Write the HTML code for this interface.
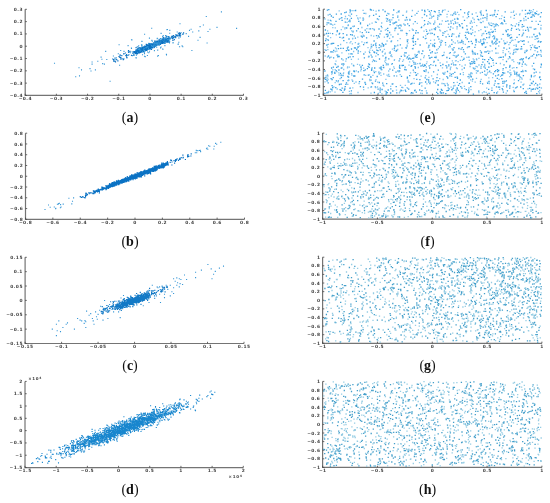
<!DOCTYPE html>
<html><head><meta charset="utf-8"><style>
html,body{margin:0;padding:0;background:#fff;width:550px;height:503px;overflow:hidden}
svg{display:block}
</style></head><body>
<svg width="550" height="503" viewBox="0 0 550 503">
<g font-family="DejaVu Sans, sans-serif" font-weight="bold" font-size="4.4" fill="#444" letter-spacing="0.45">
<path d="M25.2 9.3V95.45H243.5" fill="none" stroke="#747474" stroke-width="1.2"/>
<path d="M25.20 95.45v-1.7M56.39 95.45v-1.7M87.57 95.45v-1.7M118.76 95.45v-1.7M149.94 95.45v-1.7M181.13 95.45v-1.7M212.31 95.45v-1.7M243.50 95.45v-1.7M25.2 95.45h1.7M25.2 83.14h1.7M25.2 70.84h1.7M25.2 58.53h1.7M25.2 46.22h1.7M25.2 33.91h1.7M25.2 21.61h1.7M25.2 9.30h1.7" fill="none" stroke="#444" stroke-width="0.8"/>
<text x="25.3" y="100.0" text-anchor="middle">−0.4</text>
<text x="56.5" y="100.0" text-anchor="middle">−0.3</text>
<text x="87.7" y="100.0" text-anchor="middle">−0.2</text>
<text x="118.9" y="100.0" text-anchor="middle">−0.1</text>
<text x="150.0" y="100.0" text-anchor="middle">0</text>
<text x="181.2" y="100.0" text-anchor="middle">0.1</text>
<text x="212.4" y="100.0" text-anchor="middle">0.2</text>
<text x="243.6" y="100.0" text-anchor="middle">0.3</text>
<text x="23.0" y="97.0" text-anchor="end">−0.4</text>
<text x="23.0" y="84.6" text-anchor="end">−0.3</text>
<text x="23.0" y="72.3" text-anchor="end">−0.2</text>
<text x="23.0" y="60.0" text-anchor="end">−0.1</text>
<text x="23.0" y="47.7" text-anchor="end">0</text>
<text x="23.0" y="35.4" text-anchor="end">0.1</text>
<text x="23.0" y="23.1" text-anchor="end">0.2</text>
<text x="23.0" y="10.8" text-anchor="end">0.3</text>
<path d="M25.5 133.2V219.3H244.5" fill="none" stroke="#747474" stroke-width="1.2"/>
<path d="M25.50 219.3v-1.7M52.87 219.3v-1.7M80.25 219.3v-1.7M107.63 219.3v-1.7M135.00 219.3v-1.7M162.38 219.3v-1.7M189.75 219.3v-1.7M217.12 219.3v-1.7M244.50 219.3v-1.7M25.5 219.30h1.7M25.5 208.54h1.7M25.5 197.78h1.7M25.5 187.01h1.7M25.5 176.25h1.7M25.5 165.49h1.7M25.5 154.72h1.7M25.5 143.96h1.7M25.5 133.20h1.7" fill="none" stroke="#444" stroke-width="0.8"/>
<text x="25.6" y="223.9" text-anchor="middle">−0.8</text>
<text x="53.0" y="223.9" text-anchor="middle">−0.6</text>
<text x="80.3" y="223.9" text-anchor="middle">−0.4</text>
<text x="107.7" y="223.9" text-anchor="middle">−0.2</text>
<text x="135.1" y="223.9" text-anchor="middle">0</text>
<text x="162.5" y="223.9" text-anchor="middle">0.2</text>
<text x="189.9" y="223.9" text-anchor="middle">0.4</text>
<text x="217.2" y="223.9" text-anchor="middle">0.6</text>
<text x="244.6" y="223.9" text-anchor="middle">0.8</text>
<text x="23.3" y="220.8" text-anchor="end">−0.8</text>
<text x="23.3" y="210.0" text-anchor="end">−0.6</text>
<text x="23.3" y="199.3" text-anchor="end">−0.4</text>
<text x="23.3" y="188.5" text-anchor="end">−0.2</text>
<text x="23.3" y="177.8" text-anchor="end">0</text>
<text x="23.3" y="167.0" text-anchor="end">0.2</text>
<text x="23.3" y="156.2" text-anchor="end">0.4</text>
<text x="23.3" y="145.5" text-anchor="end">0.6</text>
<text x="23.3" y="134.7" text-anchor="end">0.8</text>
<path d="M25.1 257.3V343.5H244.0" fill="none" stroke="#747474" stroke-width="1.2"/>
<path d="M25.10 343.5v-1.7M61.58 343.5v-1.7M98.07 343.5v-1.7M134.55 343.5v-1.7M171.03 343.5v-1.7M207.52 343.5v-1.7M244.00 343.5v-1.7M25.1 343.50h1.7M25.1 329.13h1.7M25.1 314.77h1.7M25.1 300.40h1.7M25.1 286.03h1.7M25.1 271.67h1.7M25.1 257.30h1.7" fill="none" stroke="#444" stroke-width="0.8"/>
<text x="25.2" y="348.1" text-anchor="middle">−0.15</text>
<text x="61.7" y="348.1" text-anchor="middle">−0.1</text>
<text x="98.2" y="348.1" text-anchor="middle">−0.05</text>
<text x="134.7" y="348.1" text-anchor="middle">0</text>
<text x="171.1" y="348.1" text-anchor="middle">0.05</text>
<text x="207.6" y="348.1" text-anchor="middle">0.1</text>
<text x="244.1" y="348.1" text-anchor="middle">0.15</text>
<text x="22.9" y="345.0" text-anchor="end">−0.15</text>
<text x="22.9" y="330.6" text-anchor="end">−0.1</text>
<text x="22.9" y="316.3" text-anchor="end">−0.05</text>
<text x="22.9" y="301.9" text-anchor="end">0</text>
<text x="22.9" y="287.5" text-anchor="end">0.05</text>
<text x="22.9" y="273.2" text-anchor="end">0.1</text>
<text x="22.9" y="258.8" text-anchor="end">0.15</text>
<path d="M25.0 381.4V467.55H243.3" fill="none" stroke="#747474" stroke-width="1.2"/>
<path d="M25.00 467.55v-1.7M56.19 467.55v-1.7M87.37 467.55v-1.7M118.56 467.55v-1.7M149.74 467.55v-1.7M180.93 467.55v-1.7M212.11 467.55v-1.7M243.30 467.55v-1.7M25.0 467.55h1.7M25.0 455.24h1.7M25.0 442.94h1.7M25.0 430.63h1.7M25.0 418.32h1.7M25.0 406.01h1.7M25.0 393.71h1.7M25.0 381.40h1.7" fill="none" stroke="#444" stroke-width="0.8"/>
<text x="25.1" y="472.2" text-anchor="middle">−1.5</text>
<text x="56.3" y="472.2" text-anchor="middle">−1</text>
<text x="87.5" y="472.2" text-anchor="middle">−0.5</text>
<text x="118.7" y="472.2" text-anchor="middle">0</text>
<text x="149.8" y="472.2" text-anchor="middle">0.5</text>
<text x="181.0" y="472.2" text-anchor="middle">1</text>
<text x="212.2" y="472.2" text-anchor="middle">1.5</text>
<text x="243.4" y="472.2" text-anchor="middle">2</text>
<text x="22.8" y="469.1" text-anchor="end">−1.5</text>
<text x="22.8" y="456.7" text-anchor="end">−1</text>
<text x="22.8" y="444.4" text-anchor="end">−0.5</text>
<text x="22.8" y="432.1" text-anchor="end">0</text>
<text x="22.8" y="419.8" text-anchor="end">0.5</text>
<text x="22.8" y="407.5" text-anchor="end">1</text>
<text x="22.8" y="395.2" text-anchor="end">1.5</text>
<text x="22.8" y="382.9" text-anchor="end">2</text>
<path d="M323.3 9.2V95.3H541.9" fill="none" stroke="#747474" stroke-width="1.2"/>
<path d="M323.30 95.3v-1.7M377.95 95.3v-1.7M432.60 95.3v-1.7M487.25 95.3v-1.7M541.90 95.3v-1.7M323.3 95.30h1.7M323.3 86.69h1.7M323.3 78.08h1.7M323.3 69.47h1.7M323.3 60.86h1.7M323.3 52.25h1.7M323.3 43.64h1.7M323.3 35.03h1.7M323.3 26.42h1.7M323.3 17.81h1.7M323.3 9.20h1.7" fill="none" stroke="#444" stroke-width="0.8"/>
<text x="323.4" y="99.9" text-anchor="middle">−1</text>
<text x="378.1" y="99.9" text-anchor="middle">−0.5</text>
<text x="432.7" y="99.9" text-anchor="middle">0</text>
<text x="487.4" y="99.9" text-anchor="middle">0.5</text>
<text x="542.0" y="99.9" text-anchor="middle">1</text>
<text x="321.1" y="96.8" text-anchor="end">−1</text>
<text x="321.1" y="88.2" text-anchor="end">−0.8</text>
<text x="321.1" y="79.6" text-anchor="end">−0.6</text>
<text x="321.1" y="71.0" text-anchor="end">−0.4</text>
<text x="321.1" y="62.4" text-anchor="end">−0.2</text>
<text x="321.1" y="53.8" text-anchor="end">0</text>
<text x="321.1" y="45.1" text-anchor="end">0.2</text>
<text x="321.1" y="36.5" text-anchor="end">0.4</text>
<text x="321.1" y="27.9" text-anchor="end">0.6</text>
<text x="321.1" y="19.3" text-anchor="end">0.8</text>
<text x="321.1" y="10.7" text-anchor="end">1</text>
<path d="M322.6 133.1V219.2H541.9" fill="none" stroke="#747474" stroke-width="1.2"/>
<path d="M322.60 219.2v-1.7M377.43 219.2v-1.7M432.25 219.2v-1.7M487.07 219.2v-1.7M541.90 219.2v-1.7M322.6 219.20h1.7M322.6 210.59h1.7M322.6 201.98h1.7M322.6 193.37h1.7M322.6 184.76h1.7M322.6 176.15h1.7M322.6 167.54h1.7M322.6 158.93h1.7M322.6 150.32h1.7M322.6 141.71h1.7M322.6 133.10h1.7" fill="none" stroke="#444" stroke-width="0.8"/>
<text x="322.7" y="223.8" text-anchor="middle">−1</text>
<text x="377.5" y="223.8" text-anchor="middle">−0.5</text>
<text x="432.4" y="223.8" text-anchor="middle">0</text>
<text x="487.2" y="223.8" text-anchor="middle">0.5</text>
<text x="542.0" y="223.8" text-anchor="middle">1</text>
<text x="320.4" y="220.7" text-anchor="end">−1</text>
<text x="320.4" y="212.1" text-anchor="end">−0.8</text>
<text x="320.4" y="203.5" text-anchor="end">−0.6</text>
<text x="320.4" y="194.9" text-anchor="end">−0.4</text>
<text x="320.4" y="186.3" text-anchor="end">−0.2</text>
<text x="320.4" y="177.6" text-anchor="end">0</text>
<text x="320.4" y="169.0" text-anchor="end">0.2</text>
<text x="320.4" y="160.4" text-anchor="end">0.4</text>
<text x="320.4" y="151.8" text-anchor="end">0.6</text>
<text x="320.4" y="143.2" text-anchor="end">0.8</text>
<text x="320.4" y="134.6" text-anchor="end">1</text>
<path d="M322.6 257.2V343.3H541.9" fill="none" stroke="#747474" stroke-width="1.2"/>
<path d="M322.60 343.3v-1.7M377.43 343.3v-1.7M432.25 343.3v-1.7M487.07 343.3v-1.7M541.90 343.3v-1.7M322.6 343.30h1.7M322.6 334.69h1.7M322.6 326.08h1.7M322.6 317.47h1.7M322.6 308.86h1.7M322.6 300.25h1.7M322.6 291.64h1.7M322.6 283.03h1.7M322.6 274.42h1.7M322.6 265.81h1.7M322.6 257.20h1.7" fill="none" stroke="#444" stroke-width="0.8"/>
<text x="322.7" y="347.9" text-anchor="middle">−1</text>
<text x="377.5" y="347.9" text-anchor="middle">−0.5</text>
<text x="432.4" y="347.9" text-anchor="middle">0</text>
<text x="487.2" y="347.9" text-anchor="middle">0.5</text>
<text x="542.0" y="347.9" text-anchor="middle">1</text>
<text x="320.4" y="344.8" text-anchor="end">−1</text>
<text x="320.4" y="336.2" text-anchor="end">−0.8</text>
<text x="320.4" y="327.6" text-anchor="end">−0.6</text>
<text x="320.4" y="319.0" text-anchor="end">−0.4</text>
<text x="320.4" y="310.4" text-anchor="end">−0.2</text>
<text x="320.4" y="301.8" text-anchor="end">0</text>
<text x="320.4" y="293.1" text-anchor="end">0.2</text>
<text x="320.4" y="284.5" text-anchor="end">0.4</text>
<text x="320.4" y="275.9" text-anchor="end">0.6</text>
<text x="320.4" y="267.3" text-anchor="end">0.8</text>
<text x="320.4" y="258.7" text-anchor="end">1</text>
<path d="M322.6 381.4V467.4H541.9" fill="none" stroke="#747474" stroke-width="1.2"/>
<path d="M322.60 467.4v-1.7M377.43 467.4v-1.7M432.25 467.4v-1.7M487.07 467.4v-1.7M541.90 467.4v-1.7M322.6 467.40h1.7M322.6 458.80h1.7M322.6 450.20h1.7M322.6 441.60h1.7M322.6 433.00h1.7M322.6 424.40h1.7M322.6 415.80h1.7M322.6 407.20h1.7M322.6 398.60h1.7M322.6 390.00h1.7M322.6 381.40h1.7" fill="none" stroke="#444" stroke-width="0.8"/>
<text x="322.7" y="472.0" text-anchor="middle">−1</text>
<text x="377.5" y="472.0" text-anchor="middle">−0.5</text>
<text x="432.4" y="472.0" text-anchor="middle">0</text>
<text x="487.2" y="472.0" text-anchor="middle">0.5</text>
<text x="542.0" y="472.0" text-anchor="middle">1</text>
<text x="320.4" y="468.9" text-anchor="end">−1</text>
<text x="320.4" y="460.3" text-anchor="end">−0.8</text>
<text x="320.4" y="451.7" text-anchor="end">−0.6</text>
<text x="320.4" y="443.1" text-anchor="end">−0.4</text>
<text x="320.4" y="434.5" text-anchor="end">−0.2</text>
<text x="320.4" y="425.9" text-anchor="end">0</text>
<text x="320.4" y="417.3" text-anchor="end">0.2</text>
<text x="320.4" y="408.7" text-anchor="end">0.4</text>
<text x="320.4" y="400.1" text-anchor="end">0.6</text>
<text x="320.4" y="391.5" text-anchor="end">0.8</text>
<text x="320.4" y="382.9" text-anchor="end">1</text>
</g>
<g font-family="DejaVu Sans, sans-serif" font-weight="bold" font-size="4" fill="#444" letter-spacing="0.7"><text x="28.3" y="380.2">×10<tspan dy="-1.2" font-size="3.2">4</tspan></text><text x="228.6" y="478.2">×10<tspan dy="-1.2" font-size="3.2">4</tspan></text></g>
<path stroke="#0a70c2" stroke-width="1.2" stroke-linecap="square" d="M159.5 41.5h0M136.3 52.8h0M153.9 43.2h0M147.0 46.3h0M166.2 39.5h0M160.9 43.7h0M135.5 51.3h0M148.9 47.6h0M151.6 45.7h0M139.1 51.2h0M146.6 50.5h0M155.4 42.9h0M155.2 43.1h0M166.2 41.0h0M143.5 48.9h0M162.0 42.6h0M164.5 42.4h0M155.7 42.8h0M159.7 42.7h0M157.5 43.2h0M168.8 38.1h0M153.7 42.8h0M138.5 52.0h0M141.1 50.6h0M146.7 48.0h0M160.7 43.2h0M136.2 52.1h0M145.3 49.0h0M140.8 51.3h0M148.8 47.1h0M146.6 48.4h0M154.6 44.1h0M166.6 39.9h0M165.8 38.9h0M142.0 48.0h0M152.6 45.3h0M138.0 52.7h0M136.1 49.8h0M149.0 45.5h0M143.1 47.1h0M154.5 43.8h0M139.9 52.1h0M137.1 52.6h0M143.9 49.9h0M159.0 42.9h0M146.4 48.5h0M158.5 43.7h0M140.4 50.4h0M168.8 40.7h0M168.6 37.8h0M141.8 49.6h0M150.5 46.6h0M136.4 50.1h0M142.6 49.3h0M148.0 46.4h0M168.1 40.7h0M143.6 48.4h0M150.2 45.2h0M153.4 45.0h0M143.6 50.0h0M135.7 52.2h0M159.3 44.6h0M157.0 43.1h0M147.7 45.1h0M139.4 50.9h0M143.9 48.5h0M150.4 46.7h0M148.1 48.4h0M136.6 52.0h0M157.2 43.5h0M149.7 45.9h0M155.6 43.3h0M140.7 49.9h0M146.2 48.9h0M160.4 44.5h0M140.7 50.8h0M159.1 44.4h0M149.7 47.6h0M158.2 44.0h0M157.5 41.2h0M148.8 46.7h0M148.8 46.7h0M155.8 43.7h0M146.8 47.0h0M144.4 47.6h0M159.9 42.8h0M154.2 45.3h0M161.6 41.7h0M161.7 42.7h0M143.2 51.7h0M154.3 45.2h0M157.7 43.4h0M147.9 46.4h0M160.6 41.4h0M152.7 46.8h0M149.8 47.0h0M149.6 45.0h0M155.4 44.7h0M137.9 49.6h0M153.1 44.0h0M155.4 45.6h0M147.2 48.3h0M163.8 41.7h0M159.1 40.6h0M150.4 47.0h0M162.3 43.0h0M153.8 44.2h0M140.1 51.2h0M150.5 45.2h0M134.5 52.2h0M166.2 40.0h0M165.7 38.8h0M150.7 44.9h0M156.6 44.8h0M147.9 45.9h0M154.5 44.7h0M136.9 51.8h0M160.1 43.2h0M161.1 42.3h0M163.7 39.4h0M157.3 44.0h0M166.1 38.6h0M138.6 51.9h0M149.5 44.7h0M152.7 45.0h0M155.8 43.3h0M154.4 43.2h0M147.2 46.4h0M139.7 48.8h0M148.6 45.6h0M160.5 40.5h0M143.3 49.3h0M136.6 50.1h0M162.8 40.2h0M159.1 45.0h0M154.0 46.3h0M157.5 43.2h0M150.9 45.7h0M155.9 45.9h0M162.6 40.8h0M134.5 52.2h0M137.2 52.8h0M149.4 44.8h0M164.5 42.0h0M157.4 42.3h0M144.7 47.3h0M156.5 43.9h0M157.4 44.3h0M161.2 43.0h0M149.7 43.7h0M147.8 47.2h0M139.0 51.4h0M165.9 40.6h0M149.4 47.1h0M138.7 50.8h0M140.1 52.0h0M136.2 51.8h0M142.9 48.9h0M162.5 43.4h0M145.2 48.7h0M155.0 46.0h0M158.9 43.5h0M150.4 46.9h0M161.4 42.9h0M154.7 41.1h0M156.4 44.7h0M159.2 42.6h0M162.5 43.2h0M162.6 39.1h0M153.6 44.7h0M153.0 44.4h0M141.9 51.9h0M152.6 47.7h0M139.7 47.9h0M159.3 43.3h0M148.7 48.6h0M163.5 42.5h0M159.7 41.8h0M152.7 46.8h0M147.0 46.3h0M139.6 52.4h0M149.5 48.5h0M160.1 41.1h0M142.4 48.4h0M140.7 52.4h0M145.9 49.6h0M159.1 43.1h0M145.8 49.3h0M157.7 41.4h0M135.9 52.7h0M138.7 50.2h0M156.3 44.3h0M136.1 53.1h0M161.4 41.6h0M157.7 44.4h0M139.5 49.6h0M161.4 42.0h0M145.7 49.1h0M137.1 51.8h0M142.1 49.1h0M145.0 48.7h0M147.4 46.7h0M165.2 41.0h0M152.8 45.1h0M137.7 53.1h0M143.2 49.8h0M166.2 41.2h0M137.6 50.8h0M146.6 49.5h0M161.8 42.9h0M139.7 52.6h0M162.1 41.6h0M162.1 40.4h0M151.0 46.4h0M137.4 50.6h0M142.4 49.6h0M152.0 47.0h0M155.7 44.3h0M148.5 47.8h0M143.1 49.3h0M155.0 44.4h0M166.8 40.8h0M144.6 48.3h0M143.5 51.0h0M147.9 47.2h0M153.4 45.1h0M157.3 41.1h0M142.9 47.4h0M146.6 48.1h0M161.5 41.7h0M153.6 45.3h0M136.3 53.3h0M146.7 45.4h0M139.7 51.1h0M165.8 37.9h0M162.2 40.6h0M162.8 41.1h0M135.5 53.4h0M166.3 38.7h0M146.9 49.0h0M165.3 40.4h0M166.2 40.9h0M156.0 45.3h0M157.3 43.5h0M159.2 39.4h0M161.2 43.3h0M165.1 40.3h0M147.0 49.1h0M144.9 47.8h0M155.1 43.7h0M150.3 46.6h0M157.1 44.5h0M163.8 41.6h0M134.9 52.5h0M149.0 47.3h0M160.1 41.2h0M155.5 42.4h0M142.4 47.5h0M144.7 46.1h0M144.0 49.3h0M146.6 47.9h0M159.5 43.5h0M165.2 40.7h0M143.7 51.3h0M167.1 38.5h0M150.0 45.6h0M161.1 40.0h0M154.3 47.4h0M151.9 47.0h0M143.2 48.0h0M150.2 44.4h0M137.8 48.7h0M145.8 47.4h0M139.6 52.8h0M139.1 52.4h0M164.7 40.5h0M156.5 42.7h0M152.0 47.3h0M151.2 46.1h0M149.6 48.2h0M149.9 47.0h0M151.4 46.3h0M145.3 48.8h0M146.0 47.2h0M162.0 42.7h0M140.4 50.2h0M150.6 44.7h0M143.2 51.2h0M153.2 45.9h0M165.1 39.4h0M149.7 48.1h0M168.2 38.9h0M138.9 51.0h0M151.0 46.6h0M143.3 49.8h0M156.6 43.9h0M139.6 48.9h0M143.8 48.6h0M144.6 48.7h0M141.8 50.8h0M147.6 46.4h0M162.1 41.3h0M138.8 52.8h0M146.7 46.5h0M158.7 43.1h0M147.4 46.3h0M138.0 49.8h0M141.1 48.9h0M151.7 46.7h0M164.5 41.2h0M162.2 41.5h0M164.8 41.1h0M158.3 44.2h0M151.9 45.4h0M149.0 47.3h0M163.8 41.3h0M146.2 49.2h0M150.0 46.9h0M150.4 46.3h0M161.4 41.1h0M151.5 49.4h0M143.3 48.4h0M158.8 42.5h0M148.9 46.4h0M162.5 39.8h0M154.1 45.1h0M144.7 48.3h0M150.1 45.2h0M166.3 40.5h0M157.8 44.4h0M134.9 51.5h0M140.1 50.4h0M151.8 43.6h0M164.7 39.2h0M138.5 52.0h0M155.5 43.1h0M152.7 45.1h0M161.7 41.4h0M138.2 50.5h0M155.6 44.0h0M139.1 50.5h0M160.8 42.2h0M155.0 44.4h0M149.2 46.7h0M152.1 44.2h0M145.1 46.8h0M137.8 52.3h0M154.4 46.8h0M141.1 48.2h0M163.4 40.9h0M158.2 42.8h0M158.5 41.9h0M160.4 42.6h0M154.7 45.0h0M155.8 45.7h0M161.2 40.5h0M146.3 48.3h0M161.0 41.5h0M148.9 46.6h0M149.4 46.8h0M167.1 39.6h0M158.4 44.5h0M145.5 48.0h0M144.6 49.4h0M168.5 36.5h0M140.0 50.3h0M150.7 47.4h0M139.3 49.6h0M155.4 43.5h0M158.6 43.8h0M159.0 43.6h0M136.4 53.5h0M151.6 46.0h0M141.1 49.7h0M159.2 41.2h0M133.7 54.8h0M136.5 50.4h0M147.4 45.7h0M165.0 40.1h0M168.2 40.4h0M147.3 46.7h0M163.8 40.9h0M156.7 41.4h0M164.8 41.0h0M167.1 40.3h0M160.0 44.1h0M143.1 49.7h0M145.7 47.3h0M138.3 52.7h0M155.9 41.5h0M161.6 42.3h0M147.4 48.1h0M151.3 47.4h0M163.0 41.9h0M137.2 51.9h0M165.8 38.8h0M142.1 49.1h0M144.4 49.6h0M138.9 49.9h0M155.6 44.2h0M164.0 40.3h0M162.9 41.3h0M155.4 45.2h0M143.8 49.3h0M159.4 44.7h0M144.8 47.8h0M148.1 46.8h0M147.5 47.5h0M141.4 50.6h0M153.7 44.9h0M163.1 40.4h0M154.3 44.1h0M154.7 44.0h0M152.0 44.9h0M154.9 44.6h0M166.8 39.0h0M146.0 46.4h0M144.4 47.4h0M149.9 47.1h0M163.1 41.1h0M146.4 49.4h0M166.7 39.5h0M159.7 43.6h0M146.6 48.1h0M150.2 46.0h0M156.7 43.2h0M152.1 44.7h0M139.6 51.6h0M138.7 51.4h0M140.2 50.6h0M159.9 43.3h0M158.7 42.1h0M160.9 43.6h0M151.7 47.4h0M162.3 41.6h0M156.1 45.0h0M138.6 49.3h0M155.0 44.0h0M157.4 42.6h0M140.5 49.5h0M146.3 49.5h0M143.9 49.2h0M136.6 52.9h0M146.8 47.5h0M153.3 44.9h0M159.8 42.7h0M163.6 41.4h0M149.9 44.1h0M145.4 47.3h0M168.9 36.8h0M136.4 51.2h0M137.4 53.6h0M134.0 52.7h0M142.5 47.4h0M142.6 50.1h0M152.0 44.9h0M147.6 46.0h0M144.3 49.4h0M146.5 47.3h0M142.5 48.2h0M159.3 43.9h0M155.0 46.4h0M156.8 43.7h0M153.7 46.0h0M143.4 47.9h0M165.1 40.3h0M148.3 45.9h0M138.8 50.7h0M165.4 40.9h0M141.4 48.6h0M165.5 39.3h0M145.2 47.5h0M153.8 43.5h0M141.7 51.3h0M155.7 46.0h0M159.7 42.1h0M136.3 52.1h0M148.1 48.7h0M144.2 48.8h0M160.1 43.6h0M163.6 37.9h0M147.2 45.6h0M147.1 47.5h0M165.0 41.0h0M148.8 47.6h0M156.3 44.8h0M151.2 45.7h0M146.5 48.4h0M168.7 39.2h0M147.2 48.2h0M138.3 49.9h0M135.4 52.1h0M138.0 50.9h0M150.0 46.7h0M150.7 44.9h0M151.8 47.2h0M139.1 51.0h0M137.9 49.4h0M163.4 41.0h0M154.6 44.1h0M155.1 43.7h0M134.9 52.4h0M168.1 38.4h0M147.9 49.0h0M156.6 45.4h0M134.7 53.0h0M161.4 41.3h0M142.3 50.5h0M168.2 38.6h0M151.5 46.3h0M139.0 51.1h0M154.9 45.3h0M156.8 43.4h0M147.3 50.0h0M157.7 44.5h0M165.4 40.6h0M154.0 45.0h0M149.2 45.7h0M158.8 42.8h0M138.1 51.7h0M140.7 48.6h0M156.0 43.8h0M161.5 41.3h0M162.7 41.2h0M140.1 49.5h0M149.3 46.6h0M141.5 49.4h0M149.0 44.5h0M165.3 39.9h0M139.5 52.3h0M142.8 47.8h0M140.4 49.3h0M145.8 48.0h0M152.1 45.1h0M150.1 46.3h0M143.3 47.2h0M137.7 51.7h0M140.5 48.2h0M148.1 47.1h0M142.1 48.1h0M151.6 44.9h0M151.6 45.5h0M148.2 45.5h0M159.1 44.4h0M166.3 38.2h0M159.6 44.3h0M151.2 48.8h0M147.6 47.9h0M146.9 47.6h0M141.5 49.6h0M142.3 51.7h0M162.5 42.0h0M145.7 47.8h0M160.0 42.6h0M139.3 53.0h0M158.7 43.7h0M143.2 49.3h0M146.7 49.0h0M155.5 44.1h0M161.9 41.6h0M162.9 43.0h0M141.2 50.9h0M152.4 44.7h0M154.7 44.1h0M145.5 48.9h0M140.2 51.4h0M147.6 48.0h0M149.4 43.8h0M148.6 45.7h0M137.5 51.2h0M138.7 51.1h0M155.5 44.4h0M162.8 42.6h0M153.5 46.4h0M145.1 48.6h0M144.6 49.0h0M149.9 48.8h0M166.9 42.1h0M167.8 41.1h0M163.9 40.6h0M140.9 48.6h0M154.6 46.7h0M138.2 49.9h0M148.6 46.5h0M149.3 46.6h0M136.7 50.9h0M158.7 42.1h0M150.3 46.7h0M142.8 51.6h0M165.7 41.5h0M136.8 52.7h0M146.4 47.2h0M149.9 44.7h0M141.9 48.6h0M155.8 45.1h0M153.4 46.4h0M137.0 54.0h0M144.9 48.3h0M154.8 45.9h0M164.1 40.6h0M157.1 44.8h0M146.2 47.1h0M164.6 40.5h0M143.3 49.3h0M166.7 40.7h0M155.4 42.4h0M148.2 46.4h0M143.0 50.2h0M156.2 43.5h0M161.2 42.4h0M160.3 44.2h0M164.5 40.3h0M163.8 40.6h0M144.2 49.1h0M138.3 48.9h0M136.6 53.5h0M154.3 43.9h0M143.4 49.0h0M146.4 47.6h0M146.8 48.2h0M138.7 50.6h0M160.3 42.3h0M141.2 50.7h0M155.2 45.4h0M151.8 46.2h0M158.8 42.6h0M155.7 43.6h0M152.2 46.0h0M150.6 47.9h0M161.3 40.1h0M154.2 45.1h0M143.4 49.2h0M146.3 44.3h0M141.5 49.9h0M145.5 49.4h0M150.9 46.6h0M145.7 48.1h0M147.7 46.8h0M148.7 47.4h0M142.6 49.7h0M162.0 40.2h0M160.9 41.8h0M140.7 50.2h0M148.4 47.8h0M138.5 51.6h0M162.2 41.4h0M158.3 43.7h0M155.3 44.6h0M146.2 48.8h0M153.8 46.5h0M115.0 58.2h0M150.4 46.6h0M148.9 43.8h0M179.7 35.8h0M159.1 42.8h0M148.7 45.9h0M158.5 42.6h0M134.2 51.9h0M164.7 40.6h0M164.9 39.9h0M163.2 41.7h0M113.6 59.5h0M136.1 47.6h0M128.5 50.6h0M165.9 41.8h0M159.1 40.3h0M138.1 47.0h0M168.9 42.0h0M164.8 43.0h0M123.3 59.7h0M119.9 55.1h0M162.5 43.3h0M175.3 36.5h0M114.9 61.1h0M177.0 35.1h0M172.8 36.3h0M146.0 47.3h0M126.7 57.6h0M115.5 61.9h0M144.2 48.1h0M164.6 41.7h0M116.7 59.7h0M172.9 40.3h0M150.5 48.8h0M169.4 38.4h0M126.3 55.9h0M119.5 57.1h0M171.5 36.8h0M179.6 34.9h0M178.0 35.9h0M120.4 55.2h0M156.8 43.2h0M121.8 55.6h0M138.5 49.3h0M179.1 33.0h0M113.6 60.9h0M167.6 40.6h0M140.4 50.5h0M180.5 33.5h0M128.0 55.4h0M152.3 44.6h0M133.0 53.2h0M155.5 45.5h0M128.6 52.1h0M168.1 42.1h0M172.5 38.7h0M141.5 48.9h0M143.5 49.4h0M168.5 39.2h0M143.2 46.9h0M126.5 54.6h0M135.1 51.8h0M114.0 61.2h0M142.4 49.7h0M172.2 36.1h0M145.6 50.4h0M157.4 42.5h0M156.1 41.4h0M139.9 47.5h0M119.0 56.5h0M142.4 50.6h0M144.9 47.1h0M164.8 40.3h0M141.8 47.8h0M125.5 53.0h0M156.5 45.3h0M146.1 46.2h0M112.7 59.0h0M131.5 55.3h0M146.9 44.5h0M130.0 51.4h0M158.6 42.2h0M173.0 37.2h0M144.6 48.4h0M152.5 47.8h0M179.3 35.5h0M158.6 43.4h0M150.2 46.9h0M138.0 51.6h0M126.6 56.1h0M124.0 53.6h0M155.8 44.0h0M178.4 33.8h0M144.9 46.3h0M120.9 59.1h0M141.6 51.5h0M121.0 58.8h0M121.0 57.8h0M144.4 47.4h0M176.4 35.9h0M136.1 53.7h0M164.2 43.5h0M172.4 38.3h0M148.4 46.2h0M143.4 48.0h0M151.3 46.3h0M170.8 38.0h0M145.4 48.2h0M141.6 47.6h0M148.1 47.3h0M123.8 58.9h0M166.7 36.3h0M179.7 34.2h0M157.7 44.2h0M156.1 43.2h0M142.0 47.4h0M163.4 37.9h0M163.8 37.6h0M175.7 37.7h0M183.6 32.9h0M155.8 43.3h0M155.2 42.1h0M173.6 35.5h0M177.4 35.9h0M142.3 49.6h0M141.6 49.5h0M182.8 34.1h0M164.9 42.0h0M139.0 48.0h0M159.1 40.3h0M150.7 46.4h0M120.4 57.3h0M133.8 51.5h0M178.9 38.0h0M179.4 32.8h0M141.3 49.2h0M158.1 41.8h0M173.9 37.0h0M163.1 41.0h0M148.0 46.7h0M137.4 49.4h0M128.9 52.3h0M137.3 52.8h0M175.8 34.8h0M165.3 40.5h0M136.5 50.1h0M172.3 38.2h0M151.9 45.1h0M180.6 35.2h0M117.9 60.8h0M123.7 54.0h0M136.9 52.6h0M163.9 38.3h0M179.4 36.0h0M174.6 36.8h0M165.8 42.0h0M138.6 49.0h0M173.7 37.9h0M136.1 50.6h0M174.3 39.7h0"/>
<path stroke="#3596d6" stroke-width="1.1" stroke-linecap="square" d="M166.0 41.1h0M159.6 44.3h0M154.0 45.5h0M147.8 47.0h0M162.9 40.1h0M143.8 48.3h0M170.1 39.2h0M157.4 45.0h0M160.6 38.6h0M158.7 44.0h0M130.4 52.8h0M144.8 50.7h0M155.8 41.4h0M160.6 47.9h0M169.2 39.8h0M140.1 51.7h0M144.5 53.8h0M168.0 36.8h0M168.0 39.9h0M137.6 52.4h0M166.5 38.6h0M169.5 42.9h0M161.2 38.9h0M157.9 43.8h0M153.1 43.2h0M148.5 48.4h0M146.2 48.0h0M151.5 45.4h0M148.5 43.7h0M168.9 37.3h0M144.1 52.3h0M152.6 46.4h0M149.7 49.8h0M136.4 55.1h0M141.5 47.6h0M132.3 55.7h0M152.3 41.3h0M151.4 45.9h0M155.6 46.2h0M165.1 43.5h0M144.4 48.7h0M163.2 35.6h0M138.4 49.4h0M157.7 42.9h0M155.9 45.4h0M169.3 37.8h0M146.7 47.1h0M139.8 49.2h0M145.9 47.6h0M162.7 36.6h0M169.6 41.8h0M160.8 40.2h0M142.5 54.8h0M138.7 45.8h0M159.9 43.1h0M150.5 43.5h0M170.0 39.1h0M166.1 41.1h0M148.9 43.3h0M151.9 40.4h0M163.8 41.5h0M139.0 49.4h0M161.1 33.4h0M163.0 38.4h0M165.6 35.6h0M156.2 43.1h0M167.7 39.5h0M170.3 38.6h0M143.4 49.9h0M134.2 55.1h0M158.9 42.1h0M164.3 43.1h0M135.8 50.7h0M157.2 43.2h0M142.1 45.1h0M140.8 50.4h0M142.5 51.6h0M157.3 38.4h0M156.5 43.5h0M168.5 37.8h0M153.9 47.1h0M153.9 44.9h0M156.7 47.3h0M161.1 47.0h0M158.9 45.2h0M132.9 53.2h0M148.5 48.5h0M153.9 47.7h0M148.7 52.7h0M153.8 45.9h0M155.5 43.0h0M139.4 50.0h0M153.4 46.0h0M154.3 44.8h0M147.8 46.5h0M154.4 43.5h0M137.9 48.9h0M166.8 37.3h0M137.2 46.7h0M144.5 53.1h0M150.3 43.9h0M143.4 50.2h0M165.6 38.7h0M156.9 42.8h0M151.8 45.9h0M164.7 42.9h0M164.5 39.9h0M157.0 44.1h0M141.6 46.0h0M158.4 40.7h0M139.6 48.1h0M164.9 45.6h0M144.9 51.4h0M160.8 41.9h0M155.7 43.8h0M148.5 49.5h0M132.2 51.8h0M141.5 44.8h0M169.7 41.3h0M147.5 52.0h0M221.4 11.9h0M206.3 16.5h0M236.6 28.4h0M217.0 27.4h0M209.9 29.2h0M203.4 25.0h0M200.1 26.6h0M198.8 30.9h0M208.0 31.5h0M180.0 23.8h0M191.1 29.2h0M189.5 30.4h0M192.7 32.0h0M186.2 33.6h0M188.6 36.4h0M200.1 37.4h0M198.0 40.2h0M207.1 43.0h0M167.4 29.5h0M169.8 30.4h0M177.2 32.0h0M181.0 32.5h0M182.9 34.5h0M180.5 36.9h0M178.8 42.3h0M178.0 44.3h0M179.6 46.7h0M182.1 45.9h0M173.1 42.6h0M191.9 50.5h0M166.5 54.9h0M163.0 49.2h0M75.7 76.7h0M79.5 75.9h0M79.0 67.7h0M81.5 69.9h0M90.0 68.6h0M91.0 71.0h0M95.4 69.9h0M92.1 62.0h0M92.1 64.1h0M97.8 61.2h0M101.1 57.1h0M101.9 59.2h0M102.7 63.6h0M104.4 64.1h0M106.8 59.5h0M105.7 51.4h0M110.1 81.2h0M113.4 56.0h0M115.0 59.5h0M116.3 57.9h0M118.3 53.8h0M119.1 44.8h0M119.6 65.3h0M120.7 50.5h0M122.4 58.7h0M124.0 51.4h0M128.1 45.6h0M131.4 48.1h0M131.9 39.9h0M125.6 55.5h0M128.9 54.6h0M133.0 55.5h0M136.3 57.9h0M142.0 41.5h0M144.5 56.3h0M149.4 38.3h0M158.4 55.5h0M151.7 28.3h0M167.0 29.6h0M169.7 33.2h0M144.6 34.3h0M157.2 38.6h0M149.5 38.1h0M141.9 41.4h0M131.5 39.7h0M165.9 35.9h0M173.0 43.0h0M178.4 44.1h0M179.5 46.8h0M182.8 46.8h0M162.6 49.0h0M157.7 50.1h0M154.4 50.6h0M149.5 51.7h0M147.4 55.5h0M157.7 56.1h0M166.4 54.4h0M145.2 56.6h0M135.9 57.7h0M127.2 57.7h0M128.3 51.7h0M131.5 48.4h0M54.5 63.3h0"/>
<path stroke="#0a72c4" stroke-width="1.2" stroke-linecap="square" d="M127.8 180.5h0M138.5 174.1h0M103.2 187.7h0M114.6 185.7h0M124.9 180.1h0M133.4 177.5h0M148.8 171.9h0M138.8 176.3h0M130.2 177.8h0M131.9 178.6h0M133.5 176.4h0M132.0 176.7h0M124.3 180.4h0M125.3 178.1h0M136.0 175.9h0M132.5 177.0h0M121.3 181.1h0M139.6 173.8h0M141.5 172.2h0M127.0 179.6h0M130.7 178.7h0M138.0 176.0h0M155.6 169.3h0M114.0 182.8h0M131.5 177.9h0M128.0 178.2h0M115.1 183.3h0M143.4 172.9h0M135.8 175.4h0M149.3 171.5h0M138.9 174.0h0M132.2 175.3h0M148.6 171.7h0M127.3 176.7h0M124.0 180.7h0M110.8 185.6h0M151.2 170.3h0M111.3 184.0h0M134.8 176.0h0M160.4 166.8h0M139.7 173.9h0M126.1 179.0h0M161.1 167.4h0M166.7 163.1h0M118.4 182.4h0M119.0 181.6h0M95.0 192.8h0M134.3 175.3h0M120.0 181.3h0M153.4 169.9h0M124.6 179.7h0M149.4 170.2h0M160.1 167.1h0M134.3 177.0h0M114.8 183.7h0M148.8 169.0h0M116.9 183.2h0M151.3 170.8h0M165.8 165.5h0M132.2 176.5h0M150.5 171.2h0M154.6 169.3h0M127.7 180.9h0M146.4 172.1h0M138.6 174.3h0M139.3 172.9h0M147.2 170.6h0M120.5 183.0h0M138.4 175.2h0M127.1 179.9h0M127.7 178.0h0M133.8 176.6h0M152.0 169.8h0M140.6 174.8h0M154.4 168.4h0M125.8 179.8h0M157.2 167.7h0M131.7 175.5h0M118.1 182.9h0M127.7 178.0h0M145.5 172.3h0M122.1 179.9h0M146.9 171.0h0M116.3 183.8h0M113.0 185.0h0M140.4 174.9h0M140.5 174.8h0M154.4 167.3h0M128.0 178.6h0M147.9 172.0h0M117.4 183.4h0M160.4 166.5h0M141.4 173.4h0M143.1 172.5h0M146.4 173.0h0M127.9 179.6h0M131.2 177.6h0M145.2 173.6h0M153.0 168.1h0M168.0 163.2h0M121.8 181.9h0M120.3 182.0h0M145.3 171.6h0M139.3 174.0h0M136.9 175.1h0M166.6 163.9h0M128.6 179.7h0M112.0 184.7h0M141.9 173.7h0M131.1 176.5h0M118.5 182.4h0M137.1 176.1h0M151.1 170.9h0M135.6 176.6h0M154.2 169.2h0M131.8 176.4h0M147.8 172.0h0M120.5 181.0h0M162.9 165.7h0M118.5 184.7h0M98.0 189.7h0M139.6 175.6h0M130.2 178.2h0M150.7 169.1h0M126.6 180.7h0M143.0 173.1h0M140.4 173.8h0M156.6 167.0h0M128.8 181.2h0M142.5 174.5h0M124.9 180.4h0M109.1 185.3h0M114.5 184.6h0M144.6 173.6h0M127.5 180.0h0M143.7 172.8h0M132.3 177.2h0M138.6 175.9h0M112.9 185.1h0M119.7 182.6h0M156.4 167.9h0M127.4 178.5h0M131.3 177.1h0M142.4 174.0h0M122.9 181.7h0M153.6 168.4h0M124.3 180.3h0M155.8 168.4h0M155.1 167.9h0M115.8 184.0h0M152.5 169.3h0M104.8 188.3h0M123.8 180.9h0M142.0 172.9h0M134.8 177.6h0M115.8 183.2h0M134.4 176.6h0M154.6 168.4h0M129.5 178.8h0M124.0 181.8h0M152.2 170.7h0M125.9 179.0h0M107.3 187.2h0M131.5 177.9h0M104.3 188.5h0M122.1 179.9h0M150.7 169.1h0M113.5 185.8h0M137.7 175.1h0M113.3 185.2h0M122.4 182.9h0M144.7 172.8h0M122.1 182.9h0M135.5 177.1h0M126.7 180.3h0M139.4 174.1h0M130.1 177.9h0M152.5 169.7h0M119.4 181.6h0M128.0 179.5h0M123.3 180.5h0M128.7 179.4h0M121.3 180.2h0M124.1 179.4h0M149.4 171.3h0M162.0 166.0h0M153.6 170.1h0M122.9 180.0h0M131.0 177.5h0M121.5 182.7h0M134.4 176.3h0M129.0 178.2h0M123.3 181.9h0M116.5 183.4h0M149.7 172.9h0M142.4 172.9h0M149.3 170.9h0M132.7 177.0h0M145.6 170.9h0M119.8 181.6h0M147.5 170.3h0M133.4 177.5h0M155.4 168.2h0M127.9 178.7h0M130.0 179.4h0M144.0 172.3h0M134.8 176.9h0M147.8 171.7h0M103.0 188.3h0M161.8 165.6h0M153.2 169.5h0M141.0 173.8h0M133.5 176.8h0M144.8 172.0h0M126.6 178.7h0M127.1 179.4h0M130.9 178.1h0M144.7 172.0h0M114.7 185.8h0M140.1 172.5h0M128.7 178.3h0M126.6 179.7h0M141.1 174.6h0M146.8 170.9h0M147.0 171.7h0M146.4 172.9h0M145.7 172.5h0M149.3 171.9h0M125.3 178.8h0M140.8 173.5h0M147.7 171.5h0M138.7 174.9h0M145.6 171.4h0M126.0 178.4h0M153.2 170.0h0M154.0 167.9h0M154.3 170.4h0M137.7 175.5h0M148.4 170.5h0M150.3 171.6h0M129.8 179.0h0M129.1 177.9h0M111.4 186.2h0M134.4 176.2h0M127.4 179.2h0M121.9 182.6h0M145.4 171.6h0M142.9 174.9h0M140.9 174.5h0M141.5 174.7h0M156.3 167.6h0M135.1 176.2h0M135.5 176.9h0M126.5 180.8h0M129.2 177.5h0M146.8 171.7h0M137.3 175.4h0M141.4 173.7h0M145.4 172.1h0M154.1 168.7h0M136.8 175.8h0M133.9 174.9h0M165.6 164.5h0M134.9 176.1h0M127.5 179.0h0M146.4 173.2h0M144.7 172.7h0M143.9 173.4h0M110.6 184.5h0M141.4 174.9h0M119.4 182.6h0M134.0 178.2h0M118.4 182.8h0M148.5 171.1h0M134.2 177.6h0M130.2 177.7h0M146.6 172.1h0M113.2 185.5h0M135.9 176.1h0M128.3 178.6h0M129.3 179.6h0M148.3 171.4h0M137.7 174.9h0M141.6 174.0h0M149.4 171.6h0M140.5 175.1h0M130.6 178.3h0M144.0 172.4h0M138.1 174.1h0M141.2 174.5h0M155.7 168.6h0M141.0 172.5h0M130.7 179.8h0M161.8 164.3h0M154.0 168.6h0M134.4 177.0h0M111.4 185.0h0M127.4 180.1h0M144.4 172.1h0M137.6 175.6h0M123.7 179.1h0M128.3 178.8h0M121.3 182.7h0M160.8 167.0h0M107.1 186.6h0M125.0 181.1h0M123.1 181.2h0M128.7 178.4h0M129.2 178.8h0M144.4 171.8h0M138.3 175.0h0M106.9 185.8h0M118.1 182.5h0M158.8 167.2h0M139.5 174.9h0M140.4 173.8h0M98.3 189.2h0M144.6 171.9h0M162.9 165.1h0M148.6 171.8h0M120.8 181.8h0M158.2 165.7h0M143.0 174.1h0M108.7 186.4h0M139.0 174.4h0M144.7 172.5h0M153.9 169.4h0M116.4 185.1h0M144.7 171.7h0M148.7 171.5h0M163.0 165.1h0M120.8 181.3h0M120.0 182.8h0M152.6 168.8h0M133.8 177.0h0M138.3 174.0h0M126.6 180.0h0M132.6 178.2h0M158.7 167.0h0M139.8 173.4h0M149.3 171.8h0M148.9 171.8h0M118.9 181.1h0M154.2 168.4h0M124.6 180.4h0M155.5 168.7h0M167.7 163.1h0M137.7 176.0h0M125.0 179.4h0M144.6 173.5h0M125.9 178.8h0M130.0 178.2h0M133.9 175.7h0M148.7 170.9h0M124.4 179.3h0M99.4 191.4h0M134.3 176.7h0M152.8 170.0h0M141.9 174.2h0M138.0 175.5h0M134.1 175.6h0M130.6 178.4h0M165.0 163.7h0M166.0 164.7h0M137.1 175.7h0M138.6 175.5h0M131.5 178.8h0M152.3 169.6h0M128.9 178.3h0M142.2 174.2h0M134.8 178.0h0M117.5 182.5h0M141.3 171.9h0M144.0 173.0h0M147.7 171.3h0M132.2 175.1h0M109.9 185.0h0M114.7 184.7h0M141.8 174.3h0M110.2 186.6h0M124.5 179.9h0M136.3 174.9h0M138.7 173.2h0M165.0 165.1h0M149.9 170.4h0M126.0 179.3h0M143.1 172.7h0M130.1 178.0h0M136.9 176.0h0M128.9 179.1h0M121.3 183.1h0M96.7 190.4h0M163.8 163.8h0M148.3 170.5h0M133.5 176.1h0M143.2 174.1h0M142.9 172.9h0M148.7 169.8h0M141.5 174.2h0M153.4 169.8h0M131.1 177.8h0M160.5 168.0h0M133.6 176.3h0M134.3 178.5h0M117.9 183.1h0M140.1 176.1h0M126.7 178.3h0M140.2 174.3h0M136.5 174.3h0M125.9 180.1h0M162.2 167.6h0M149.5 170.1h0M143.0 172.8h0M146.5 171.6h0M114.0 185.1h0M133.3 176.2h0M157.1 167.9h0M132.5 175.2h0M114.7 184.3h0M122.8 182.3h0M121.8 182.6h0M120.9 180.8h0M138.4 175.3h0M128.7 179.1h0M131.5 176.6h0M115.2 184.4h0M156.9 167.8h0M111.8 184.5h0M115.9 185.2h0M149.0 169.3h0M141.1 173.1h0M154.4 168.4h0M165.5 164.6h0M148.1 172.2h0M134.8 178.5h0M148.7 173.5h0M150.6 170.6h0M131.5 178.4h0M108.1 188.3h0M145.1 172.0h0M145.9 171.9h0M159.2 165.9h0M130.3 177.7h0M126.1 178.3h0M147.9 171.3h0M131.5 177.3h0M143.0 172.8h0M135.5 175.7h0M114.8 184.8h0M164.0 166.0h0M155.8 168.4h0M123.4 180.6h0M128.4 178.5h0M108.2 186.3h0M132.5 177.4h0M135.7 175.3h0M142.2 173.5h0M166.8 162.8h0M131.9 177.1h0M143.4 173.2h0M134.0 176.4h0M158.3 165.5h0M154.9 170.3h0M147.1 171.5h0M138.7 174.1h0M140.3 173.3h0M141.7 175.5h0M139.2 175.0h0M135.3 175.4h0M148.2 172.1h0M129.4 178.2h0M138.6 174.8h0M113.8 186.2h0M137.1 177.5h0M128.5 180.5h0M148.9 170.6h0M135.5 175.8h0M143.5 173.6h0M102.3 189.1h0M152.0 171.3h0M106.0 187.9h0M127.1 178.6h0M126.0 180.4h0M132.9 177.0h0M141.3 173.0h0M166.0 162.9h0M123.6 180.8h0M144.8 171.7h0M131.7 177.6h0M105.8 185.8h0M147.6 173.8h0M122.6 179.4h0M124.2 181.1h0M133.1 179.6h0M128.5 178.3h0M147.3 171.3h0M125.9 179.7h0M117.1 183.6h0M138.2 176.2h0M152.7 169.6h0M154.2 166.4h0M112.2 186.6h0M100.6 189.7h0M154.9 168.3h0M116.9 183.5h0M133.8 176.9h0M127.3 179.2h0M157.1 166.9h0M120.6 181.5h0M96.9 191.2h0M122.3 181.9h0M132.5 175.8h0M152.8 169.1h0M100.9 189.3h0M139.6 173.8h0M135.6 175.0h0M132.8 178.1h0M121.9 179.7h0M143.5 173.2h0M141.7 173.8h0M105.5 188.4h0M145.8 171.9h0M161.5 166.7h0M129.3 179.6h0M123.0 179.7h0M137.3 174.7h0M125.1 179.5h0M138.4 176.0h0M138.1 174.6h0M136.8 176.3h0M111.9 184.2h0M137.3 174.0h0M131.8 176.5h0M143.1 174.6h0M142.9 171.7h0M135.3 177.9h0M113.0 183.7h0M163.0 164.8h0M139.6 174.0h0M141.4 172.8h0M147.3 170.5h0M139.0 175.2h0M139.0 175.2h0M152.0 169.0h0M131.5 178.9h0M156.3 168.3h0M131.5 178.0h0M147.5 170.7h0M98.5 190.0h0M132.5 177.6h0M157.2 167.1h0M113.7 184.9h0M148.6 170.0h0M156.1 167.5h0M102.7 189.3h0M126.2 179.2h0M133.8 177.7h0M146.1 171.1h0M138.9 173.5h0M139.4 174.8h0M150.8 170.8h0M135.2 176.2h0M153.3 171.3h0M138.7 173.7h0M136.7 176.3h0M141.2 173.2h0M113.6 184.7h0M141.7 174.4h0M151.6 169.0h0M133.2 176.8h0M141.2 173.0h0M132.3 175.7h0M150.4 170.9h0M152.0 169.1h0M141.3 174.4h0M158.4 168.0h0M130.8 178.3h0M121.9 181.9h0M114.0 184.8h0M161.9 165.5h0M123.4 181.4h0M134.6 176.2h0M147.3 172.6h0M143.6 173.0h0M145.2 173.7h0M133.5 176.5h0M106.0 189.6h0M164.2 166.1h0M140.7 173.3h0M115.2 182.3h0M162.9 165.3h0M128.8 178.5h0M112.7 186.5h0M164.7 164.8h0M146.4 171.5h0M128.2 177.5h0M137.7 174.8h0M122.2 181.5h0M145.3 171.7h0M113.5 183.9h0M121.5 181.7h0M134.1 176.6h0M109.2 187.7h0M153.8 169.9h0M155.7 168.7h0M143.1 172.5h0M107.5 186.8h0M114.3 183.9h0M119.2 182.3h0M141.7 173.2h0M144.2 173.1h0M145.1 172.4h0M130.6 177.1h0M125.1 181.9h0M138.4 175.1h0M124.3 179.1h0M162.6 164.1h0M159.1 167.5h0M146.1 171.4h0M112.6 184.3h0M139.0 174.6h0M152.5 167.9h0M125.2 179.9h0M135.2 176.9h0M132.3 177.7h0M161.8 163.2h0M143.1 171.9h0M157.2 169.7h0M126.1 179.3h0M144.3 172.6h0M116.8 185.0h0M126.0 180.7h0M117.8 183.1h0M136.0 176.3h0M130.9 179.3h0M150.0 169.5h0M125.2 181.3h0M155.0 168.0h0M137.6 175.3h0M124.3 180.6h0M128.4 178.3h0M156.0 167.8h0M114.3 185.3h0M149.4 171.7h0M152.8 169.3h0M122.8 182.0h0M127.7 180.1h0M130.2 179.2h0M122.3 181.2h0M142.4 173.3h0M134.8 177.7h0M152.8 169.8h0M156.7 167.6h0M156.8 169.0h0M127.2 179.9h0M121.7 180.5h0M160.2 166.4h0M119.8 182.1h0M116.7 181.7h0M141.7 175.3h0M124.9 182.0h0M148.4 173.0h0M137.6 175.7h0M142.9 172.9h0M150.1 171.7h0M130.6 178.0h0M126.6 180.0h0M133.5 176.3h0M159.8 166.2h0M117.7 183.7h0M113.9 184.8h0M142.2 173.9h0M130.9 177.1h0M157.9 166.6h0M159.7 167.5h0M153.6 168.9h0M149.6 172.1h0M152.7 170.8h0M143.6 173.8h0M116.7 182.5h0M130.2 177.6h0M114.7 183.7h0M138.3 175.1h0M126.4 179.5h0M133.4 176.8h0M136.4 174.5h0M123.4 181.3h0M145.2 172.8h0M153.5 168.6h0M126.4 179.7h0M167.8 164.0h0M107.7 186.8h0M134.5 177.3h0M129.3 177.8h0M107.4 187.4h0M128.1 178.4h0M113.7 184.4h0M136.6 177.2h0M137.9 174.4h0M141.3 173.5h0M144.9 171.3h0M164.2 165.8h0M110.7 185.8h0M132.4 176.5h0M133.5 176.2h0M154.0 169.1h0M151.8 169.5h0M147.5 172.0h0M155.1 168.3h0M125.1 180.3h0M138.6 174.8h0M115.0 184.5h0M142.7 174.7h0M164.9 164.5h0M160.7 165.9h0M138.5 175.2h0M127.8 179.5h0M150.6 170.2h0M159.8 166.7h0M144.7 172.4h0M133.1 178.4h0M150.9 169.3h0M148.9 170.2h0M158.7 166.6h0M140.8 172.1h0M132.4 178.1h0M143.0 173.2h0M135.6 175.6h0M154.5 169.0h0M131.2 178.0h0M123.8 179.8h0M132.5 178.2h0M130.5 180.0h0M130.7 176.8h0M138.6 175.3h0M159.3 167.9h0M135.0 175.8h0M144.8 170.0h0M141.2 173.9h0M129.8 178.6h0M138.5 175.5h0M121.9 180.7h0M130.3 178.5h0M138.9 174.7h0M139.6 175.3h0M122.1 181.7h0M151.6 170.2h0M149.7 170.6h0M119.7 182.4h0M159.2 168.4h0M136.5 176.7h0M135.4 176.5h0M126.9 179.6h0M127.1 180.7h0M138.5 174.0h0M117.4 184.0h0M122.8 180.0h0M139.1 174.7h0M132.4 176.8h0M121.3 180.7h0M137.6 175.6h0M132.5 177.8h0M148.0 170.2h0M115.4 182.4h0M140.1 176.9h0M154.3 168.6h0M147.1 171.7h0M135.5 175.6h0M161.3 167.7h0M109.4 187.0h0M157.5 167.3h0M134.0 175.8h0M137.3 176.0h0M118.2 181.9h0M139.5 174.4h0M143.7 174.0h0M147.0 172.2h0M140.4 174.5h0M134.1 177.4h0M149.2 170.8h0M162.8 165.5h0M159.0 167.7h0M160.4 166.7h0M155.6 169.4h0M116.6 184.1h0M150.1 170.9h0M121.4 180.3h0M134.7 176.4h0M114.4 184.5h0M164.2 165.6h0M153.9 171.3h0M109.3 186.1h0M145.8 171.3h0M126.7 179.3h0M146.6 173.1h0M118.3 181.9h0M147.0 171.5h0M155.4 168.7h0M160.7 167.0h0M138.3 175.9h0M136.4 177.1h0M107.8 187.9h0M134.8 174.9h0M140.0 175.2h0M135.9 175.2h0M139.0 176.8h0M159.9 166.0h0M115.3 183.4h0M115.0 183.9h0M108.3 185.4h0M135.0 176.7h0M160.7 165.9h0M148.5 171.3h0M118.6 182.2h0M132.2 178.4h0M121.4 181.5h0M124.4 180.0h0M126.4 178.5h0M141.3 172.6h0M155.7 167.3h0M151.6 169.4h0M143.1 172.6h0M95.9 190.8h0M145.3 172.4h0M138.9 175.6h0M131.3 178.4h0M148.7 169.2h0M131.4 177.9h0M152.4 170.2h0M102.1 189.9h0M125.8 179.9h0M133.7 176.8h0M139.4 173.9h0M140.8 173.4h0M135.8 177.8h0M116.8 183.4h0M124.2 179.8h0M109.4 186.0h0M117.5 183.1h0M131.4 178.4h0M151.6 171.0h0M132.9 178.3h0M134.3 175.7h0M107.0 187.6h0M153.9 168.6h0M156.4 168.8h0M126.8 179.6h0M129.9 178.8h0M143.6 172.2h0M115.4 183.9h0M115.9 183.9h0M165.5 164.1h0M126.2 179.7h0M146.8 170.6h0M129.5 179.2h0M152.4 168.5h0M158.6 168.0h0M159.9 167.3h0M141.7 173.9h0M152.8 169.4h0M143.3 172.8h0M156.2 167.5h0M149.5 169.7h0M136.2 176.6h0M145.9 171.8h0M122.0 180.2h0M127.8 180.6h0M111.7 183.0h0M122.3 180.9h0M151.6 169.9h0M143.4 173.3h0M111.7 185.5h0M128.9 179.7h0M127.9 178.0h0M132.7 177.5h0M143.5 173.7h0M127.3 179.3h0M131.0 177.5h0M131.5 178.3h0M142.3 172.8h0M129.9 178.6h0M118.4 184.1h0M159.2 167.4h0M159.8 166.3h0M140.8 173.8h0M97.4 192.0h0M141.6 175.4h0M143.5 173.4h0M149.4 169.5h0M131.3 178.4h0M121.4 181.4h0M142.9 174.8h0M148.2 171.6h0M127.8 177.4h0M139.4 175.2h0M129.2 178.0h0M130.8 177.2h0M141.0 173.7h0M119.7 183.8h0M139.8 173.0h0M116.3 182.9h0M121.4 180.9h0M128.3 179.5h0M129.8 177.8h0M130.5 179.7h0M143.6 171.1h0M145.9 171.6h0M147.4 171.9h0M149.0 170.9h0M152.7 168.1h0M135.3 175.8h0M150.1 171.3h0M157.2 168.1h0M112.3 185.8h0M146.9 171.9h0M136.0 176.1h0M141.0 171.6h0M102.6 188.7h0M122.2 180.5h0M160.5 167.8h0M117.1 183.4h0M137.2 176.4h0M125.4 179.8h0M130.6 178.6h0M131.8 178.2h0M131.4 178.4h0M129.2 178.8h0M161.3 166.8h0M116.5 180.9h0M126.5 181.7h0M159.3 165.1h0M126.1 179.8h0M123.2 182.4h0M132.3 176.9h0M124.8 180.6h0M146.0 173.9h0M99.2 189.7h0M124.8 178.5h0M140.7 174.7h0M150.5 172.6h0M153.0 170.1h0M112.8 182.6h0M153.5 170.4h0M128.0 180.6h0M138.8 173.6h0M126.0 179.9h0M130.2 178.0h0M134.6 177.2h0M115.3 184.2h0M126.1 180.0h0M131.4 175.7h0M128.4 178.3h0M137.6 174.2h0M111.5 186.5h0M125.8 177.7h0M131.6 174.9h0M126.1 178.5h0M157.9 168.1h0M137.7 176.4h0M148.3 170.2h0M129.8 177.0h0M137.9 173.6h0M134.6 178.3h0M146.0 171.9h0M134.4 177.3h0M115.7 182.9h0M143.5 172.5h0M117.7 183.2h0M104.6 187.9h0M166.8 164.1h0M124.8 181.1h0M153.8 169.2h0M157.9 166.5h0M120.0 181.9h0M133.6 177.0h0M98.0 189.5h0M151.6 169.4h0M143.6 173.2h0M116.4 182.8h0M139.5 174.0h0M153.2 169.3h0M124.3 179.5h0M150.6 170.3h0M132.3 178.6h0M136.2 176.1h0M140.6 174.1h0M130.2 176.7h0M141.4 174.0h0M142.2 174.5h0M159.2 167.0h0M153.2 169.1h0M155.2 166.4h0M138.5 174.8h0M146.1 171.8h0M124.2 180.6h0M138.0 176.1h0M146.3 171.7h0M116.9 183.8h0M114.0 185.4h0M135.3 176.6h0M124.1 181.6h0M138.6 174.7h0M144.9 172.4h0M136.4 174.1h0M115.7 182.6h0M146.1 171.3h0M134.4 176.9h0M130.9 176.1h0M115.5 184.7h0M123.9 180.9h0M156.0 168.6h0M123.2 181.5h0M125.9 179.3h0M103.9 188.6h0M136.7 175.1h0M151.3 169.6h0M139.8 174.1h0M113.0 183.9h0M136.9 174.0h0M131.7 177.9h0M124.8 180.1h0M136.4 176.5h0M157.2 167.6h0M120.0 182.4h0M110.0 186.0h0M118.4 180.4h0M127.1 178.9h0M116.7 183.1h0M103.8 188.4h0M149.1 171.5h0M139.0 174.4h0M123.0 181.8h0M155.2 169.3h0M157.3 167.5h0M144.9 171.0h0M156.6 167.9h0M150.2 170.9h0M135.3 178.8h0M108.5 187.3h0M143.2 173.4h0M102.2 188.4h0M126.7 180.0h0M111.3 185.7h0M136.9 174.9h0M131.6 177.6h0M121.8 179.9h0M121.6 180.7h0M153.3 168.9h0M106.6 188.8h0M142.0 173.1h0M109.1 186.3h0M129.3 179.0h0M124.8 179.9h0M122.3 180.6h0M126.5 178.9h0M138.3 175.4h0M136.4 176.3h0M144.3 173.5h0M143.3 174.5h0M144.7 170.7h0M155.6 167.4h0M117.9 182.0h0M150.9 170.2h0M128.8 179.8h0M159.7 167.1h0M137.2 172.7h0M130.8 179.0h0M163.3 164.2h0M139.2 175.0h0M135.1 173.8h0M156.2 165.9h0M110.5 184.5h0M133.3 176.5h0M162.6 165.8h0M145.3 173.5h0M139.4 176.0h0M117.7 183.0h0M109.5 184.1h0M132.7 177.4h0M136.6 175.1h0M140.3 172.4h0M144.5 172.1h0M151.9 171.0h0M142.3 173.3h0M121.8 180.3h0M148.3 171.4h0M144.7 175.8h0M118.3 183.9h0M137.2 176.5h0M136.5 174.8h0M145.3 172.5h0M132.9 178.4h0M147.7 170.6h0M136.9 175.4h0M125.9 180.2h0M141.7 173.9h0M129.3 178.8h0M136.8 176.4h0M129.2 178.3h0M150.7 168.8h0M115.3 184.4h0M143.9 171.9h0M123.7 180.5h0M107.4 186.8h0M123.6 181.1h0M117.2 183.2h0M148.2 171.5h0M130.7 178.9h0M141.7 173.5h0M149.3 169.4h0M146.2 172.7h0M134.7 177.6h0M152.0 170.8h0M143.3 173.2h0M159.5 167.7h0M143.2 173.1h0M111.3 185.8h0M127.1 179.2h0M129.1 178.5h0M138.4 174.3h0M120.5 180.5h0M157.5 167.5h0M137.0 176.9h0M124.3 180.7h0M127.2 178.9h0M133.3 177.7h0M120.8 181.7h0M127.1 179.2h0M96.8 191.3h0M126.8 178.8h0M110.2 184.6h0M142.4 175.5h0M130.0 177.5h0M129.8 177.9h0M151.8 169.7h0M116.9 181.7h0M113.4 184.4h0M126.4 180.0h0M137.4 174.3h0M123.6 180.2h0M155.5 170.4h0M160.3 166.4h0M122.0 180.6h0M137.6 175.3h0M156.3 168.7h0M142.9 172.6h0M122.2 180.3h0M116.0 183.2h0M163.6 165.1h0M125.7 179.3h0M139.4 174.4h0M137.5 175.0h0M140.6 174.5h0M147.6 171.9h0M142.1 173.5h0M132.1 176.8h0M152.9 168.7h0M128.0 179.5h0M133.6 176.4h0M153.3 169.8h0M149.4 170.6h0M144.1 172.4h0M159.1 167.2h0M142.9 171.9h0M133.8 177.5h0M127.6 178.9h0M140.2 174.2h0M140.0 174.1h0M151.2 169.7h0M108.5 187.1h0M126.5 179.7h0M157.5 168.1h0M140.4 175.0h0M165.7 165.1h0M150.1 169.1h0M149.8 168.8h0M131.9 177.1h0M129.9 178.6h0M120.6 181.7h0M139.5 174.2h0M132.6 177.2h0M138.7 175.4h0M146.7 172.6h0M114.8 182.1h0M145.3 173.1h0M149.8 169.8h0M131.8 178.8h0M121.7 181.5h0M141.9 173.9h0M148.2 171.4h0M128.7 178.0h0M129.8 178.1h0M123.4 181.8h0M150.6 170.6h0M143.3 174.1h0M164.7 163.9h0M108.5 187.4h0M145.3 171.2h0M123.8 182.4h0M143.5 173.4h0M142.3 173.3h0M118.8 182.7h0M134.9 176.4h0M161.4 166.6h0M108.3 187.1h0M147.8 170.9h0M164.2 167.1h0M113.9 184.2h0M140.8 172.7h0M128.4 178.8h0M158.7 167.3h0M121.3 180.5h0M143.8 172.0h0M144.9 172.6h0M139.6 174.9h0M149.5 170.7h0M163.9 165.5h0M148.6 170.7h0M122.3 181.7h0M162.5 164.8h0M128.6 178.9h0M140.7 175.0h0M137.7 175.3h0M123.4 179.8h0M117.3 181.8h0M123.4 181.4h0M166.3 163.6h0M145.7 173.0h0M145.1 172.0h0M122.9 181.7h0M117.7 183.0h0M100.8 190.0h0M126.7 179.0h0M139.1 175.0h0M130.4 178.6h0M140.4 172.3h0M132.5 178.2h0M118.0 181.4h0M133.4 175.9h0M163.6 164.5h0M152.0 170.1h0M137.9 175.9h0M121.7 181.5h0M144.0 172.2h0M147.4 171.0h0M148.1 170.4h0M113.5 184.6h0M108.4 188.3h0M131.0 176.9h0M132.5 178.2h0M123.2 179.8h0M163.6 166.6h0M97.6 191.1h0M135.1 176.7h0M156.3 168.8h0M136.5 175.2h0M191.2 153.9h0M85.7 194.2h0M110.1 187.2h0M123.9 180.8h0M119.5 182.5h0M188.0 154.7h0M148.1 172.6h0M114.1 181.9h0M190.9 156.0h0M121.1 183.0h0M135.0 177.8h0M161.3 166.9h0M95.4 192.1h0M141.5 177.0h0M101.9 187.8h0M161.8 165.7h0M85.6 196.7h0M116.2 183.1h0M99.2 190.6h0M117.6 182.3h0M131.3 179.0h0M114.8 183.8h0M120.8 180.6h0M89.0 192.7h0M126.5 179.5h0M137.2 174.4h0M187.7 157.0h0M165.3 164.7h0M118.2 180.5h0M103.3 188.2h0M137.0 174.7h0M175.4 161.3h0M104.5 188.6h0M150.4 171.8h0M174.0 160.7h0M85.0 197.8h0M136.9 178.5h0M187.8 155.6h0M181.2 157.7h0M141.3 176.6h0M124.6 180.3h0M163.3 167.8h0M155.9 169.3h0M89.2 193.6h0M125.3 178.7h0M145.2 172.9h0M140.3 174.5h0M98.6 191.5h0M127.1 179.0h0M113.7 183.5h0M162.3 165.5h0M148.4 171.4h0M134.5 176.1h0M93.9 191.2h0M82.1 197.2h0M183.0 158.0h0M94.0 192.7h0M119.6 184.0h0M165.2 165.6h0M185.4 159.5h0M167.9 163.6h0M106.8 187.3h0M148.9 170.6h0M138.3 176.7h0M144.3 172.1h0M109.4 186.6h0M86.4 193.9h0M91.9 192.8h0M116.9 183.2h0M167.4 161.7h0M144.4 172.1h0M99.3 190.1h0M170.6 160.2h0M159.5 166.5h0M103.2 189.4h0M132.9 176.2h0M179.4 159.5h0M159.8 167.9h0M156.3 169.2h0M150.2 171.8h0M127.0 180.3h0M150.6 173.9h0M144.1 174.3h0M106.5 186.6h0M93.8 193.7h0M170.2 162.3h0M158.7 166.9h0M178.5 160.3h0M101.9 187.1h0M102.8 188.3h0M155.5 171.0h0M167.2 164.8h0M171.5 160.4h0M102.1 188.4h0M107.1 186.0h0M87.4 194.3h0M149.9 170.8h0M114.7 182.9h0M109.1 185.8h0M90.5 192.9h0M123.2 182.1h0M167.6 162.8h0M109.8 183.7h0M94.5 191.0h0M161.2 164.6h0M141.1 174.1h0M164.7 165.1h0M86.0 193.2h0M168.4 165.0h0M96.5 191.1h0M188.8 156.4h0M146.0 171.5h0M161.4 164.7h0M112.5 182.7h0M155.8 166.6h0M163.3 163.2h0M123.9 181.6h0M134.7 176.1h0M119.4 180.9h0M166.4 165.0h0M123.0 180.9h0M182.9 155.2h0M138.3 175.9h0M129.7 176.2h0M139.1 175.8h0M86.8 195.4h0M113.9 184.3h0M161.9 165.9h0M102.7 187.4h0M110.6 186.5h0M82.9 196.6h0M175.8 159.7h0M162.9 167.2h0M93.8 191.6h0M126.3 179.5h0M126.1 179.9h0M179.7 158.4h0M116.6 181.7h0M155.8 167.3h0M113.0 184.3h0M110.5 187.2h0M164.3 166.3h0M142.7 174.2h0M131.0 175.8h0M129.9 179.7h0M156.2 170.3h0M175.5 160.5h0M129.2 178.1h0M158.7 167.4h0M126.5 180.1h0M95.1 191.8h0M131.0 178.5h0M118.7 184.6h0M157.0 168.3h0M93.4 190.9h0M107.8 187.4h0M84.1 197.5h0M102.8 188.6h0M176.4 160.1h0M171.9 165.0h0M148.9 169.5h0M93.0 193.7h0M161.8 167.0h0M138.0 175.6h0M98.0 190.8h0M85.5 195.5h0M180.3 159.2h0M166.7 163.9h0M172.0 162.0h0M183.2 157.3h0M80.3 196.7h0M177.1 158.8h0M125.0 178.9h0M151.8 168.5h0M122.6 181.2h0M136.0 175.1h0M102.5 190.0h0M155.9 168.5h0M137.4 174.9h0M118.3 183.2h0M161.0 167.9h0M96.3 190.6h0M81.3 197.5h0M124.7 180.3h0M187.6 156.0h0M174.6 163.1h0M99.4 192.8h0M117.9 181.2h0M175.5 160.0h0M150.9 170.1h0"/>
<path stroke="#3596d6" stroke-width="1.1" stroke-linecap="square" d="M73.6 197.9h0M55.8 208.4h0M48.5 205.0h0M57.4 204.2h0M63.2 204.1h0M60.6 204.6h0M50.2 207.2h0M68.9 198.3h0M60.4 207.8h0M72.5 201.3h0M61.1 207.0h0M58.7 203.5h0M45.0 209.5h0M59.4 203.3h0M71.8 203.9h0M55.6 208.7h0M58.2 204.3h0M54.3 207.0h0M206.5 148.7h0M195.3 152.8h0M200.6 151.6h0M207.8 149.2h0M214.2 146.2h0M196.3 150.7h0M196.3 150.3h0M197.8 150.6h0M207.1 148.0h0M196.7 152.7h0M199.4 150.5h0M213.8 149.0h0M208.6 145.8h0M200.2 150.4h0M220.8 142.3h0M215.6 143.4h0M216.7 144.2h0M209.8 146.3h0"/>
<path stroke="#1279c6" stroke-width="1.15" stroke-linecap="square" d="M126.6 306.9h0M143.9 299.3h0M141.9 298.4h0M144.8 297.5h0M136.0 299.5h0M139.6 298.5h0M128.5 301.0h0M118.1 303.0h0M128.1 299.9h0M118.6 308.3h0M132.9 299.8h0M134.1 305.1h0M142.3 298.0h0M123.6 306.0h0M143.5 296.2h0M128.9 300.6h0M139.5 297.4h0M125.2 303.2h0M123.8 303.7h0M142.8 299.1h0M141.4 294.7h0M121.4 304.8h0M132.8 301.8h0M122.3 307.5h0M138.3 301.6h0M137.8 299.0h0M134.5 297.9h0M142.3 298.3h0M127.3 302.1h0M143.2 299.1h0M142.4 296.9h0M133.5 304.4h0M130.9 303.6h0M141.1 298.7h0M131.2 298.0h0M132.9 300.1h0M132.8 300.2h0M129.2 303.0h0M142.6 299.9h0M127.3 303.2h0M126.5 300.2h0M126.2 303.5h0M144.6 297.2h0M137.5 300.7h0M138.6 300.9h0M142.1 298.0h0M127.2 305.7h0M121.7 303.3h0M138.9 298.1h0M123.6 304.2h0M122.3 305.8h0M129.6 302.8h0M138.7 300.2h0M132.9 300.0h0M143.7 297.5h0M134.9 301.2h0M140.9 300.6h0M132.6 299.2h0M144.3 299.4h0M136.2 297.9h0M139.9 301.3h0M120.0 307.4h0M129.1 300.5h0M130.3 301.7h0M136.8 297.7h0M138.2 298.9h0M145.2 293.8h0M133.1 301.7h0M142.6 297.8h0M130.2 303.3h0M135.2 299.6h0M138.7 302.3h0M128.3 302.1h0M142.1 298.4h0M126.9 303.8h0M140.3 299.2h0M125.3 304.4h0M144.4 296.4h0M144.7 293.9h0M131.1 301.9h0M122.8 307.1h0M121.1 303.7h0M143.4 294.4h0M141.5 297.9h0M149.0 297.3h0M147.4 295.7h0M145.6 296.5h0M123.0 304.3h0M135.1 299.1h0M138.6 296.5h0M125.9 301.9h0M134.7 301.4h0M122.3 305.9h0M117.1 304.0h0M123.1 302.8h0M129.5 304.6h0M140.6 296.8h0M128.2 304.0h0M141.2 299.4h0M146.6 295.8h0M127.0 302.0h0M124.3 304.7h0M121.0 303.5h0M149.4 294.3h0M121.1 302.9h0M123.6 306.4h0M127.8 302.5h0M132.4 303.5h0M131.2 302.6h0M133.8 301.4h0M131.3 304.5h0M138.2 298.4h0M140.9 298.8h0M116.5 306.5h0M143.2 296.7h0M127.5 304.3h0M139.8 298.6h0M135.9 302.9h0M142.0 299.0h0M138.3 302.5h0M141.7 297.8h0M143.6 296.1h0M137.9 301.5h0M138.3 301.2h0M144.7 298.8h0M120.4 308.6h0M135.3 300.2h0M117.8 306.1h0M139.5 297.5h0M147.7 294.8h0M134.7 302.4h0M132.4 303.8h0M138.1 301.0h0M121.6 304.0h0M125.8 302.9h0M140.8 297.5h0M126.8 307.2h0M141.0 298.4h0M122.5 303.1h0M122.9 304.9h0M134.3 298.6h0M141.0 304.3h0M136.9 297.9h0M121.2 304.5h0M138.0 299.4h0M123.2 306.4h0M122.1 306.6h0M148.8 297.8h0M150.4 297.1h0M134.5 300.3h0M135.2 302.5h0M131.8 300.5h0M140.4 300.2h0M146.0 297.3h0M143.2 298.3h0M122.1 308.4h0M132.6 297.6h0M136.1 300.7h0M129.0 300.7h0M132.3 298.1h0M121.6 306.3h0M147.4 294.1h0M146.0 297.9h0M133.9 299.6h0M142.2 299.4h0M126.8 302.5h0M119.1 306.1h0M136.1 300.5h0M132.8 300.8h0M127.6 302.7h0M139.7 301.2h0M138.4 302.7h0M132.9 299.3h0M132.4 299.6h0M141.3 294.0h0M148.3 295.7h0M132.2 304.4h0M124.7 307.3h0M132.7 298.5h0M142.8 295.4h0M148.8 299.0h0M146.2 297.2h0M146.8 296.2h0M129.4 299.2h0M127.2 307.2h0M144.8 297.7h0M146.2 297.8h0M117.4 306.0h0M145.9 294.3h0M118.0 306.8h0M138.4 298.5h0M130.5 302.5h0M129.0 302.6h0M138.2 296.9h0M123.6 303.9h0M126.8 299.5h0M120.1 304.8h0M132.2 302.7h0M131.9 303.3h0M147.1 292.7h0M139.2 299.2h0M134.6 298.4h0M143.8 299.5h0M127.1 302.8h0M139.2 301.3h0M141.4 298.1h0M134.5 300.3h0M124.8 302.9h0M140.3 297.6h0M149.5 295.0h0M144.7 297.9h0M145.2 293.2h0M131.9 298.6h0M140.9 299.7h0M128.8 299.6h0M143.3 297.3h0M124.0 301.8h0M124.2 303.0h0M124.0 306.7h0M142.8 299.9h0M117.4 309.5h0M142.2 297.2h0M131.3 300.1h0M131.8 298.1h0M120.3 308.4h0M131.8 303.0h0M126.1 301.6h0M132.5 299.8h0M141.4 300.7h0M145.4 293.8h0M140.1 297.3h0M128.5 301.6h0M150.1 295.1h0M145.6 296.3h0M145.3 294.9h0M137.6 297.6h0M118.3 308.7h0M135.4 301.0h0M140.0 297.9h0M141.3 298.0h0M121.1 308.0h0M117.6 304.8h0M138.2 297.1h0M129.5 302.2h0M123.0 304.1h0M135.9 302.7h0M134.5 301.7h0M128.6 297.7h0M126.4 303.3h0M140.0 298.1h0M142.3 296.2h0M122.8 305.1h0M143.1 297.6h0M123.9 305.2h0M125.8 303.1h0M137.9 301.3h0M134.8 298.4h0M133.8 301.6h0M139.3 297.9h0M129.9 300.6h0M130.0 301.2h0M131.5 297.3h0M138.7 300.9h0M121.7 303.6h0M120.3 307.2h0M119.0 305.0h0M146.0 297.4h0M146.6 295.3h0M142.4 296.1h0M140.6 301.4h0M134.3 301.3h0M139.2 297.8h0M131.3 300.2h0M131.6 301.3h0M136.4 302.8h0M129.4 301.9h0M121.7 307.3h0M122.7 302.4h0M148.6 296.6h0M126.7 302.5h0M139.5 299.6h0M138.3 300.6h0M128.9 301.6h0M127.3 305.1h0M128.4 300.9h0M137.0 300.0h0M136.5 302.2h0M141.0 300.4h0M147.4 296.0h0M129.1 303.7h0M128.4 300.6h0M148.2 291.9h0M124.1 301.8h0M129.0 300.0h0M131.8 301.1h0M124.0 305.4h0M125.4 307.2h0M142.1 296.8h0M129.1 301.8h0M136.0 300.3h0M143.5 295.7h0M133.8 299.8h0M142.3 300.9h0M123.6 303.7h0M132.9 302.6h0M132.5 302.7h0M120.8 304.9h0M131.6 299.5h0M123.1 299.9h0M138.6 297.0h0M140.9 300.0h0M127.8 299.8h0M134.0 303.0h0M126.8 304.7h0M134.6 300.5h0M148.9 293.4h0M147.1 293.8h0M121.5 306.9h0M130.7 296.1h0M126.6 305.6h0M148.2 296.4h0M119.3 306.2h0M138.6 300.8h0M147.7 296.7h0M148.5 293.5h0M145.0 294.8h0M146.1 295.4h0M141.1 297.1h0M135.1 295.4h0M137.6 296.4h0M137.0 297.3h0M121.8 304.1h0M143.7 299.1h0M131.7 300.9h0M136.1 299.8h0M134.3 298.3h0M136.5 301.2h0M146.3 295.1h0M133.6 302.3h0M128.5 300.3h0M138.1 300.4h0M137.2 299.8h0M133.8 304.5h0M133.0 302.1h0M128.7 303.1h0M136.6 298.7h0M133.3 302.5h0M147.6 300.5h0M130.3 303.1h0M127.2 304.6h0M147.4 298.0h0M127.5 303.3h0M133.8 299.3h0M130.4 299.4h0M131.8 302.1h0M123.6 302.4h0M135.4 300.4h0M119.8 302.3h0M129.5 302.4h0M136.2 297.5h0M145.0 298.0h0M124.7 304.4h0M132.8 303.7h0M133.6 298.9h0M119.2 306.7h0M143.5 298.9h0M128.3 306.4h0M131.2 303.2h0M128.0 302.8h0M131.8 302.2h0M138.2 297.5h0M126.4 299.5h0M128.5 303.3h0M134.9 299.2h0M143.4 300.2h0M148.7 297.6h0M135.0 300.0h0M132.2 297.9h0M133.4 300.9h0M135.6 301.0h0M139.8 295.3h0M131.7 302.4h0M130.8 297.3h0M141.3 298.9h0M117.3 309.1h0M118.4 306.1h0M137.5 298.9h0M145.8 293.6h0M141.9 297.2h0M125.4 303.8h0M140.7 296.6h0M135.4 298.4h0M126.2 305.4h0M122.5 305.7h0M131.2 303.9h0M137.8 296.8h0M122.1 302.6h0M138.1 297.3h0M120.6 307.6h0M135.9 299.3h0M117.2 304.4h0M141.1 297.2h0M126.5 303.6h0M144.2 297.1h0M129.6 303.6h0M130.1 306.8h0M136.1 296.9h0M144.3 292.8h0M118.7 305.5h0M149.6 296.0h0M138.3 297.7h0M137.0 301.4h0M131.4 302.6h0M130.3 301.7h0M130.6 302.0h0M124.6 302.8h0M131.4 301.6h0M147.0 297.2h0M119.8 305.1h0M135.9 298.9h0M142.7 296.6h0M121.8 306.8h0M136.7 300.6h0M116.8 307.1h0M125.2 303.4h0M146.3 298.7h0M127.8 303.5h0M131.1 297.3h0M125.8 303.3h0M140.5 300.5h0M137.4 301.2h0M126.0 303.1h0M127.5 304.4h0M130.3 303.6h0M140.9 298.3h0M124.6 301.2h0M129.3 302.6h0M137.6 298.3h0M143.5 296.1h0M136.1 299.6h0M138.0 302.0h0M126.6 304.0h0M138.0 301.1h0M119.6 306.2h0M134.9 300.0h0M131.2 302.8h0M126.1 302.1h0M128.0 300.5h0M142.8 297.8h0M147.3 297.5h0M121.3 310.3h0M132.2 301.2h0M147.2 299.5h0M136.3 299.2h0M128.4 303.1h0M144.9 297.1h0M122.6 305.0h0M124.6 303.9h0M144.5 296.4h0M129.3 300.6h0M144.0 297.5h0M132.6 300.9h0M142.0 297.3h0M144.0 295.1h0M144.0 297.8h0M132.9 300.9h0M146.9 299.4h0M138.0 302.6h0M133.5 300.4h0M137.7 299.9h0M131.6 298.0h0M131.9 301.7h0M132.0 303.3h0M122.3 304.3h0M131.1 302.2h0M145.1 298.4h0M141.8 298.3h0M139.3 299.1h0M146.4 294.9h0M139.4 302.1h0M138.7 298.6h0M131.4 302.6h0M140.3 299.3h0M141.1 298.9h0M131.8 303.8h0M137.1 299.8h0M130.8 300.6h0M133.6 300.8h0M137.7 298.8h0M133.9 301.5h0M125.7 304.0h0M137.1 301.8h0M135.2 300.5h0M130.3 301.0h0M135.0 299.7h0M138.9 299.7h0M137.3 299.7h0M127.8 303.1h0M131.5 301.6h0M136.3 298.5h0M141.0 296.2h0M134.1 301.5h0M130.7 299.7h0M131.1 300.8h0M134.4 301.9h0M132.7 299.6h0M130.2 300.7h0M137.3 300.2h0M140.2 299.5h0M129.8 301.9h0M136.6 299.6h0M136.4 299.6h0M135.7 301.1h0M133.6 301.7h0M133.3 301.6h0M131.9 301.4h0M139.5 299.4h0M125.9 305.6h0M127.6 301.2h0M132.9 300.3h0M134.3 301.6h0M132.7 301.0h0M141.1 296.8h0M128.7 303.6h0M131.5 301.1h0M134.3 300.3h0M132.0 302.6h0M139.5 299.5h0M125.5 305.3h0M141.5 298.9h0M129.7 302.5h0M134.7 301.5h0M139.9 297.5h0M124.9 304.5h0M127.6 302.7h0M131.2 301.1h0M134.3 300.1h0M128.3 302.4h0M131.2 301.7h0M141.2 297.8h0M135.0 300.7h0M138.0 295.8h0M131.0 300.9h0M131.9 300.8h0M140.7 296.7h0M135.4 301.8h0M138.4 298.9h0M128.4 301.1h0M140.8 298.1h0M138.8 299.6h0M127.1 303.2h0M138.4 298.2h0M128.5 302.2h0M128.0 302.8h0M134.3 299.6h0M124.6 303.7h0M130.2 303.5h0M138.2 297.1h0M130.8 302.3h0M131.6 300.7h0M139.0 297.5h0M131.3 301.8h0M140.8 296.9h0M140.5 295.6h0M130.1 303.2h0M126.2 305.0h0M142.3 296.2h0M140.9 298.5h0M133.2 300.6h0M130.4 302.0h0M137.1 299.4h0M141.4 296.7h0M134.0 302.1h0M138.5 298.6h0M133.9 300.5h0M140.1 296.3h0M136.7 299.8h0M138.5 299.5h0M140.6 296.8h0M132.4 299.3h0M138.8 300.0h0M129.5 302.3h0M132.1 300.7h0M130.2 300.4h0M140.8 298.8h0M135.4 298.5h0M129.9 300.5h0M140.1 299.7h0M132.8 300.9h0M134.0 301.3h0M141.5 295.6h0M128.5 301.8h0M128.7 301.2h0M141.7 295.8h0M135.5 300.1h0M129.2 303.4h0M136.4 299.5h0M130.7 301.8h0M133.4 301.6h0M129.4 299.1h0M127.4 302.9h0M130.6 300.8h0M124.6 302.0h0M134.2 301.1h0M139.8 298.4h0M130.1 301.5h0M139.2 299.8h0M133.5 299.7h0M139.4 299.7h0M136.9 297.1h0M137.6 298.4h0M135.1 300.1h0M127.8 302.8h0M127.8 305.3h0M142.5 297.3h0M137.8 299.1h0M129.6 300.6h0M136.7 301.5h0M140.8 298.4h0M137.3 300.9h0M137.4 299.9h0M126.9 303.4h0M141.9 296.3h0M133.6 299.0h0M128.9 302.3h0M130.2 304.4h0M130.8 301.6h0M127.7 303.4h0M126.4 304.0h0M131.6 303.8h0M137.2 297.4h0M141.7 299.0h0M135.0 300.0h0M143.2 294.8h0M141.3 297.3h0M137.8 299.9h0M142.3 298.2h0M124.7 305.4h0M139.5 300.7h0M129.2 302.3h0M102.8 313.9h0M107.4 307.7h0M106.2 308.3h0M115.7 304.9h0M118.7 304.2h0M134.0 298.5h0M103.2 309.3h0M105.9 310.8h0M162.7 289.4h0M143.9 296.0h0M108.7 306.5h0M119.5 303.3h0M131.6 301.5h0M101.1 311.7h0M109.6 310.7h0M140.2 297.2h0M136.8 298.0h0M119.9 302.4h0M112.6 308.9h0M107.4 312.1h0M110.0 308.0h0M129.8 298.9h0M115.3 307.7h0M106.1 311.0h0M129.0 300.2h0M147.8 295.0h0M113.0 303.8h0M111.1 306.7h0M121.6 303.8h0M148.3 292.1h0M104.0 309.4h0M120.6 305.7h0M115.2 309.4h0M144.5 300.2h0M136.4 301.7h0M131.1 297.0h0M103.8 308.4h0M153.8 293.5h0M116.2 306.4h0M141.4 297.9h0M117.2 308.2h0M134.4 298.1h0M126.4 304.6h0M147.4 291.0h0M136.8 304.8h0M127.4 300.5h0M124.4 304.9h0M122.3 306.5h0M107.9 310.3h0M110.7 306.5h0M152.7 290.8h0M119.7 309.6h0M116.6 307.0h0M142.6 296.9h0M148.1 294.0h0M144.1 296.7h0M114.1 308.9h0M117.6 304.2h0M161.6 290.7h0M145.6 295.7h0M151.7 291.2h0M116.1 304.9h0M124.6 307.4h0M157.2 291.2h0M139.8 299.5h0M153.3 290.9h0M164.3 288.8h0M161.6 291.7h0M156.5 292.6h0M123.6 302.6h0M120.6 306.5h0M125.6 303.5h0M124.9 305.4h0M135.2 299.0h0M151.7 294.6h0M140.3 292.3h0M157.2 287.0h0M103.0 311.8h0M112.6 306.3h0M154.4 293.2h0M118.4 301.1h0M161.5 290.8h0M155.8 294.5h0M134.3 300.7h0M118.9 304.2h0M163.0 287.3h0M112.0 306.1h0M130.1 298.7h0M146.5 294.5h0M141.8 297.2h0M110.6 301.7h0M140.9 298.5h0M151.6 293.2h0M162.1 291.3h0M116.4 305.5h0M107.3 309.2h0M113.3 306.7h0M142.9 295.4h0M120.0 305.0h0M132.1 299.3h0M143.6 300.4h0M144.1 296.6h0M162.6 289.2h0M128.3 301.8h0M119.1 307.3h0M126.0 303.7h0M132.5 301.6h0M135.0 300.6h0M125.5 303.5h0M102.0 311.4h0M149.8 296.0h0M131.0 301.6h0M101.9 313.3h0M141.0 295.0h0M148.6 297.2h0M128.2 298.6h0M154.4 292.5h0M128.6 303.6h0M129.9 299.9h0M113.3 305.8h0M108.1 310.6h0M167.1 286.4h0M143.5 297.2h0M142.3 293.7h0M141.5 297.4h0M129.6 303.8h0M125.3 300.5h0M126.7 302.7h0M103.8 310.7h0M114.7 307.1h0M108.6 311.8h0M161.4 292.0h0M127.3 297.3h0M126.0 302.3h0M106.2 311.1h0M162.7 290.0h0M143.5 295.4h0M129.1 302.0h0M164.6 289.1h0M115.7 306.4h0M137.9 294.8h0M151.6 292.5h0M146.5 296.4h0M163.1 288.0h0M117.2 306.2h0M124.2 300.1h0M166.4 287.1h0M121.1 303.8h0M119.7 306.1h0M110.1 308.6h0M102.2 306.5h0M111.6 307.2h0M149.6 288.3h0M116.9 308.1h0M146.5 292.0h0M102.3 306.7h0M119.7 301.0h0M113.4 302.3h0M114.7 306.9h0M130.5 303.0h0M130.4 302.1h0M126.5 302.9h0M133.1 300.3h0M122.3 301.4h0M161.1 289.8h0M154.5 295.8h0M160.7 291.6h0M152.6 293.4h0M129.6 303.0h0M105.2 308.5h0M144.0 295.4h0M149.6 290.7h0M162.4 287.0h0M121.1 303.0h0M103.3 312.8h0M142.3 295.7h0M151.4 290.7h0M116.7 304.8h0M139.0 301.9h0M158.4 290.6h0M123.6 303.3h0M149.2 293.2h0M143.5 295.1h0M136.6 293.5h0M132.8 306.6h0M125.1 303.8h0M140.8 299.4h0M136.2 298.5h0M106.8 305.5h0M167.3 287.3h0M116.3 308.2h0M129.9 301.2h0M122.1 301.4h0M142.4 296.4h0M132.4 299.3h0M106.1 311.0h0M137.9 296.2h0M123.6 305.9h0M136.9 295.7h0M149.0 295.4h0M108.2 306.0h0M145.4 297.0h0M153.4 293.9h0M136.9 300.6h0M160.2 289.7h0M154.8 290.4h0M145.1 298.1h0M113.1 301.5h0M128.8 303.8h0M129.9 306.3h0M142.6 301.1h0M104.5 310.0h0M133.8 300.5h0M129.9 298.6h0M113.0 305.6h0M125.9 306.5h0M147.0 295.8h0M139.6 298.1h0M131.0 304.0h0M120.0 302.4h0M101.6 311.3h0M131.8 299.3h0M124.3 298.6h0M128.5 303.4h0M141.6 299.0h0M141.9 297.8h0M136.6 303.1h0M148.9 290.2h0M135.5 297.4h0M133.0 304.8h0M123.9 303.0h0M126.8 303.4h0M165.1 291.8h0M117.1 307.6h0M164.4 287.4h0M113.6 304.7h0M124.8 303.2h0M151.6 294.1h0M116.0 304.7h0M109.5 308.3h0M138.3 298.3h0M155.4 293.1h0M142.9 300.3h0M115.4 309.1h0M123.7 307.2h0M142.9 298.3h0M123.5 299.4h0M145.5 296.5h0M116.3 305.0h0M128.0 301.6h0M138.8 295.3h0M114.7 301.2h0M112.5 308.1h0M121.8 308.2h0M122.7 303.0h0M147.5 297.1h0M120.7 307.0h0M121.2 304.8h0M125.8 305.2h0M145.6 298.7h0"/>
<path stroke="#3596d6" stroke-width="1.1" stroke-linecap="square" d="M52.3 329.1h0M56.4 335.6h0M57.2 330.7h0M60.5 331.6h0M58.8 320.9h0M56.4 324.2h0M62.9 327.5h0M66.2 324.2h0M67.5 322.9h0M74.4 329.1h0M77.6 318.5h0M80.1 320.1h0M81.7 320.9h0M85.0 320.6h0M85.8 321.7h0M85.8 327.5h0M84.2 323.4h0M86.6 311.1h0M89.1 315.2h0M90.7 313.6h0M92.4 318.5h0M93.2 320.9h0M94.0 324.2h0M95.6 311.9h0M96.5 316.8h0M97.3 319.3h0M98.1 314.4h0M99.7 310.3h0M100.6 306.2h0M102.2 312.7h0M103.0 320.1h0M104.6 300.5h0M105.5 309.5h0M107.1 307.8h0M107.9 318.5h0M109.6 304.5h0M112.0 309.5h0M113.6 311.9h0M116.1 301.3h0M118.6 311.9h0M120.2 317.6h0M121.0 298.0h0M122.7 308.6h0M123.5 295.5h0M207.9 264.5h0M223.5 266.1h0M219.4 268.1h0M211.2 268.9h0M215.3 271.4h0M201.4 270.1h0M195.6 272.2h0M213.6 274.3h0M212.0 278.7h0M195.6 277.6h0M184.5 275.0h0M186.6 279.5h0M173.6 278.7h0M176.8 277.9h0M179.3 278.7h0M180.9 279.5h0M175.2 281.2h0M177.6 282.8h0M180.1 283.6h0M176.8 285.3h0M179.3 286.9h0M182.6 284.5h0M170.3 285.3h0M173.6 287.7h0M171.9 291.8h0M173.6 293.5h0M170.3 295.9h0M164.5 297.6h0M166.2 285.3h0M167.8 289.4h0M158.0 287.7h0M159.6 286.9h0M162.1 286.1h0M162.9 291.0h0M160.5 302.5h0M152.3 285.3h0M149.0 302.5h0M143.3 305.7h0M156.4 295.9h0M154.7 298.4h0M159.6 294.3h0M164.5 294.3h0"/>
<path stroke="#1886ce" stroke-width="1.1" stroke-linecap="square" d="M91.8 441.5h0M170.1 411.2h0M179.7 399.7h0M121.5 425.9h0M93.9 437.1h0M104.3 430.3h0M119.2 430.0h0M89.3 442.0h0M187.0 407.4h0M129.6 424.9h0M152.5 409.8h0M138.5 425.2h0M155.1 419.9h0M123.2 428.3h0M101.4 436.5h0M161.5 415.2h0M106.4 434.1h0M96.0 439.9h0M154.1 409.3h0M93.2 437.5h0M89.3 441.2h0M169.0 407.8h0M138.4 430.0h0M108.9 426.7h0M105.8 433.6h0M80.5 444.3h0M156.1 418.8h0M130.5 425.8h0M151.0 417.5h0M159.7 407.5h0M106.4 436.6h0M160.4 415.4h0M134.6 421.6h0M138.7 420.3h0M75.2 447.2h0M142.5 418.2h0M113.3 434.6h0M105.3 437.7h0M123.4 433.4h0M107.6 436.8h0M112.6 431.3h0M98.8 440.6h0M102.5 437.7h0M122.7 433.7h0M175.4 402.7h0M75.6 446.4h0M48.9 450.1h0M117.2 441.2h0M147.8 420.9h0M109.7 430.4h0M49.4 461.3h0M95.0 430.3h0M95.0 434.5h0M65.1 449.6h0M141.8 418.2h0M130.6 432.1h0M83.5 444.0h0M142.1 420.8h0M104.6 431.0h0M164.5 414.9h0M141.7 423.0h0M176.9 410.3h0M120.0 429.7h0M148.3 417.3h0M100.5 434.3h0M121.6 426.4h0M140.2 417.0h0M127.6 427.8h0M121.9 426.1h0M131.8 425.4h0M118.8 426.6h0M97.8 439.1h0M128.9 423.4h0M119.8 431.0h0M127.7 426.8h0M114.9 435.2h0M135.9 422.6h0M119.7 425.9h0M64.6 446.0h0M141.0 427.3h0M131.9 425.8h0M100.0 442.4h0M150.9 416.8h0M135.7 428.8h0M164.4 408.8h0M144.6 421.0h0M141.9 422.6h0M161.9 412.8h0M118.1 432.1h0M84.8 443.6h0M125.2 426.5h0M161.0 412.6h0M136.3 425.5h0M128.4 428.3h0M91.0 440.1h0M92.0 442.7h0M117.1 438.3h0M98.7 440.2h0M117.7 427.6h0M136.1 421.1h0M153.9 416.9h0M146.0 420.5h0M160.1 412.6h0M94.6 443.1h0M72.0 448.9h0M104.9 429.7h0M77.5 447.7h0M132.9 420.9h0M140.3 422.3h0M180.1 399.1h0M93.6 436.2h0M104.0 433.1h0M83.4 444.3h0M98.0 438.4h0M143.4 417.3h0M117.4 428.5h0M131.9 425.4h0M88.1 442.4h0M109.9 436.7h0M117.5 434.4h0M121.0 434.4h0M129.4 428.5h0M147.3 416.7h0M100.5 432.0h0M139.8 429.2h0M114.6 432.2h0M149.0 417.7h0M144.9 414.1h0M138.5 423.9h0M109.8 437.1h0M85.7 439.4h0M143.6 421.9h0M144.2 420.3h0M120.7 433.5h0M108.5 432.8h0M126.8 427.7h0M127.0 434.3h0M76.6 451.6h0M108.0 432.6h0M139.5 418.8h0M163.1 413.1h0M153.7 418.5h0M123.0 423.0h0M128.8 423.6h0M117.3 433.0h0M117.6 427.3h0M128.8 426.6h0M117.7 432.0h0M122.5 427.2h0M132.8 421.3h0M91.8 440.5h0M98.1 439.4h0M145.0 422.0h0M69.5 453.7h0M108.7 432.9h0M127.5 432.7h0M107.6 442.9h0M96.4 433.8h0M106.4 439.2h0M99.0 434.8h0M99.2 434.9h0M93.5 441.6h0M91.6 442.6h0M168.5 409.9h0M138.4 428.8h0M131.2 427.5h0M150.5 416.8h0M108.0 442.7h0M109.0 436.5h0M104.2 437.0h0M143.9 422.8h0M139.3 427.4h0M190.6 395.5h0M105.3 434.1h0M41.8 455.5h0M156.4 409.1h0M94.9 440.7h0M109.7 436.5h0M61.0 454.4h0M150.4 415.0h0M143.6 418.7h0M130.0 422.9h0M173.4 414.9h0M129.8 429.2h0M102.4 437.6h0M143.3 420.2h0M100.7 437.6h0M153.8 421.9h0M164.9 420.0h0M125.2 421.7h0M76.9 443.1h0M46.1 457.7h0M156.9 411.0h0M136.2 420.6h0M135.8 428.5h0M119.6 429.9h0M125.5 432.3h0M119.0 429.7h0M66.2 452.9h0M119.4 427.8h0M123.9 431.7h0M111.6 436.5h0M108.7 433.0h0M134.8 419.2h0M94.1 444.6h0M88.3 439.1h0M99.6 439.2h0M141.8 416.1h0M84.4 439.4h0M121.1 431.2h0M113.3 431.5h0M169.7 408.7h0M163.0 414.2h0M130.0 421.1h0M179.3 404.5h0M135.0 425.5h0M138.6 421.9h0M140.7 424.7h0M109.4 438.2h0M141.6 418.7h0M139.7 414.5h0M95.9 442.8h0M70.4 443.6h0M173.3 411.5h0M104.7 431.3h0M125.1 433.4h0M154.4 413.9h0M85.5 442.9h0M68.8 447.0h0M70.4 454.2h0M145.5 413.1h0M130.2 419.7h0M111.4 426.9h0M165.4 416.8h0M78.9 445.7h0M66.2 455.7h0M152.2 417.2h0M85.4 440.1h0M170.7 414.2h0M111.8 426.0h0M129.9 423.7h0M112.6 430.1h0M149.0 414.6h0M103.0 435.9h0M101.9 434.4h0M176.8 404.8h0M153.4 421.1h0M141.8 424.5h0M123.7 430.6h0M140.4 421.3h0M118.1 427.5h0M139.8 420.8h0M105.1 428.0h0M161.3 414.7h0M127.5 430.3h0M105.3 439.9h0M119.2 430.7h0M126.1 427.3h0M137.4 416.9h0M149.7 419.1h0M97.3 439.0h0M132.5 427.3h0M105.8 435.1h0M146.2 427.5h0M134.1 417.2h0M97.5 436.4h0M110.7 440.7h0M117.4 430.2h0M132.6 422.7h0M77.5 450.9h0M113.6 437.3h0M105.6 434.4h0M133.4 424.5h0M92.7 438.1h0M123.9 424.5h0M107.2 442.7h0M132.9 418.8h0M114.8 434.2h0M112.0 436.8h0M118.0 432.0h0M176.2 408.6h0M181.5 405.1h0M129.7 423.3h0M134.5 429.2h0M104.4 440.9h0M188.2 406.8h0M115.4 437.2h0M102.1 435.9h0M116.6 431.5h0M84.8 442.5h0M93.3 440.8h0M152.9 414.9h0M139.7 423.1h0M90.9 438.4h0M165.0 415.8h0M111.2 433.6h0M121.7 431.9h0M141.2 419.4h0M96.8 438.0h0M122.8 425.1h0M121.1 434.1h0M78.4 450.7h0M140.7 423.7h0M126.2 433.6h0M113.8 431.4h0M136.4 420.4h0M98.4 443.2h0M119.6 433.8h0M99.1 435.3h0M119.0 429.8h0M168.0 412.4h0M154.2 410.4h0M96.8 443.6h0M67.7 447.5h0M154.1 411.6h0M127.3 429.5h0M122.2 433.4h0M128.8 427.4h0M139.8 423.4h0M147.5 414.4h0M136.6 424.7h0M158.3 412.8h0M126.4 426.8h0M136.6 423.9h0M160.2 415.3h0M108.6 429.9h0M141.4 414.1h0M119.0 428.5h0M133.1 425.4h0M148.5 416.9h0M139.2 425.5h0M85.4 442.2h0M162.6 409.5h0M124.3 425.5h0M101.1 441.9h0M126.4 426.3h0M104.8 436.5h0M186.2 404.3h0M93.5 439.1h0M127.4 424.3h0M106.7 434.0h0M131.9 421.0h0M95.7 438.8h0M155.5 418.5h0M125.0 433.1h0M101.9 435.9h0M177.8 407.8h0M109.0 433.3h0M129.3 430.4h0M109.9 430.2h0M152.8 418.4h0M125.0 424.5h0M120.5 426.4h0M83.6 437.7h0M124.4 433.1h0M132.8 423.9h0M68.7 452.3h0M127.6 426.3h0M111.1 436.3h0M102.7 438.2h0M101.5 437.4h0M127.8 425.4h0M124.6 426.1h0M155.2 419.2h0M109.6 437.9h0M95.2 432.4h0M138.0 420.1h0M133.6 425.1h0M133.5 422.6h0M146.2 418.4h0M111.8 429.2h0M141.1 422.3h0M114.5 433.1h0M102.7 432.4h0M136.2 422.9h0M147.9 417.2h0M122.0 436.5h0M133.5 429.4h0M107.4 432.3h0M154.6 419.1h0M131.9 426.0h0M188.0 407.0h0M117.5 430.1h0M142.1 422.9h0M150.5 421.0h0M98.2 435.7h0M92.6 441.1h0M74.5 451.3h0M92.2 444.8h0M149.1 419.3h0M120.6 430.5h0M142.0 424.9h0M148.5 417.9h0M183.9 405.2h0M136.6 423.6h0M172.9 408.1h0M114.7 437.8h0M133.4 422.1h0M128.8 429.4h0M124.8 425.6h0M98.0 437.6h0M135.9 417.5h0M84.2 445.9h0M141.8 422.9h0M75.7 446.9h0M149.9 422.6h0M77.5 447.3h0M95.8 436.5h0M79.8 443.0h0M126.2 426.5h0M137.0 426.2h0M73.1 440.5h0M167.6 419.0h0M111.3 432.1h0M147.0 418.9h0M141.8 429.8h0M84.2 440.9h0M121.1 432.0h0M152.8 420.3h0M122.3 428.1h0M151.3 413.3h0M129.5 426.4h0M158.0 422.2h0M149.9 416.3h0M82.2 438.7h0M149.8 417.0h0M108.8 432.2h0M139.4 424.4h0M98.1 439.4h0M71.8 445.2h0M101.0 445.7h0M159.3 417.5h0M78.2 443.6h0M52.3 454.2h0M96.5 433.8h0M125.4 428.4h0M124.9 430.4h0M173.7 408.9h0M114.2 427.2h0M111.3 435.5h0M103.3 442.7h0M154.6 422.4h0M84.3 441.9h0M128.8 435.4h0M146.4 424.4h0M114.4 434.0h0M148.3 416.8h0M124.5 421.3h0M155.2 419.8h0M108.0 434.2h0M82.2 444.2h0M116.4 433.0h0M108.4 436.4h0M111.6 428.6h0M133.0 425.1h0M70.7 457.0h0M139.1 424.4h0M109.0 431.5h0M153.8 416.7h0M149.4 420.3h0M110.8 437.3h0M116.7 423.6h0M120.8 433.1h0M118.3 431.3h0M91.3 439.7h0M159.4 420.3h0M87.2 440.6h0M180.5 408.1h0M80.1 444.4h0M158.1 411.8h0M158.5 416.6h0M119.0 429.7h0M152.1 418.2h0M103.9 433.1h0M91.1 439.9h0M142.6 419.8h0M102.2 438.7h0M95.5 436.8h0M105.1 429.0h0M179.6 406.8h0M141.0 416.3h0M115.7 428.0h0M141.4 421.7h0M91.4 438.7h0M96.5 437.7h0M124.0 427.9h0M158.0 416.4h0M197.0 399.8h0M69.3 447.4h0M113.5 432.4h0M99.5 442.9h0M79.8 440.9h0M119.1 433.8h0M149.6 417.6h0M105.6 437.5h0M137.2 422.9h0M81.9 443.7h0M144.6 424.0h0M62.6 448.8h0M98.0 438.5h0M111.9 431.9h0M133.4 428.3h0M71.7 447.6h0M114.4 440.1h0M85.2 445.5h0M106.3 435.4h0M134.7 425.9h0M106.5 435.4h0M93.7 441.7h0M154.3 411.5h0M106.2 437.0h0M167.8 414.5h0M157.2 425.1h0M126.1 429.0h0M91.8 440.8h0M156.2 419.6h0M71.6 445.8h0M137.4 424.1h0M174.1 411.7h0M163.1 409.6h0M129.2 430.9h0M145.2 423.4h0M146.2 418.2h0M117.6 426.5h0M180.9 410.3h0M126.6 430.7h0M61.3 453.2h0M160.6 416.1h0M186.1 407.3h0M152.1 419.5h0M129.0 428.8h0M101.7 434.0h0M138.4 428.6h0M97.8 434.0h0M126.6 427.7h0M119.4 432.7h0M91.3 442.1h0M100.9 440.6h0M89.8 440.6h0M94.7 441.8h0M110.4 433.6h0M113.1 436.6h0M60.6 453.5h0M122.9 421.9h0M122.3 427.0h0M66.3 454.6h0M98.6 437.1h0M121.3 426.2h0M106.3 437.2h0M112.7 427.9h0M183.3 409.1h0M109.6 433.7h0M78.8 444.4h0M127.5 424.1h0M82.7 443.8h0M114.5 434.6h0M117.2 429.6h0M124.4 428.8h0M63.0 458.1h0M108.9 435.4h0M83.1 443.3h0M146.0 417.4h0M125.5 426.4h0M112.1 434.3h0M86.4 445.7h0M82.9 436.9h0M153.3 417.0h0M74.1 441.9h0M92.6 437.9h0M105.6 440.0h0M123.6 428.1h0M78.5 446.1h0M126.6 425.2h0M132.9 419.8h0M73.2 450.4h0M152.4 415.1h0M130.0 426.4h0M150.5 414.4h0M77.1 441.4h0M110.5 433.9h0M83.6 445.3h0M151.9 412.8h0M75.9 444.7h0M119.7 429.7h0M89.0 443.7h0M104.5 437.2h0M120.4 428.7h0M177.0 405.3h0M75.1 445.6h0M117.4 427.1h0M135.0 428.1h0M136.5 430.1h0M121.5 428.1h0M126.5 424.4h0M84.6 451.0h0M141.4 422.6h0M110.0 429.7h0M106.7 431.6h0M82.1 444.4h0M144.7 417.6h0M133.7 422.4h0M128.1 427.7h0M148.6 422.4h0M136.1 422.6h0M146.0 417.6h0M122.3 429.2h0M67.8 445.5h0M132.3 428.6h0M110.5 431.5h0M95.8 435.9h0M83.3 441.2h0M149.0 417.0h0M99.8 442.1h0M174.6 406.1h0M122.2 425.5h0M100.8 434.4h0M56.7 453.3h0M119.9 422.7h0M97.8 436.0h0M129.5 428.2h0M128.2 426.0h0M136.7 422.3h0M96.1 435.0h0M115.7 433.3h0M148.5 419.4h0M175.3 409.9h0M131.5 428.9h0M104.0 439.1h0M76.1 447.4h0M143.4 418.7h0M118.5 433.3h0M107.0 435.7h0M131.6 428.8h0M111.7 430.5h0M134.2 430.4h0M88.1 439.0h0M126.3 429.6h0M152.8 412.0h0M141.2 414.4h0M106.4 430.9h0M151.8 421.5h0M148.4 422.1h0M186.4 407.4h0M137.6 426.3h0M133.2 429.8h0M106.8 437.7h0M79.9 438.4h0M83.3 440.8h0M100.1 428.6h0M107.4 432.4h0M77.9 446.2h0M85.2 448.7h0M110.3 439.3h0M131.9 427.8h0M90.9 444.0h0M125.7 428.9h0M133.4 423.0h0M146.7 421.0h0M131.2 425.2h0M142.5 421.8h0M89.2 436.5h0M80.5 439.4h0M146.4 423.9h0M154.4 413.2h0M147.7 421.1h0M96.6 439.2h0M103.1 438.7h0M91.2 442.2h0M93.7 440.5h0M130.9 423.6h0M158.8 415.6h0M187.4 402.9h0M88.8 441.2h0M139.1 425.3h0M101.4 435.2h0M143.2 418.7h0M114.0 431.3h0M101.8 433.2h0M122.1 427.9h0M85.1 440.3h0M114.4 433.9h0M109.0 432.2h0M132.3 424.8h0M104.1 435.8h0M162.3 415.5h0M87.9 437.2h0M102.5 435.7h0M124.0 433.7h0M140.5 417.0h0M88.8 437.5h0M124.6 422.6h0M131.5 425.2h0M138.5 419.4h0M87.9 442.3h0M164.1 415.5h0M94.5 433.6h0M145.5 418.3h0M104.4 432.8h0M163.0 412.9h0M138.1 425.0h0M166.1 414.0h0M152.4 420.5h0M152.7 418.7h0M116.2 435.6h0M149.9 419.2h0M125.0 426.8h0M97.2 437.5h0M116.0 428.5h0M150.5 419.7h0M108.8 437.6h0M128.2 424.4h0M126.3 425.8h0M107.5 434.4h0M128.2 427.2h0M174.2 408.2h0M107.8 435.8h0M141.3 416.8h0M175.4 412.1h0M113.9 432.5h0M144.5 418.2h0M93.9 442.1h0M47.8 463.1h0M136.4 424.0h0M130.2 418.4h0M153.4 415.6h0M94.4 440.0h0M129.6 426.5h0M73.5 448.2h0M128.9 429.5h0M78.4 443.5h0M102.2 441.2h0M116.2 430.4h0M107.3 429.8h0M156.8 415.4h0M149.8 413.4h0M106.8 434.8h0M96.7 439.4h0M133.8 425.4h0M135.3 424.0h0M73.0 445.4h0M146.5 419.2h0M117.4 434.8h0M91.0 443.7h0M109.6 437.0h0M65.6 453.6h0M151.6 415.9h0M120.3 434.0h0M116.8 438.9h0M112.2 427.9h0M113.3 425.2h0M121.6 428.1h0M84.5 442.3h0M182.4 406.0h0M136.9 423.7h0M97.1 439.6h0M148.5 416.5h0M120.2 428.4h0M133.2 423.0h0M95.5 439.4h0M128.8 426.7h0M117.8 430.7h0M130.8 426.0h0M74.2 451.6h0M51.5 458.2h0M119.7 429.0h0M96.0 435.2h0M115.9 433.0h0M113.5 433.5h0M124.6 431.7h0M111.3 438.4h0M89.0 449.4h0M131.8 424.9h0M166.2 409.8h0M103.9 434.5h0M160.8 416.0h0M160.0 415.4h0M164.1 411.2h0M104.7 432.7h0M72.8 444.0h0M115.7 432.5h0M144.2 417.9h0M134.9 423.5h0M134.3 430.5h0M132.5 431.2h0M107.7 425.8h0M143.8 420.1h0M117.2 433.3h0M114.0 428.4h0M96.4 440.3h0M151.8 415.6h0M127.5 428.1h0M150.3 420.4h0M86.2 443.5h0M112.9 436.3h0M108.3 430.5h0M175.4 409.5h0M125.0 425.5h0M108.4 434.9h0M107.6 432.8h0M132.0 425.4h0M126.9 426.1h0M96.4 437.6h0M112.9 434.7h0M108.5 431.1h0M84.8 441.9h0M120.2 423.3h0M113.2 435.1h0M150.6 405.7h0M144.6 418.7h0M154.0 417.9h0M120.4 433.8h0M195.5 410.7h0M125.1 430.1h0M82.6 444.3h0M161.8 414.8h0M91.1 443.9h0M124.1 429.6h0M142.0 422.2h0M88.3 439.1h0M106.1 437.7h0M110.2 430.6h0M111.0 435.5h0M182.8 406.8h0M106.4 442.3h0M152.2 416.0h0M151.6 418.1h0M137.3 426.5h0M95.6 438.4h0M88.9 446.5h0M141.6 423.9h0M121.7 428.0h0M122.8 434.1h0M147.8 420.3h0M122.6 430.8h0M124.4 424.6h0M105.9 435.8h0M104.6 439.3h0M100.1 436.1h0M160.0 413.9h0M101.2 436.2h0M111.4 435.2h0M155.5 406.6h0M130.5 428.4h0M123.4 430.2h0M103.1 436.0h0M170.3 408.8h0M106.9 436.3h0M132.5 425.5h0M131.4 421.7h0M127.7 431.0h0M96.2 437.3h0M101.3 437.7h0M133.2 429.2h0M111.2 436.8h0M139.1 423.9h0M153.9 416.9h0M107.1 439.4h0M102.2 437.6h0M150.7 424.9h0M151.8 422.8h0M125.5 425.0h0M113.9 432.4h0M129.7 428.0h0M95.5 439.0h0M115.8 430.9h0M136.7 427.0h0M70.9 449.7h0M97.0 437.8h0M174.7 409.0h0M101.0 439.8h0M110.3 435.6h0M106.9 425.1h0M130.7 427.2h0M120.9 430.6h0M183.9 409.5h0M158.6 424.0h0M122.7 433.3h0M140.5 417.8h0M119.2 425.1h0M127.2 426.1h0M86.6 441.4h0M127.4 426.8h0M164.6 413.9h0M147.3 420.0h0M80.7 442.8h0M150.3 425.8h0M168.4 412.7h0M115.1 433.0h0M135.8 427.5h0M107.3 432.2h0M138.8 416.0h0M120.2 425.7h0M88.5 444.9h0M123.4 428.3h0M79.6 442.9h0M83.1 443.3h0M119.6 427.4h0M106.4 438.9h0M115.1 423.1h0M100.0 432.8h0M116.3 426.6h0M168.3 413.0h0M140.3 421.6h0M120.7 431.1h0M136.1 424.1h0M108.2 430.5h0M96.8 437.3h0M107.1 440.6h0M132.2 428.7h0M91.3 438.6h0M81.2 446.7h0M134.1 427.4h0M82.5 440.9h0M126.1 427.5h0M121.9 434.1h0M79.0 444.5h0M154.9 415.3h0M134.8 427.1h0M146.0 418.8h0M71.9 447.3h0M93.6 443.3h0M134.3 423.0h0M122.1 429.0h0M61.1 453.9h0M83.3 443.5h0M104.7 434.7h0M106.1 432.4h0M120.7 426.4h0M112.6 431.8h0M131.3 429.4h0M134.1 427.9h0M88.2 437.3h0M87.5 436.9h0M154.8 415.2h0M176.4 405.9h0M116.2 430.1h0M93.7 438.4h0M149.8 419.7h0M111.4 433.6h0M119.3 428.1h0M131.3 422.0h0M148.9 420.4h0M127.8 430.3h0M74.4 453.9h0M98.7 445.6h0M144.0 413.1h0M137.5 422.2h0M134.8 427.2h0M137.2 428.6h0M161.4 414.7h0M112.7 433.2h0M109.5 435.0h0M102.9 440.6h0M160.3 415.3h0M135.7 424.8h0M96.8 442.9h0M115.6 427.5h0M150.1 418.3h0M134.8 425.1h0M149.4 418.6h0M138.7 421.5h0M145.5 422.2h0M99.2 438.0h0M71.5 451.3h0M59.1 447.4h0M166.3 407.9h0M146.5 416.8h0M144.5 429.4h0M112.7 431.8h0M139.4 419.6h0M117.6 430.8h0M153.0 414.3h0M113.3 432.1h0M123.8 430.1h0M140.2 417.9h0M118.2 429.1h0M170.6 414.8h0M111.2 435.4h0M149.4 416.6h0M137.5 425.6h0M153.0 415.3h0M104.7 436.5h0M78.8 448.7h0M125.6 430.8h0M82.4 449.0h0M51.0 456.3h0M173.3 411.0h0M130.9 425.7h0M123.9 433.3h0M157.9 415.0h0M151.1 416.8h0M109.9 429.9h0M89.3 440.8h0M123.5 427.9h0M64.6 451.9h0M129.5 426.9h0M120.0 431.0h0M132.4 422.1h0M137.5 424.9h0M98.7 440.2h0M154.4 420.5h0M146.8 419.0h0M139.3 424.3h0M142.7 423.7h0M155.9 414.8h0M146.5 415.4h0M129.3 424.1h0M133.0 427.7h0M137.1 421.3h0M118.2 435.2h0M155.7 416.0h0M155.2 420.6h0M138.7 426.2h0M124.2 428.0h0M188.2 406.8h0M147.7 427.2h0M137.6 428.4h0M122.8 424.2h0M112.6 431.9h0M109.7 434.5h0M196.6 403.7h0M129.0 424.6h0M99.3 440.6h0M124.0 427.0h0M151.2 417.1h0M123.8 432.4h0M128.5 427.1h0M171.5 411.7h0M126.7 420.1h0M73.0 453.9h0M136.3 420.8h0M131.3 429.4h0M145.8 414.8h0M179.6 412.8h0M48.6 461.4h0M108.9 430.4h0M164.7 414.0h0M81.3 441.6h0M68.3 448.1h0M67.9 451.4h0M113.7 433.6h0M89.6 438.4h0M129.3 420.2h0M88.0 443.2h0M105.0 434.4h0M98.7 436.6h0M88.6 436.3h0M93.6 443.7h0M139.2 417.5h0M122.3 427.6h0M134.4 425.4h0M98.7 438.7h0M96.1 444.6h0M98.5 440.7h0M106.9 432.3h0M122.8 430.2h0M127.3 426.8h0M181.4 405.7h0M126.0 431.3h0M109.7 439.3h0M89.1 443.3h0M143.0 419.5h0M107.9 436.9h0M81.4 451.9h0M109.9 430.3h0M149.0 414.0h0M103.5 436.8h0M133.6 422.9h0M131.0 426.3h0M153.5 424.0h0M102.8 437.4h0M137.9 423.5h0M135.1 417.5h0M131.0 432.1h0M103.1 428.5h0M80.2 441.0h0M126.1 433.6h0M136.5 423.5h0M113.2 428.4h0M118.8 428.9h0M127.3 427.3h0M116.0 435.2h0M81.0 450.1h0M131.4 426.0h0M113.7 426.0h0M151.6 413.3h0M136.2 427.1h0M110.3 439.5h0M135.5 420.1h0M154.3 411.7h0M114.4 435.1h0M73.7 451.4h0M156.5 409.9h0M163.4 411.2h0M138.7 423.3h0M69.7 448.1h0M150.9 420.0h0M97.4 435.6h0M152.3 415.3h0M106.2 430.5h0M123.0 436.0h0M174.1 411.3h0M128.7 427.0h0M72.1 450.5h0M157.3 424.9h0M129.6 427.8h0M148.7 425.9h0M111.3 426.8h0M87.1 439.5h0M128.2 421.3h0M121.7 426.6h0M154.3 417.1h0M138.1 424.9h0M86.1 441.7h0M102.5 436.5h0M162.7 403.8h0M110.5 438.3h0M111.7 435.5h0M154.3 420.6h0M130.5 432.7h0M127.1 424.5h0M137.8 414.8h0M146.8 416.8h0M125.1 422.7h0M137.6 426.9h0M112.9 439.7h0M157.2 416.8h0M161.4 416.9h0M114.5 425.3h0M134.5 421.4h0M109.2 437.5h0M114.6 434.4h0M113.1 435.3h0M134.3 423.7h0M89.2 438.3h0M132.0 422.7h0M88.6 446.7h0M143.1 414.3h0M133.2 421.7h0M90.0 442.7h0M101.0 439.5h0M50.8 452.1h0M152.2 422.2h0M161.0 414.8h0M105.1 437.6h0M109.7 430.4h0M97.3 436.3h0M158.5 413.2h0M115.3 434.2h0M137.1 426.0h0M155.8 415.8h0M98.1 438.8h0M66.5 452.4h0M167.6 414.1h0M142.8 425.4h0M124.5 424.1h0M95.4 435.4h0M127.5 425.4h0M50.2 457.8h0M188.5 404.3h0M77.5 444.6h0M116.8 435.3h0M157.0 413.2h0M122.5 433.4h0M122.0 421.2h0M166.6 414.9h0M134.6 423.9h0M104.5 437.2h0M104.1 440.1h0M141.0 431.5h0M136.3 422.4h0M77.2 442.6h0M147.4 419.2h0M90.3 436.3h0M133.4 424.7h0M159.9 418.0h0M175.0 403.6h0M102.2 438.6h0M111.9 435.0h0M125.5 430.0h0M124.2 433.9h0M118.9 433.3h0M181.5 409.4h0M73.3 446.4h0M101.2 441.8h0M92.8 433.6h0M104.5 439.5h0M93.2 438.8h0M81.5 437.6h0M60.9 455.8h0M114.8 438.0h0M119.1 421.1h0M117.7 432.1h0M113.9 429.1h0M42.4 462.4h0M165.3 410.7h0M129.0 426.2h0M106.9 438.4h0M102.0 440.1h0M107.3 441.7h0M71.7 447.1h0M76.2 439.4h0M156.6 416.4h0M128.9 426.0h0M101.0 442.2h0M127.2 423.1h0M131.4 421.7h0M58.5 462.9h0M137.6 421.3h0M128.2 427.5h0M121.5 428.5h0M105.4 437.3h0M89.7 441.4h0M113.6 439.1h0M94.2 439.9h0M142.0 419.2h0M124.5 429.8h0M111.9 428.3h0M140.2 417.4h0M142.0 420.5h0M99.7 435.6h0M122.3 430.6h0M153.1 413.4h0M114.6 435.7h0M159.8 414.3h0M171.4 406.2h0M150.7 421.2h0M115.3 431.1h0M142.1 419.1h0M31.6 463.5h0M144.6 419.9h0M114.9 435.7h0M95.9 440.8h0M100.4 438.5h0M136.4 425.1h0M78.2 448.9h0M107.2 428.1h0M95.9 441.5h0M120.3 435.6h0M100.9 439.6h0M81.8 435.6h0M76.8 442.4h0M122.3 427.8h0M126.9 430.1h0M135.2 426.5h0M142.9 420.7h0M142.4 422.4h0M69.1 454.2h0M143.3 419.6h0M132.9 421.2h0M106.6 427.6h0M120.1 432.7h0M100.2 440.8h0M171.0 417.1h0M150.3 417.2h0M155.3 417.3h0M154.2 419.4h0M115.8 429.4h0M132.1 424.0h0M128.9 423.6h0M155.5 407.2h0M150.5 420.7h0M98.2 440.5h0M147.5 423.2h0M134.3 421.8h0M72.7 442.5h0M124.0 425.0h0M122.7 430.1h0M125.5 424.8h0M140.9 421.1h0M112.2 436.6h0M149.7 421.7h0M136.8 424.2h0M129.0 428.3h0M132.7 421.1h0M145.0 424.2h0M117.3 426.6h0M101.7 437.5h0M118.5 430.9h0M152.4 412.7h0M130.4 430.9h0M146.5 423.3h0M127.3 426.1h0M96.1 439.4h0M178.6 408.0h0M156.3 427.5h0M146.2 419.2h0M157.3 417.3h0M105.6 439.4h0M102.1 441.6h0M89.9 442.0h0M123.1 427.9h0M133.2 419.4h0M115.2 430.0h0M117.2 432.1h0M70.4 455.0h0M134.3 422.8h0M95.6 444.8h0M120.5 430.6h0M144.0 419.0h0M136.7 423.7h0M116.7 429.7h0M144.5 418.8h0M114.2 429.6h0M111.1 430.4h0M87.0 445.0h0M82.0 449.8h0M90.6 437.6h0M58.8 454.3h0M154.3 417.1h0M128.9 423.7h0M128.7 427.8h0M162.3 416.7h0M109.6 435.7h0M148.2 416.1h0M151.6 417.6h0M91.9 438.1h0M148.6 418.9h0M79.9 447.7h0M114.3 431.3h0M103.2 437.1h0M119.1 431.0h0M89.3 443.4h0M90.8 441.5h0M137.4 424.0h0M102.0 435.0h0M135.4 421.7h0M94.5 441.8h0M141.1 413.1h0M98.7 430.3h0M151.8 425.6h0M111.3 434.9h0M160.2 411.4h0M164.3 419.5h0M154.6 419.1h0M130.8 427.1h0M84.7 446.6h0M152.8 415.7h0M116.3 432.2h0M123.8 428.7h0M164.3 409.1h0M118.0 432.2h0M150.9 422.0h0M119.8 425.0h0M146.7 420.0h0M99.7 443.6h0M89.5 444.0h0M151.6 414.5h0M50.8 450.4h0M105.8 429.1h0M176.5 408.4h0M136.6 422.2h0M110.4 440.4h0M171.9 410.9h0M90.1 441.9h0M127.2 426.5h0M92.1 431.5h0M93.5 435.1h0M110.6 438.1h0M145.1 424.8h0M130.8 420.4h0M147.3 420.0h0M140.0 425.4h0M132.3 425.6h0M134.0 426.6h0M115.3 429.1h0M104.6 434.9h0M134.4 428.1h0M112.3 436.2h0M111.7 424.3h0M141.6 422.4h0M106.3 436.7h0M130.0 418.3h0M72.4 451.3h0M107.2 430.5h0M112.8 431.5h0M119.8 426.2h0M84.8 447.1h0M149.2 414.6h0M114.2 433.9h0M104.4 444.9h0M190.6 409.0h0M139.0 418.3h0M119.9 430.1h0M81.2 444.3h0M114.4 435.9h0M53.1 454.4h0M77.7 448.8h0M79.9 437.7h0M105.9 431.2h0M94.9 439.2h0M82.7 446.3h0M168.5 409.1h0M154.2 414.7h0M78.5 441.4h0M155.7 414.3h0M108.6 433.2h0M121.7 434.9h0M117.6 433.8h0M119.6 426.5h0M143.1 421.5h0M148.7 414.0h0M157.9 418.9h0M104.8 435.0h0M89.6 444.5h0M150.5 419.4h0M88.0 436.1h0M114.6 432.3h0M121.7 427.6h0M94.6 439.6h0M88.4 438.0h0M140.2 418.4h0M154.7 420.0h0M115.4 434.4h0M172.6 412.7h0M110.1 430.8h0M103.0 430.5h0M122.7 432.3h0M110.2 436.4h0M158.6 416.1h0M127.2 430.2h0M109.0 439.5h0M154.0 413.3h0M119.1 432.1h0M150.5 415.5h0M136.9 414.8h0M123.9 416.8h0M100.6 438.6h0M140.7 420.8h0M158.9 414.7h0M101.7 436.7h0M159.6 416.3h0M135.4 428.2h0M156.8 416.3h0M162.3 420.2h0M120.6 430.2h0M176.0 410.0h0M127.3 426.8h0M71.4 442.0h0M104.2 440.0h0M97.6 438.8h0M139.4 424.1h0M120.6 428.2h0M121.4 429.4h0M107.5 443.0h0M141.3 418.3h0M122.4 428.5h0M132.0 424.6h0M193.4 406.2h0M118.4 431.0h0M160.0 414.8h0M134.5 418.6h0M90.3 441.6h0M120.3 431.0h0M97.7 433.4h0M115.3 427.1h0M67.1 447.2h0M109.8 430.6h0M172.0 407.5h0M155.7 414.5h0M105.5 437.5h0M102.0 437.9h0M96.0 442.1h0M109.5 430.7h0M136.2 427.0h0M111.3 436.6h0M119.6 430.2h0M131.3 417.0h0M126.0 427.9h0M141.5 415.9h0M76.1 448.8h0M84.2 444.6h0M107.6 436.3h0M146.6 420.1h0M139.5 426.4h0M125.9 427.7h0M100.7 437.3h0M112.5 425.4h0M137.7 421.2h0M146.8 420.0h0M124.6 423.1h0M69.2 456.2h0M127.4 424.5h0M162.6 414.7h0M142.7 426.3h0M142.6 417.3h0M127.6 430.5h0M110.2 433.1h0M98.7 437.7h0M147.4 425.1h0M179.9 403.4h0M128.7 427.0h0M114.7 425.5h0M109.9 427.6h0M144.3 417.5h0M90.6 438.3h0M155.2 416.1h0M92.1 429.4h0M153.0 422.3h0M93.5 441.7h0M140.3 421.3h0M106.7 430.9h0M63.1 453.6h0M109.4 435.7h0M117.8 433.3h0M105.9 441.6h0M62.9 446.5h0M85.2 441.9h0M153.1 409.6h0M140.2 426.3h0M137.7 423.2h0M157.9 416.8h0M134.1 420.0h0M126.6 425.0h0M101.0 438.2h0M168.2 414.6h0M73.5 446.9h0M92.5 435.7h0M127.0 427.6h0M117.4 434.7h0M175.5 407.8h0M139.8 422.3h0M107.1 438.9h0M115.6 433.3h0M141.9 421.8h0M129.6 429.5h0M159.8 421.7h0M92.6 443.6h0M111.7 436.8h0M104.8 433.4h0M119.5 429.4h0M91.6 439.7h0M113.1 433.0h0M73.2 448.9h0M82.7 442.8h0M155.1 415.8h0M86.1 442.8h0M141.7 424.3h0M98.9 439.9h0M144.2 418.5h0M75.5 446.2h0M103.1 436.5h0M136.1 421.0h0M148.3 422.3h0M115.1 429.2h0M133.9 429.1h0M166.5 413.5h0M73.6 447.8h0M137.1 424.6h0M158.1 418.7h0M143.1 418.2h0M109.0 436.0h0M94.9 443.1h0M128.4 433.2h0M83.1 451.0h0M128.4 426.0h0M145.2 422.9h0M80.5 448.8h0M169.9 413.5h0M160.7 418.8h0M92.3 442.1h0M120.4 432.6h0M93.5 437.6h0M66.8 447.9h0M182.7 406.8h0M141.7 424.8h0M151.1 418.5h0M95.5 439.0h0M132.6 422.4h0M164.4 413.1h0M153.6 420.7h0M141.9 416.3h0M134.4 429.0h0M151.5 412.4h0M136.4 424.8h0M162.8 417.1h0M87.9 445.4h0M99.4 445.2h0M80.5 443.0h0M151.4 422.3h0M131.5 428.8h0M101.2 435.1h0M105.5 437.3h0M137.2 420.8h0M165.8 411.8h0M100.8 440.8h0M138.6 415.0h0M135.0 422.0h0M165.3 413.5h0M61.8 457.6h0M36.4 458.6h0M120.8 421.8h0M75.4 448.2h0M119.2 432.6h0M121.0 428.0h0M147.4 424.0h0M165.2 412.4h0M144.3 415.4h0M72.6 445.7h0M130.6 419.1h0M85.0 443.3h0M95.1 439.7h0M126.3 431.0h0M172.7 413.6h0M86.9 441.1h0M95.0 437.5h0M151.1 417.7h0M119.6 429.2h0M112.7 436.7h0M143.3 413.5h0M143.0 429.2h0M114.9 435.3h0M104.8 438.8h0M136.0 425.1h0M134.7 425.8h0M112.1 428.1h0M93.0 435.7h0M151.6 415.9h0M113.2 431.3h0M108.4 441.7h0M109.1 432.6h0M174.0 406.9h0M131.5 425.8h0M174.1 409.2h0M77.8 450.5h0M142.0 418.8h0M112.2 435.4h0M108.7 432.9h0M135.6 425.3h0M143.0 424.3h0M114.1 428.8h0M142.6 415.3h0M121.6 432.6h0M137.0 429.9h0M111.7 432.7h0M124.4 432.1h0M174.3 405.1h0M163.3 417.0h0M137.5 425.1h0M107.0 437.8h0M59.5 452.7h0M126.1 425.4h0M133.0 422.9h0M110.3 434.0h0M147.0 423.8h0M142.4 422.0h0M163.8 415.0h0M136.9 428.2h0M107.8 436.1h0M118.9 428.5h0M99.8 436.8h0M96.5 439.7h0M102.8 437.8h0M103.2 442.9h0M137.4 417.3h0M124.7 431.2h0M128.6 428.5h0M114.6 425.3h0M107.9 428.1h0M171.0 413.3h0M147.2 418.3h0M114.7 429.2h0M142.3 423.5h0M80.5 444.9h0M102.7 435.5h0M134.1 423.1h0M82.5 436.0h0M157.2 410.8h0M157.0 417.9h0M98.7 441.3h0M179.5 405.1h0M149.8 418.6h0M156.5 418.1h0M133.2 428.9h0M85.1 444.7h0M130.3 421.5h0M138.3 431.1h0M124.4 431.1h0M131.4 426.5h0M91.8 447.3h0M86.0 440.6h0M111.5 436.8h0M143.4 423.8h0M87.8 440.3h0M93.7 437.1h0M133.8 418.9h0M129.4 428.5h0M151.9 419.2h0M112.2 436.8h0M130.4 423.3h0M83.9 452.1h0M131.7 426.9h0M132.6 422.2h0M95.6 438.3h0M104.0 442.0h0M145.1 414.9h0M132.0 424.2h0M91.7 437.1h0M122.7 425.5h0M175.4 411.8h0M161.6 416.6h0M114.2 436.3h0M143.8 420.0h0M116.7 440.0h0M135.8 430.3h0M73.6 441.1h0M90.6 440.1h0M142.3 419.5h0M116.5 425.5h0M122.7 431.3h0M80.1 445.9h0M118.6 423.4h0M113.6 425.7h0M114.8 433.9h0M166.6 411.5h0M145.3 419.6h0M80.1 450.8h0M138.5 422.3h0M98.9 444.9h0M137.3 427.8h0M132.7 423.9h0M121.1 424.4h0M95.4 439.3h0M120.5 430.7h0M145.2 422.0h0M135.4 422.0h0M128.2 430.7h0M126.9 422.5h0M117.5 428.8h0M113.6 430.1h0M60.1 447.9h0M89.3 446.1h0M118.2 429.1h0M139.4 419.3h0M152.5 417.5h0M80.6 447.0h0M147.1 422.1h0M73.3 443.7h0M139.1 419.3h0M135.0 428.5h0M119.4 430.1h0M89.7 446.3h0M45.2 456.0h0M131.6 426.6h0M107.6 440.0h0M86.4 437.3h0M142.9 422.1h0M117.8 436.9h0M134.1 422.0h0M148.2 415.9h0M123.4 433.5h0M142.2 421.7h0M148.7 423.5h0M118.1 433.5h0M97.8 443.8h0M99.8 434.6h0M89.2 443.4h0M122.0 428.8h0M150.7 419.3h0M115.1 430.1h0M141.2 422.4h0M151.9 419.8h0M106.8 439.1h0M143.7 415.3h0M111.4 430.5h0M133.4 426.6h0M156.9 411.4h0M114.6 434.0h0M106.1 438.5h0M115.3 434.8h0M72.0 448.9h0M141.9 424.3h0M178.4 408.1h0M117.8 430.6h0M148.1 416.9h0M134.2 419.0h0M75.8 452.5h0M62.8 451.5h0M150.8 420.4h0M166.0 417.6h0M119.2 432.4h0M129.3 426.0h0M143.5 424.9h0M184.0 399.9h0M94.0 441.4h0M115.1 431.5h0M122.9 426.7h0M166.0 414.4h0M82.1 443.2h0M140.1 418.8h0M169.9 407.0h0M94.8 435.6h0M126.6 424.1h0M109.5 431.8h0M81.0 444.7h0M75.6 448.2h0M106.9 431.6h0M144.8 413.6h0M117.5 431.9h0M128.8 426.5h0M109.5 433.0h0M143.2 420.2h0M140.0 423.4h0M170.0 412.6h0M77.3 442.0h0M161.0 420.3h0M139.2 421.1h0M65.9 447.8h0M110.1 435.1h0M102.5 442.2h0M154.0 416.8h0M121.8 428.7h0M126.5 423.9h0M128.9 428.9h0M111.5 435.5h0M140.8 424.7h0M116.8 427.2h0M40.7 456.3h0M149.9 418.4h0M134.8 423.3h0M155.3 417.3h0M93.6 439.1h0M122.9 431.1h0M134.5 424.2h0M157.7 413.5h0M143.2 425.8h0M154.2 412.9h0M110.6 433.0h0M152.9 413.5h0M178.4 405.3h0M139.9 426.1h0M122.7 420.6h0M158.2 409.6h0M109.1 428.6h0M127.5 423.6h0M117.4 431.1h0M122.5 429.7h0M153.6 413.1h0M153.3 419.7h0M101.9 435.7h0M94.2 444.0h0M156.9 411.8h0M134.5 425.4h0M156.8 416.2h0M103.5 437.8h0M195.2 410.1h0M153.4 418.9h0M138.5 418.2h0M115.8 430.4h0M141.3 424.2h0M68.7 449.6h0M117.2 433.5h0M80.8 447.1h0M151.1 419.4h0M167.6 409.6h0M112.9 430.8h0M105.2 437.7h0M114.6 426.6h0M139.8 421.5h0M124.3 423.7h0M152.3 418.4h0M124.8 425.7h0M72.9 447.9h0M161.7 412.3h0M84.9 442.0h0M46.7 457.9h0M178.1 403.7h0M132.0 426.4h0M96.8 440.3h0M161.5 417.4h0M113.8 436.2h0M180.9 404.1h0M149.7 417.0h0M96.8 435.6h0M114.5 427.3h0M85.6 446.3h0M147.5 421.9h0M71.5 440.8h0M82.5 446.7h0M125.7 424.9h0M146.8 420.5h0M92.4 439.8h0M126.7 421.3h0M139.5 424.0h0M144.5 419.4h0M135.0 421.0h0M100.9 440.9h0M134.5 431.4h0M145.3 419.3h0M120.7 434.9h0M98.6 433.3h0M113.3 432.5h0M95.6 440.0h0M119.9 425.7h0M74.1 445.4h0M140.7 422.8h0M134.4 421.4h0M120.9 434.5h0M91.2 439.4h0M109.2 436.0h0M107.4 440.2h0M197.4 400.6h0M73.6 449.9h0M159.9 416.5h0M159.6 409.9h0M133.2 420.7h0M128.7 418.7h0M132.9 422.8h0M134.9 421.3h0M104.0 432.0h0M97.7 443.0h0M134.5 425.6h0M89.3 445.3h0M147.7 413.2h0M125.2 423.1h0M98.3 437.6h0M152.9 423.3h0M125.8 428.0h0M95.3 437.5h0M124.5 428.2h0M118.1 429.0h0M126.6 426.5h0M133.0 422.9h0M69.7 448.2h0M113.8 429.3h0M61.0 455.7h0M107.7 430.5h0M75.7 445.3h0M117.4 427.5h0M118.6 431.8h0M102.8 436.2h0M162.6 411.5h0M111.9 432.4h0M163.7 406.0h0M137.7 418.9h0M129.5 428.5h0M91.8 440.5h0M164.8 408.6h0M77.9 440.9h0M94.6 435.4h0M95.8 443.0h0M106.6 441.2h0M162.7 412.2h0M126.6 431.0h0M74.1 449.1h0M118.1 422.3h0M135.9 425.2h0M147.1 422.4h0M169.0 405.0h0M117.6 434.3h0M183.9 406.5h0M115.4 433.6h0M120.0 429.9h0M122.1 430.5h0M121.9 431.5h0M154.7 414.3h0M134.6 424.5h0M141.0 417.6h0M71.5 454.4h0M125.5 427.5h0M127.4 427.5h0M153.7 411.7h0M117.1 433.7h0M127.1 425.3h0M133.0 425.4h0M122.7 428.8h0M140.1 422.7h0M137.9 424.8h0M122.4 432.0h0M139.4 429.2h0M169.6 408.5h0M84.9 445.3h0M60.3 449.5h0M90.1 437.7h0M101.5 435.6h0M148.8 423.2h0M104.4 436.0h0M141.9 422.6h0M172.9 413.5h0M129.9 429.9h0M122.0 424.3h0M88.6 440.0h0M124.6 425.0h0M112.0 428.1h0M59.6 447.4h0M157.6 418.1h0M129.6 428.0h0M95.3 440.8h0M167.5 410.1h0M168.3 420.2h0M83.7 445.7h0M109.2 429.3h0M66.0 445.0h0M42.0 453.5h0M104.6 435.7h0M176.5 411.1h0M45.4 457.9h0M117.6 430.5h0M92.1 440.1h0M56.9 454.2h0M140.5 418.6h0M115.8 435.2h0M45.2 456.3h0M97.2 434.4h0M169.1 413.9h0M140.2 421.2h0M155.1 418.5h0M211.7 394.1h0M139.7 419.7h0M198.9 398.3h0M153.9 419.3h0M179.0 403.0h0M85.4 447.3h0M121.3 432.2h0M214.8 392.2h0M138.8 417.9h0M130.6 424.6h0M95.0 440.5h0M106.7 432.2h0M143.2 418.7h0M178.6 406.7h0M196.3 402.3h0M109.9 433.3h0M181.6 409.4h0M37.8 461.6h0M119.2 430.4h0M137.4 423.9h0M66.7 447.3h0M168.7 413.1h0M196.2 399.3h0M166.9 406.1h0M119.4 431.3h0M179.2 402.7h0M114.5 436.9h0M93.6 437.0h0M173.6 412.0h0M64.9 457.3h0M110.6 438.6h0M169.1 419.4h0M116.8 433.1h0M102.5 439.1h0M83.7 443.0h0M143.0 417.4h0M71.7 447.5h0M193.2 407.5h0M163.2 417.9h0M125.6 423.3h0M193.7 406.0h0M147.9 418.3h0M100.6 440.7h0M77.0 443.6h0M170.8 404.7h0M206.9 396.6h0M37.7 457.9h0M202.3 399.0h0M166.2 412.7h0M115.9 429.8h0M64.7 451.1h0M98.1 443.3h0M186.4 401.3h0M125.3 432.2h0M139.2 418.4h0M210.6 398.3h0M111.7 434.4h0M55.7 459.6h0M199.7 395.1h0M188.4 402.0h0M129.5 424.6h0M198.9 401.4h0M117.3 433.2h0M60.0 453.1h0M65.3 448.8h0M66.6 447.4h0M210.0 392.0h0M159.1 417.3h0M129.8 425.7h0M100.7 438.6h0M120.8 423.2h0M114.5 429.9h0M127.6 426.4h0M185.9 404.2h0M64.5 445.2h0M207.9 395.5h0M32.9 463.1h0M173.0 405.3h0M177.8 405.7h0M175.8 410.0h0M54.0 450.0h0M116.6 435.8h0M171.6 412.9h0M167.1 410.8h0M211.2 391.0h0M101.6 438.3h0M164.7 415.1h0M94.0 437.7h0M174.9 412.2h0M187.3 406.4h0M93.2 438.5h0M120.1 431.6h0M45.4 457.0h0M39.0 458.9h0M32.4 462.8h0M130.8 427.5h0M115.6 433.3h0M171.6 412.2h0M59.6 452.8h0M161.4 414.3h0M179.9 412.9h0M126.8 425.4h0M125.7 429.2h0M165.9 414.9h0M163.7 409.9h0M212.8 394.6h0M108.4 434.6h0M47.0 454.2h0M179.5 412.5h0M118.2 427.5h0M112.6 436.0h0M66.6 447.6h0M185.9 403.5h0M126.3 421.4h0M128.1 428.5h0M124.8 425.5h0M125.6 429.6h0M211.9 394.5h0M39.8 459.2h0"/>
<path stroke="#2496de" stroke-width="1.3" stroke-linecap="square" stroke-opacity="0.9" d="M508.0 29.6h0M491.7 58.7h0M437.8 93.6h0M381.0 31.2h0M489.1 93.3h0M367.4 68.7h0M426.7 15.9h0M539.3 46.6h0M333.3 77.6h0M432.3 51.6h0M405.8 91.3h0M369.1 67.3h0M461.6 42.2h0M413.0 41.1h0M520.9 20.6h0M341.7 58.8h0M395.7 22.1h0M424.4 71.4h0M434.6 46.6h0M341.4 77.6h0M336.2 70.6h0M438.9 39.2h0M361.3 69.2h0M457.4 18.5h0M393.0 17.6h0M509.5 56.6h0M388.8 58.9h0M348.4 57.6h0M421.3 27.7h0M331.9 89.5h0M457.4 77.3h0M528.5 30.9h0M368.7 32.4h0M426.9 93.0h0M519.6 63.0h0M453.6 23.9h0M409.5 58.1h0M469.2 83.0h0M386.1 94.0h0M376.1 14.1h0M355.6 10.5h0M415.4 68.0h0M326.8 92.8h0M489.4 63.5h0M358.3 28.6h0M415.4 56.9h0M346.3 12.2h0M484.9 51.9h0M337.8 56.5h0M399.9 68.4h0M464.6 12.9h0M518.6 24.6h0M482.5 56.4h0M413.0 30.1h0M339.4 84.5h0M439.6 24.2h0M454.7 19.1h0M527.5 27.4h0M535.3 36.6h0M333.6 57.8h0M324.9 71.0h0M460.0 26.0h0M442.4 11.9h0M401.0 30.5h0M355.4 38.1h0M424.8 24.4h0M332.7 87.5h0M370.7 76.8h0M437.8 36.7h0M463.4 49.6h0M482.9 18.2h0M539.6 77.5h0M531.4 83.2h0M446.8 67.8h0M457.6 19.1h0M354.5 71.7h0M414.1 64.1h0M364.4 57.8h0M541.3 64.2h0M333.2 17.3h0M325.3 79.3h0M455.4 64.8h0M434.1 61.4h0M376.5 35.7h0M523.3 40.9h0M497.4 14.4h0M394.3 48.5h0M425.4 38.7h0M501.7 75.4h0M505.2 11.8h0M353.5 65.5h0M443.0 73.1h0M493.2 31.5h0M365.2 30.1h0M488.8 67.2h0M475.5 44.8h0M450.3 52.7h0M327.2 22.9h0M498.5 87.1h0M428.8 46.8h0M473.0 53.9h0M350.1 9.8h0M442.9 64.5h0M494.2 92.6h0M396.0 72.1h0M330.8 89.2h0M396.8 92.9h0M473.4 62.8h0M498.7 83.6h0M351.5 14.1h0M378.1 89.2h0M409.9 20.0h0M481.5 52.9h0M331.6 68.0h0M430.8 64.6h0M526.0 91.5h0M435.7 65.5h0M495.6 75.8h0M489.0 81.5h0M389.6 32.5h0M428.9 55.7h0M494.8 71.6h0M346.7 28.0h0M510.1 42.6h0M448.0 85.0h0M326.8 45.2h0M379.4 16.4h0M469.1 83.4h0M524.9 52.6h0M337.2 31.5h0M492.2 41.2h0M429.7 68.0h0M392.3 84.0h0M467.9 32.4h0M540.4 42.1h0M396.5 22.1h0M348.1 80.6h0M518.9 75.5h0M460.4 74.0h0M525.4 70.9h0M488.6 53.3h0M526.2 57.7h0M401.3 56.3h0M440.1 14.5h0M412.9 93.2h0M537.3 35.9h0M366.6 37.8h0M470.1 63.1h0M378.0 50.7h0M528.6 58.7h0M468.6 16.7h0M386.7 83.6h0M465.3 35.4h0M441.6 93.0h0M496.3 24.2h0M481.1 22.7h0M376.1 22.4h0M358.2 44.1h0M533.3 81.5h0M534.2 72.9h0M493.3 60.1h0M538.2 14.6h0M541.3 12.7h0M352.3 35.0h0M524.8 92.6h0M392.8 91.0h0M421.9 53.7h0M488.7 89.3h0M341.2 14.0h0M458.5 85.3h0M405.2 20.1h0M490.3 15.3h0M423.8 66.3h0M477.4 16.4h0M481.0 13.1h0M334.6 72.7h0M331.2 43.9h0M344.9 89.2h0M533.4 89.0h0M407.3 78.1h0M399.2 60.8h0M406.4 33.3h0M339.4 19.1h0M464.3 68.0h0M531.4 76.9h0M504.2 20.1h0M514.7 74.0h0M349.0 74.0h0M328.4 40.2h0M466.8 25.9h0M529.5 10.5h0M516.5 29.4h0M506.4 31.6h0M342.2 88.1h0M339.6 33.4h0M382.7 83.2h0M391.0 55.8h0M440.7 65.6h0M459.4 24.6h0M449.9 75.9h0M525.2 64.2h0M510.0 57.9h0M453.8 13.6h0M508.0 71.9h0M363.1 20.2h0M483.9 43.7h0M363.6 44.6h0M463.5 59.4h0M538.6 41.1h0M429.5 58.1h0M535.7 28.8h0M503.1 34.3h0M429.3 11.4h0M468.8 11.9h0M407.8 39.8h0M462.0 23.7h0M425.6 82.0h0M413.5 45.3h0M519.3 34.6h0M528.3 13.2h0M442.8 35.4h0M530.0 85.3h0M411.5 92.7h0M494.1 38.9h0M501.9 78.7h0M474.7 63.4h0M332.6 33.6h0M482.6 83.9h0M523.1 84.8h0M382.1 89.5h0M409.3 25.7h0M387.8 34.4h0M351.2 28.2h0M381.7 69.6h0M510.0 65.8h0M379.2 73.8h0M353.1 56.7h0M502.2 88.6h0M435.5 82.9h0M522.4 64.2h0M497.4 69.7h0M535.1 13.8h0M351.5 49.0h0M406.5 17.5h0M332.1 85.6h0M388.1 64.1h0M419.7 90.0h0M492.5 32.4h0M349.0 39.0h0M338.4 56.5h0M459.6 83.7h0M527.0 50.4h0M415.7 33.0h0M451.9 44.3h0M502.9 83.3h0M422.1 10.1h0M536.8 55.7h0M434.4 46.3h0M407.4 77.1h0M375.5 81.1h0M511.3 30.2h0M380.6 67.9h0M410.8 84.1h0M413.4 42.2h0M514.2 91.7h0M341.2 75.6h0M413.9 62.4h0M403.4 65.4h0M513.1 54.1h0M364.2 74.8h0M539.5 87.3h0M364.1 13.4h0M371.8 69.0h0M461.8 40.5h0M535.1 12.7h0M495.7 70.7h0M328.2 82.9h0M358.4 71.8h0M348.5 73.0h0M339.9 37.3h0M392.9 36.8h0M497.7 71.5h0M422.0 90.6h0M422.8 51.1h0M379.5 45.0h0M394.7 46.0h0M491.4 66.3h0M540.0 21.4h0M457.1 26.9h0M536.2 72.1h0M451.8 89.9h0M368.8 63.8h0M362.3 32.7h0M424.5 20.7h0M455.2 77.4h0M445.5 42.7h0M393.1 23.1h0M451.8 40.0h0M351.4 90.8h0M395.9 28.0h0M480.5 81.5h0M378.4 35.8h0M537.7 88.5h0M407.1 19.9h0M407.0 33.6h0M495.0 10.4h0M398.4 25.8h0M380.1 90.0h0M501.2 57.3h0M492.2 42.2h0M449.6 58.4h0M464.5 20.4h0M509.4 35.5h0M402.1 65.3h0M434.8 57.3h0M335.8 87.6h0M488.5 32.6h0M388.2 90.0h0M379.5 59.0h0M337.3 30.6h0M389.8 20.0h0M371.6 70.4h0M446.1 36.8h0M462.7 27.9h0M494.0 14.8h0M336.7 67.3h0M388.8 13.8h0M358.8 21.4h0M461.9 88.1h0M531.0 17.3h0M476.2 40.0h0M378.9 10.5h0M378.1 54.6h0M533.8 54.4h0M345.3 22.1h0M453.8 82.6h0M481.3 14.9h0M503.5 73.0h0M336.0 21.4h0M534.6 69.5h0M516.3 46.1h0M428.6 80.0h0M476.5 59.1h0M483.9 38.8h0M434.4 11.3h0M338.5 48.7h0M432.0 16.8h0M523.3 62.0h0M372.0 57.0h0M516.8 67.6h0M341.9 67.8h0M478.2 19.4h0M509.7 88.1h0M486.3 10.5h0M514.4 15.3h0M435.6 27.8h0M374.7 68.0h0M532.0 83.5h0M381.0 68.3h0M443.9 74.2h0M487.2 69.6h0M360.5 23.9h0M408.6 59.0h0M493.4 73.8h0M458.9 36.5h0M353.8 71.2h0M454.0 47.7h0M483.6 42.1h0M514.7 72.1h0M417.2 54.6h0M523.4 75.6h0M414.7 90.7h0M383.5 46.2h0M424.9 11.7h0M424.5 14.5h0M525.5 10.3h0M425.2 88.1h0M539.4 33.1h0M359.5 81.6h0M435.3 11.8h0M535.3 89.1h0M442.1 90.3h0M505.5 54.1h0M472.0 63.7h0M433.6 16.2h0M504.4 17.3h0M502.7 81.6h0M527.1 36.8h0M374.6 52.5h0M387.6 19.0h0M334.9 73.4h0M537.2 48.0h0M343.1 80.7h0M520.2 77.1h0M328.5 56.0h0M438.3 70.2h0M400.4 44.8h0M504.5 43.2h0M527.4 13.5h0M502.7 72.6h0M472.3 14.1h0M468.1 14.7h0M454.8 72.4h0M401.4 90.5h0M404.8 56.0h0M507.5 34.7h0M419.9 79.6h0M485.3 68.1h0M386.3 92.0h0M526.5 51.2h0M354.8 76.0h0M393.0 14.9h0M525.6 16.7h0M325.4 30.0h0M504.0 48.0h0M538.8 54.6h0M452.6 15.2h0M342.9 92.3h0M358.3 51.0h0M532.2 89.4h0M520.7 87.0h0M486.9 18.2h0M488.8 23.1h0M517.1 49.6h0M325.8 77.7h0M437.0 77.6h0M496.3 63.4h0M472.2 26.8h0M430.1 58.0h0M506.0 67.7h0M412.7 58.4h0M390.1 24.6h0M496.0 53.2h0M529.7 13.6h0M387.3 92.6h0M438.0 84.8h0M443.7 55.1h0M511.3 24.9h0M362.5 79.1h0M511.7 28.4h0M426.1 70.0h0M521.5 46.7h0M485.5 31.1h0M494.4 14.5h0M368.2 66.3h0M332.1 51.8h0M377.4 18.8h0M371.5 86.9h0M411.8 65.6h0M401.5 76.3h0M418.9 51.4h0M407.4 41.5h0M481.9 64.7h0M363.5 87.1h0M493.6 35.8h0M474.6 61.7h0M354.5 47.8h0M540.5 16.9h0M363.8 54.0h0M386.4 34.3h0M482.9 43.7h0M358.2 47.0h0M328.5 33.4h0M452.0 89.7h0M376.6 53.2h0M412.4 38.6h0M534.4 47.1h0M531.3 47.6h0M325.4 90.4h0M448.8 24.2h0M371.2 10.0h0M448.4 90.4h0M331.1 78.6h0M343.3 48.3h0M446.9 57.5h0M432.6 45.8h0M489.5 71.7h0M483.4 15.3h0M379.1 47.6h0M504.8 81.7h0M413.7 35.3h0M373.6 15.4h0M509.9 85.9h0M452.5 33.8h0M522.5 35.1h0M496.9 39.8h0M481.2 52.1h0M347.4 18.8h0M438.3 85.2h0M339.2 34.2h0M500.1 57.3h0M484.6 71.2h0M416.9 13.3h0M472.3 43.5h0M353.0 31.9h0M457.0 56.1h0M435.3 29.5h0M406.2 69.9h0M465.4 53.9h0M328.7 22.8h0M383.0 9.9h0M470.8 76.2h0M503.8 73.1h0M447.9 20.9h0M541.4 64.9h0M540.6 79.7h0M389.9 69.2h0M445.9 21.4h0M441.4 89.5h0M365.0 82.5h0M360.5 22.8h0M399.7 65.3h0M419.9 83.0h0M494.3 85.2h0M504.6 21.4h0M453.0 49.3h0M523.5 33.1h0M374.4 29.8h0M425.3 77.8h0M540.8 50.4h0M488.7 59.7h0M343.2 63.8h0M343.5 37.5h0M406.2 52.8h0M326.1 38.8h0M437.9 36.9h0M390.6 93.0h0M438.0 15.5h0M506.6 86.9h0M486.2 75.2h0M530.8 12.4h0M332.3 71.9h0M374.0 52.0h0M436.8 49.9h0M426.9 79.4h0M328.1 36.1h0M474.9 47.4h0M502.8 23.9h0M467.8 13.1h0M531.4 75.5h0M387.8 30.7h0M540.8 67.1h0M370.4 9.5h0M468.3 46.7h0M411.7 16.3h0M448.8 65.0h0M484.1 91.9h0M503.2 68.6h0M534.4 16.2h0M379.3 82.5h0M439.1 10.7h0M507.4 90.9h0M495.8 41.5h0M367.7 25.5h0M486.6 33.6h0M532.5 55.9h0M349.0 72.1h0M358.1 53.1h0M537.1 38.6h0M518.0 49.1h0M446.0 65.7h0M486.7 37.6h0M467.2 29.5h0M495.9 44.1h0M402.2 65.6h0M517.0 37.3h0M482.3 44.8h0M540.0 34.5h0M346.4 50.6h0M411.2 66.3h0M400.8 25.2h0M378.9 72.1h0M382.4 51.8h0M398.0 34.2h0M348.4 57.4h0M348.6 77.1h0M416.9 57.3h0M408.7 89.1h0M399.6 71.0h0M331.6 72.0h0M442.9 32.9h0M470.3 23.2h0M349.8 20.2h0M439.5 46.9h0M449.3 36.3h0M416.3 92.2h0M373.4 60.2h0M482.3 72.3h0M409.7 75.7h0M519.5 30.2h0M392.7 70.2h0M506.0 30.5h0M503.3 57.0h0M509.6 67.1h0M516.4 74.0h0M535.7 83.4h0M476.0 40.4h0M476.2 42.2h0M345.9 84.4h0M454.9 52.2h0M445.0 31.7h0M348.9 50.1h0M392.3 63.6h0M494.5 42.9h0M390.2 53.0h0M502.7 74.9h0M404.8 52.9h0M338.1 66.5h0M522.2 26.8h0M462.5 27.5h0M518.3 42.0h0M371.4 46.5h0M333.6 43.4h0M472.6 79.4h0M483.4 39.6h0M460.1 42.5h0M434.3 28.9h0M370.5 28.8h0M495.3 81.0h0M416.4 55.6h0M327.5 75.2h0M383.2 44.6h0M352.7 81.1h0M355.3 48.0h0M455.1 12.1h0M373.3 45.4h0M429.7 50.1h0M385.1 11.5h0M353.8 76.0h0M362.4 65.4h0M415.5 72.6h0M478.8 91.2h0M460.7 9.7h0M379.0 29.0h0M450.8 26.8h0M487.7 83.4h0M415.1 90.1h0M468.1 76.7h0M350.6 34.6h0M424.7 10.3h0M372.6 83.5h0M480.3 12.1h0M465.8 37.5h0M490.3 57.5h0M513.8 52.5h0M528.1 29.1h0M511.6 37.5h0M460.3 80.0h0M371.0 77.1h0M464.0 51.9h0M415.0 66.6h0M451.2 23.2h0M474.9 53.2h0M371.0 80.1h0M333.7 50.4h0M477.5 53.9h0M350.5 28.5h0M340.1 89.7h0M343.0 75.6h0M450.2 29.5h0M398.4 11.5h0M482.9 62.2h0M456.0 90.1h0M433.1 78.9h0M402.0 87.3h0M445.8 93.7h0M424.0 70.7h0M506.7 85.2h0M390.8 88.9h0M445.2 85.6h0M394.2 75.9h0M331.4 16.0h0M489.2 37.5h0M436.3 80.9h0M416.8 79.3h0M486.3 51.8h0M536.5 13.7h0M437.7 19.1h0M521.7 48.8h0M470.7 28.9h0M509.5 48.1h0M442.4 55.6h0M516.9 72.5h0M429.2 65.9h0M481.0 55.8h0M532.0 21.4h0M346.8 35.0h0M537.5 84.8h0M472.4 51.6h0M522.9 71.5h0M441.1 42.3h0M385.9 57.5h0M536.4 48.1h0M516.0 87.6h0M398.0 71.0h0M348.4 50.3h0M368.4 75.1h0M416.1 75.3h0M415.2 21.7h0M375.6 44.0h0M387.7 28.3h0M341.3 90.4h0M455.7 23.0h0M431.8 57.4h0M468.8 33.4h0M329.6 57.8h0M522.4 24.6h0M497.3 78.4h0M395.1 28.5h0M428.8 82.0h0M426.7 31.4h0M411.7 83.6h0M350.1 56.8h0M339.1 56.5h0M407.7 23.9h0M532.5 14.8h0M456.1 57.2h0M343.2 33.6h0M330.8 51.9h0M440.9 14.7h0M538.4 24.4h0M495.7 48.5h0M529.5 57.8h0M363.1 18.2h0M470.8 86.6h0M498.5 74.9h0M524.0 44.4h0M523.8 26.3h0M426.8 79.7h0M450.9 21.1h0M433.6 71.8h0M455.7 14.2h0M399.9 28.2h0M453.1 73.7h0M510.4 38.0h0M436.7 92.4h0M345.2 86.7h0M526.5 93.3h0M346.3 58.9h0M466.3 89.7h0M485.0 27.4h0M436.0 57.6h0M338.1 45.7h0M499.6 87.2h0M434.8 43.4h0M399.9 25.1h0M326.0 50.3h0M499.4 41.8h0M336.4 14.2h0M463.1 41.8h0M506.4 80.9h0M420.0 63.5h0M457.3 88.8h0M453.4 88.1h0M533.9 34.5h0M416.2 30.6h0M413.3 37.2h0M327.1 80.7h0M381.3 26.3h0M493.0 43.9h0M330.4 20.3h0M413.2 30.1h0M333.4 67.2h0M459.0 35.4h0M328.1 92.7h0M491.9 90.3h0M443.4 92.9h0M351.2 53.6h0M497.2 24.7h0M413.3 38.7h0M447.5 71.5h0M405.3 90.2h0M363.9 36.0h0M350.2 88.1h0M386.9 21.2h0M470.5 64.1h0M437.7 89.5h0M477.7 71.1h0M340.5 73.5h0M482.8 59.4h0M487.6 61.6h0M405.1 67.2h0M344.8 12.6h0M533.2 15.0h0M380.0 33.8h0M536.7 55.0h0M451.4 74.5h0M330.0 14.3h0M471.3 41.4h0M375.9 45.6h0M412.5 48.6h0M377.2 76.5h0M513.9 83.7h0M431.4 10.6h0M410.9 59.0h0M541.3 56.2h0M383.8 45.1h0M538.0 41.9h0M541.0 41.7h0M327.4 10.1h0M493.1 23.8h0M471.8 61.6h0M458.9 48.5h0M328.8 9.6h0M361.0 67.0h0M375.3 86.9h0M341.8 64.1h0M382.2 43.5h0M361.3 36.1h0M498.7 70.5h0M468.9 57.1h0M369.7 52.7h0M489.9 32.6h0M455.8 93.5h0M491.7 25.6h0M403.0 15.4h0M495.7 25.8h0M405.0 25.0h0M391.2 41.5h0M404.8 69.5h0M534.3 29.1h0M531.9 16.8h0M471.3 21.1h0M505.7 43.3h0M478.8 19.9h0M487.9 51.1h0M399.8 58.9h0M434.4 34.5h0M366.5 42.7h0M366.5 32.1h0M517.2 86.8h0M496.7 39.2h0M351.4 18.4h0M473.4 94.1h0M508.0 34.1h0M430.6 52.9h0M383.3 65.4h0M376.8 50.1h0M519.2 63.8h0M365.6 84.4h0M501.1 23.7h0M523.3 88.7h0M468.4 92.6h0M522.6 59.9h0M341.3 68.1h0M337.1 55.1h0M416.5 74.9h0M340.8 48.3h0M387.4 36.5h0M354.3 26.2h0M336.4 80.9h0M469.4 46.7h0M481.0 68.1h0M506.9 85.0h0M494.6 37.9h0M424.5 65.0h0M427.8 24.0h0M348.2 47.2h0M529.7 88.3h0M407.5 57.0h0M422.1 65.6h0M510.7 74.8h0M331.2 24.2h0M520.1 59.7h0M406.2 47.6h0M374.7 61.0h0M457.5 78.3h0M425.3 65.4h0M453.0 50.1h0M471.4 76.8h0M393.7 10.0h0M369.5 64.6h0M420.1 45.0h0M380.2 92.1h0M423.4 37.1h0M522.3 41.3h0M468.6 90.9h0M324.9 93.4h0M492.6 60.3h0M484.7 59.6h0M335.2 63.8h0M413.3 70.2h0M447.0 90.6h0M523.2 58.7h0M528.2 18.4h0M484.0 66.9h0M521.3 58.9h0M394.6 23.0h0M515.3 26.1h0M429.0 45.3h0M516.2 49.2h0M341.2 84.1h0M451.6 36.3h0M362.3 37.0h0M536.8 93.6h0M427.4 34.0h0M502.8 89.9h0M492.1 15.1h0M496.1 16.6h0M419.4 84.4h0M485.4 47.4h0M421.6 27.1h0M349.9 21.5h0M417.9 39.2h0M496.5 86.9h0M383.2 85.2h0M524.1 40.9h0M471.4 34.0h0M332.2 43.5h0M342.1 20.4h0M338.9 70.0h0M346.5 82.8h0M374.4 72.5h0M347.9 76.5h0M440.4 92.0h0M535.4 47.8h0M438.2 80.7h0M481.7 43.6h0M350.3 11.2h0M467.3 39.0h0M390.2 22.0h0M501.9 22.7h0M332.1 79.5h0M325.6 40.6h0M325.9 79.4h0M374.1 41.0h0M458.3 55.2h0M533.7 63.4h0M415.5 44.1h0M433.8 24.0h0M380.3 49.9h0M399.5 67.0h0M473.8 68.4h0M434.3 45.5h0M495.1 29.4h0M344.4 90.1h0M386.7 15.3h0M397.7 17.1h0M475.2 54.4h0M368.9 56.5h0M468.7 41.7h0M432.2 33.4h0M520.4 20.9h0M379.2 37.2h0M341.8 17.6h0M365.3 69.8h0M461.1 49.2h0M453.7 64.9h0M485.0 17.7h0M456.4 91.8h0M396.7 50.5h0M363.9 70.6h0M343.8 40.6h0M347.4 48.1h0M385.7 57.8h0M446.9 76.6h0M460.8 86.6h0M451.5 64.2h0M348.4 25.1h0M374.4 92.5h0M449.2 88.9h0M504.0 64.8h0M457.2 88.0h0M458.3 90.4h0M525.6 30.3h0M356.7 49.6h0M503.4 92.1h0M380.2 88.2h0M356.6 30.9h0M462.2 47.7h0M487.1 14.1h0M338.4 80.8h0M480.5 81.5h0M418.1 32.7h0M447.7 78.0h0M475.9 39.5h0M442.9 10.3h0M496.7 93.0h0M396.2 86.6h0M506.5 61.5h0M508.0 36.2h0M496.9 43.4h0M539.9 76.8h0M487.1 16.1h0M518.5 80.7h0M396.1 51.1h0M429.9 83.7h0M383.7 67.5h0M521.3 71.6h0M473.0 52.1h0M385.8 44.1h0M413.7 58.2h0M343.9 64.1h0M415.5 41.6h0M326.6 33.5h0M360.4 86.7h0"/>
<path stroke="#74bfec" stroke-width="1.3" stroke-linecap="square" stroke-opacity="0.9" d="M343.3 73.9h0M352.8 87.9h0M480.7 41.5h0M519.4 41.7h0M408.9 55.3h0M352.8 26.3h0M451.7 76.3h0M503.1 50.6h0M327.3 44.7h0M446.8 66.5h0M347.0 22.4h0M430.7 33.5h0M459.7 33.3h0M430.3 82.4h0M476.5 78.4h0M480.6 40.7h0M493.6 65.4h0M398.9 28.0h0M440.5 30.8h0M489.4 34.4h0M463.2 43.7h0M393.1 83.9h0M394.8 30.5h0M472.1 22.8h0M536.1 36.6h0M412.9 61.0h0M338.8 72.8h0M490.4 25.4h0M367.4 42.5h0M507.2 42.1h0M423.7 57.5h0M504.8 73.2h0M420.7 59.5h0M348.8 53.8h0M496.4 43.4h0M506.2 93.2h0M510.2 53.5h0M492.2 50.8h0M531.1 10.7h0M384.9 54.0h0M371.3 55.3h0M485.3 74.8h0M354.3 36.0h0M520.5 49.0h0M537.5 52.2h0M514.3 79.8h0M444.2 73.8h0M474.7 35.7h0M465.3 44.4h0M392.0 56.6h0M441.2 40.4h0M531.3 89.4h0M448.2 87.5h0M475.2 68.5h0M415.7 64.3h0M327.6 47.1h0M510.9 34.7h0M422.6 64.5h0M387.6 13.3h0M510.8 72.9h0M499.1 79.4h0M526.5 65.1h0M409.0 65.1h0M509.8 76.7h0M472.6 32.7h0M418.2 52.1h0M444.7 73.8h0M478.9 92.6h0M469.1 91.5h0M478.8 30.6h0M351.2 93.4h0M337.7 56.9h0M363.6 68.2h0M503.7 40.8h0M459.6 91.9h0M513.2 87.4h0M371.2 35.5h0M381.7 67.4h0M476.7 59.8h0M353.4 26.6h0M452.7 20.4h0M439.1 12.6h0M517.8 74.6h0M360.8 70.8h0M512.1 40.1h0M325.0 19.0h0M347.8 84.4h0M374.0 29.1h0M492.0 42.7h0M349.2 21.3h0M462.2 82.5h0M489.6 32.5h0M373.8 71.1h0M349.8 88.4h0M519.4 76.3h0M369.5 74.9h0M497.7 83.7h0M453.8 13.5h0M415.5 63.0h0M373.4 10.3h0M517.8 62.6h0M472.8 18.0h0M353.9 65.8h0M464.8 88.6h0M535.1 39.3h0M330.6 37.7h0M516.3 14.1h0M444.2 52.5h0M470.1 66.5h0M400.7 90.2h0M330.3 24.0h0M476.1 66.4h0M425.3 77.3h0M419.3 52.9h0M494.9 24.4h0M452.1 48.9h0M343.7 69.5h0M532.3 66.0h0M388.7 71.0h0M377.7 82.1h0M521.9 36.2h0M336.9 71.6h0M449.5 53.4h0M381.8 46.2h0M496.4 39.2h0M413.4 23.9h0M376.0 43.2h0M397.7 40.6h0M333.9 86.9h0M532.4 14.4h0M363.1 10.3h0M534.0 76.5h0M430.4 13.0h0M417.3 23.4h0M381.0 69.7h0M435.1 53.0h0M386.4 29.4h0M331.7 74.1h0M330.3 33.4h0M391.6 40.9h0M484.7 64.5h0M486.9 20.0h0M400.5 90.7h0M347.5 67.9h0M387.1 41.0h0M448.5 88.5h0M514.4 82.9h0M381.0 75.3h0M332.1 90.8h0M443.9 33.3h0M381.9 27.7h0M358.0 92.5h0M444.7 84.0h0M391.8 19.9h0M360.8 67.3h0M391.5 54.8h0M442.3 20.9h0M526.5 50.5h0M426.5 63.6h0M462.0 66.1h0M454.2 92.6h0M533.4 9.7h0M354.1 70.7h0M385.2 91.2h0M525.4 14.1h0M348.6 21.4h0M429.8 30.1h0M388.0 64.9h0M453.9 34.1h0M408.0 43.2h0M376.0 79.7h0M433.8 62.3h0M487.5 82.4h0M540.8 27.8h0M407.1 46.5h0M518.9 22.6h0M488.8 77.8h0M435.7 53.4h0M371.0 54.8h0M384.4 49.4h0M448.8 66.2h0M343.6 72.8h0M388.1 35.7h0M471.0 89.7h0M332.8 27.6h0M428.9 77.4h0M442.4 41.0h0M440.7 43.8h0M474.4 22.4h0M383.3 55.9h0M438.3 48.6h0M336.0 61.2h0M360.5 51.7h0M353.2 31.2h0M396.9 12.7h0M530.6 49.7h0M453.2 63.0h0M451.9 35.0h0M531.1 56.3h0M439.0 27.3h0M385.4 53.2h0M386.3 64.8h0M526.4 56.9h0M472.7 30.2h0M465.2 65.0h0M354.3 83.3h0M510.1 70.2h0M523.9 84.1h0M474.1 59.8h0M407.2 40.0h0M397.8 45.5h0M346.8 42.6h0M350.0 12.6h0M540.7 54.7h0M335.0 92.1h0M375.4 21.9h0M391.7 64.3h0M376.1 11.1h0M389.0 20.6h0M363.1 35.1h0M428.4 21.6h0M403.8 24.0h0M472.4 50.4h0M392.4 49.1h0M425.6 35.8h0M489.7 70.8h0M337.2 89.0h0M486.2 92.3h0M396.9 25.5h0M502.0 74.8h0M456.0 64.9h0M472.7 79.2h0M394.3 60.3h0M336.5 48.9h0M359.6 46.1h0M335.2 82.7h0M439.1 16.1h0M480.6 54.8h0M432.1 52.6h0M365.8 13.5h0M426.3 67.0h0M483.7 33.5h0M369.7 79.3h0M359.1 83.5h0M344.9 18.6h0M376.4 61.3h0M330.3 91.9h0M466.9 57.3h0M460.4 60.3h0M327.9 76.1h0M339.2 10.8h0M505.4 55.6h0M406.6 35.1h0M422.3 93.7h0M375.8 71.6h0M456.2 56.1h0M528.4 42.0h0M369.6 24.2h0M418.3 67.5h0M489.8 51.5h0M497.9 75.3h0M501.9 15.8h0M463.4 74.6h0M475.2 82.2h0M455.2 43.0h0M418.2 32.7h0M428.7 33.3h0M532.7 11.8h0M396.5 90.2h0M469.3 60.3h0M422.3 93.3h0M356.3 70.8h0M459.7 64.7h0M388.2 35.8h0M532.1 37.0h0M325.2 56.0h0M389.4 52.9h0M429.5 22.9h0M449.8 45.4h0M372.5 61.6h0M482.4 92.9h0M532.5 44.9h0M482.4 33.9h0M428.4 47.5h0M406.4 48.3h0M417.6 63.7h0M440.8 45.2h0M465.6 32.3h0M521.1 82.1h0M328.1 20.2h0M373.7 36.1h0M540.9 29.1h0M476.5 41.2h0M531.2 91.0h0M425.8 71.7h0M399.3 10.9h0M488.6 67.3h0M484.8 65.9h0M350.9 41.7h0M523.8 18.5h0M345.1 27.6h0M394.7 47.0h0M434.8 21.2h0M325.0 81.9h0M379.5 68.0h0M401.3 26.1h0M407.1 87.6h0M384.7 61.1h0M438.0 60.0h0M504.4 81.1h0M473.6 61.4h0M456.5 68.0h0M380.9 46.8h0M489.7 36.8h0M450.9 14.9h0M342.9 26.8h0M486.0 46.9h0M514.1 18.4h0M520.0 13.9h0M332.8 25.0h0M399.4 92.8h0M372.1 67.7h0M437.8 26.5h0M489.3 24.7h0M497.5 39.3h0M535.1 75.7h0M324.9 49.6h0M383.7 74.0h0M343.1 60.0h0M512.9 40.3h0M394.4 50.3h0M328.2 15.0h0M483.1 21.5h0M513.2 59.8h0M511.0 74.6h0M413.2 48.5h0M423.9 25.7h0M463.1 16.8h0M514.0 45.3h0M385.0 53.8h0M541.4 88.0h0M495.4 31.4h0M422.6 50.9h0M462.1 69.5h0M415.1 15.0h0M409.1 82.1h0M350.0 42.9h0M471.1 72.7h0M487.1 42.7h0M371.3 44.5h0M334.8 72.2h0M434.4 40.0h0M361.9 27.5h0M351.0 54.0h0M433.1 65.4h0M347.7 49.7h0M512.1 60.0h0M494.9 11.8h0M431.3 18.2h0M386.4 18.5h0M447.0 16.9h0M400.1 91.6h0M340.9 84.3h0M541.1 25.3h0M369.3 51.6h0M491.2 23.2h0M484.4 42.6h0M382.7 55.9h0M349.6 71.1h0M496.1 24.7h0M341.9 52.8h0M497.6 91.9h0M531.1 27.5h0M472.4 81.2h0M466.6 32.5h0M476.1 12.9h0M395.9 46.2h0M450.4 69.5h0M408.2 82.0h0M450.4 68.2h0M406.6 58.2h0M356.6 15.7h0M442.5 67.9h0M468.7 89.7h0M469.0 78.2h0M336.8 51.2h0M501.5 39.0h0M421.6 65.8h0M541.2 51.8h0M508.3 58.8h0M414.0 72.2h0M457.5 12.4h0M476.7 25.6h0M409.6 19.5h0M452.4 60.8h0M344.5 88.4h0M464.4 86.3h0M430.8 15.1h0M426.7 43.0h0M326.9 24.7h0M462.5 60.4h0M456.2 60.6h0M500.4 63.5h0M350.2 16.1h0M403.5 59.9h0M336.3 34.9h0M504.3 83.0h0M380.9 45.9h0M498.4 25.7h0M518.6 25.5h0M368.5 56.9h0M453.3 55.3h0M369.6 15.6h0M510.7 17.2h0M513.8 61.7h0M522.6 70.4h0M481.2 79.3h0M456.5 36.8h0M491.0 72.7h0M530.4 45.7h0M480.4 83.3h0M457.8 22.9h0M368.2 87.9h0M470.6 79.9h0M357.7 18.0h0M327.9 49.7h0M415.2 55.2h0M479.0 64.9h0M455.5 60.9h0M417.8 73.6h0M403.0 90.7h0M429.7 30.6h0M506.7 49.4h0M503.0 59.7h0M430.5 23.5h0M390.3 51.6h0M529.6 37.1h0M349.4 91.3h0M402.8 87.6h0M375.8 56.2h0M516.5 23.8h0M478.3 70.8h0M326.1 76.0h0M476.3 70.6h0M469.8 76.8h0M522.3 10.5h0M351.7 63.8h0M353.6 51.5h0M457.0 28.8h0M458.1 61.7h0M384.4 37.2h0M498.0 53.2h0M422.2 17.7h0M328.6 91.5h0M498.9 57.6h0M478.6 41.8h0M513.7 50.2h0M464.0 58.2h0M489.0 63.4h0M335.5 47.8h0M470.7 73.5h0M430.6 43.7h0M499.5 18.6h0M490.6 46.1h0M333.2 52.1h0M448.2 34.3h0M513.9 67.7h0M335.2 51.5h0M510.0 65.4h0M536.1 21.4h0M377.4 38.1h0M351.6 30.8h0M357.8 37.2h0M385.9 79.3h0M412.2 83.1h0M369.3 16.7h0M492.8 15.9h0M480.4 50.6h0M445.6 45.0h0M513.3 12.3h0M519.6 14.8h0M467.2 17.8h0M424.0 31.2h0M347.6 66.9h0M478.9 58.3h0M503.1 52.6h0M420.6 66.0h0M331.2 57.2h0M357.5 64.3h0M364.5 42.8h0M397.7 49.5h0M363.6 19.1h0M387.0 75.1h0M515.8 52.0h0M477.4 66.8h0M400.2 38.6h0M363.7 89.6h0M522.7 34.4h0M340.6 44.5h0M359.7 65.0h0M467.4 47.7h0M537.6 51.7h0M464.4 58.8h0M450.0 73.5h0M455.2 21.7h0M329.9 57.3h0M393.4 23.9h0M458.2 19.0h0M513.8 90.5h0M487.2 27.2h0M410.5 72.8h0M478.9 65.1h0M415.0 54.3h0M533.4 68.8h0M352.1 10.7h0M384.0 86.1h0M519.7 79.2h0M369.9 80.7h0M484.8 74.3h0M437.4 74.5h0M434.8 22.6h0M475.2 31.8h0M388.7 74.5h0M535.0 45.7h0M515.0 49.5h0M438.4 60.4h0M480.9 29.7h0M468.9 74.5h0M385.5 62.7h0M504.8 44.1h0M356.0 82.0h0M429.6 18.3h0M492.6 36.7h0M499.5 41.8h0M411.1 93.6h0M529.9 27.4h0M426.9 83.9h0M371.8 82.9h0M365.4 83.2h0M539.5 93.1h0M537.5 85.5h0M441.4 24.2h0M453.6 86.0h0M344.9 28.9h0M412.3 29.1h0M439.7 30.0h0M530.3 79.5h0M397.6 45.2h0M479.9 42.4h0M381.1 66.7h0M370.8 48.2h0M511.2 12.3h0M390.9 34.8h0M480.7 39.7h0M442.0 83.5h0M484.7 26.9h0M373.6 44.6h0M437.7 17.5h0M437.7 17.5h0M421.8 82.6h0M528.0 88.8h0M426.4 90.9h0M481.8 35.5h0M331.1 20.9h0M406.5 12.1h0M327.6 78.1h0M458.3 42.9h0M457.1 76.8h0M503.2 86.4h0M489.3 83.5h0M512.6 25.7h0M518.3 28.8h0M538.1 38.4h0M494.9 83.4h0M448.4 27.3h0M522.0 66.3h0M426.2 38.3h0M421.1 76.1h0M451.1 87.1h0M446.9 62.0h0M526.1 20.0h0M358.6 43.3h0M516.2 44.9h0M424.4 55.9h0M352.4 54.0h0M492.1 42.4h0M380.6 72.9h0M458.9 14.6h0M352.0 79.9h0M538.6 91.7h0M328.1 79.7h0M521.3 59.7h0M445.0 72.4h0M381.7 23.0h0M421.8 86.0h0M407.7 88.4h0M431.6 75.9h0M468.4 32.2h0M352.4 43.9h0M490.1 45.6h0M335.2 69.7h0M450.3 46.5h0M327.6 30.8h0M539.1 14.1h0M401.3 25.9h0M485.3 39.7h0M474.2 19.5h0M489.0 32.0h0M503.0 81.4h0M412.4 10.5h0M345.8 61.1h0M409.6 61.8h0M351.6 73.6h0M382.8 51.1h0M351.4 93.8h0M418.3 11.4h0M517.0 75.8h0M402.6 61.3h0M522.1 79.2h0M376.4 47.5h0M498.7 46.0h0M343.3 65.6h0M368.0 47.7h0M454.6 55.6h0M361.9 41.8h0M480.4 73.0h0M389.5 76.4h0M440.5 93.2h0M409.5 30.7h0M431.8 29.5h0M480.4 22.3h0M446.9 30.8h0M425.9 71.7h0M345.5 16.5h0M439.8 41.9h0M498.3 10.6h0M427.0 61.9h0M539.7 90.5h0M399.0 12.2h0M406.0 47.7h0M490.2 34.9h0M472.9 61.6h0M535.5 57.9h0M402.0 48.2h0M430.9 33.1h0M378.4 93.3h0M497.0 40.2h0M371.0 93.1h0M396.7 76.0h0M388.1 76.1h0M327.5 57.0h0M443.5 83.6h0M470.8 33.5h0M372.5 50.3h0M389.6 38.3h0M512.4 68.1h0M445.0 9.9h0M341.3 29.6h0M348.9 80.4h0M502.9 70.1h0M481.1 66.4h0M348.5 79.9h0M492.6 77.6h0M327.5 39.7h0M408.4 59.1h0M500.6 76.4h0M335.3 27.9h0M354.0 10.7h0M339.1 75.0h0M506.0 23.6h0M390.7 86.4h0M425.8 75.6h0M486.7 88.2h0M327.3 92.4h0M526.4 71.1h0M337.8 55.0h0M521.6 77.8h0M348.8 71.9h0M509.8 86.5h0M491.6 31.8h0M428.4 72.5h0M328.4 44.3h0M494.6 36.3h0M483.3 39.3h0M487.3 73.8h0M429.9 14.7h0M427.8 9.7h0M481.1 11.0h0M476.5 73.0h0M524.0 20.5h0M440.6 45.3h0M394.4 68.4h0M341.5 75.0h0M398.8 20.0h0M536.8 11.4h0M377.5 87.0h0M519.4 74.5h0M400.2 74.6h0M371.9 46.8h0M349.3 67.2h0M539.8 72.5h0M335.7 64.7h0M457.3 82.4h0M372.9 75.4h0M349.8 93.8h0M400.5 85.3h0M386.6 63.6h0M348.1 25.5h0M535.0 50.7h0M372.6 28.7h0M338.0 81.9h0M407.2 45.2h0M529.9 13.1h0M472.1 73.5h0M525.0 51.1h0M385.4 30.2h0M448.4 11.4h0M327.2 81.2h0M487.8 72.4h0M499.6 89.4h0M334.7 24.4h0M385.4 58.6h0M397.8 16.0h0M454.1 52.9h0M450.9 67.2h0M448.7 46.8h0M340.1 78.6h0M491.0 29.3h0M358.4 59.1h0M365.3 52.2h0M385.8 60.2h0M355.4 42.7h0M440.2 62.8h0M515.3 39.7h0M372.1 23.1h0M461.6 56.6h0M365.7 75.4h0M508.9 44.6h0M536.4 87.8h0M340.8 18.3h0M360.2 31.9h0M452.7 88.6h0M474.3 69.2h0M437.3 52.7h0M453.3 41.8h0M473.2 58.9h0M515.5 88.0h0M432.8 44.4h0M514.0 71.0h0M473.2 67.8h0M404.2 54.8h0M447.1 14.3h0M439.7 78.7h0M366.9 28.7h0M358.3 19.1h0M453.0 28.2h0M509.8 73.0h0M430.6 40.4h0M420.6 93.1h0M433.3 44.9h0M360.1 17.9h0M348.8 15.3h0M342.3 38.0h0M332.8 69.8h0M534.4 84.9h0M520.9 40.6h0M537.0 35.9h0M352.6 38.8h0M394.5 59.7h0M393.7 66.8h0M352.4 53.9h0M491.9 88.0h0M351.9 75.1h0M523.2 30.1h0M332.3 73.1h0M539.8 84.0h0M324.9 34.2h0M381.9 93.9h0M493.4 62.9h0M351.4 59.4h0M447.3 83.3h0M501.3 18.7h0M494.2 27.0h0M508.6 51.6h0M387.3 34.3h0M408.1 80.5h0M358.9 43.7h0M457.3 68.7h0M369.3 28.8h0M457.6 41.0h0M378.6 19.5h0M369.9 50.2h0M494.4 26.3h0M357.7 47.1h0M406.7 11.2h0M469.0 88.0h0M433.6 81.9h0M405.3 85.4h0M352.8 38.3h0M375.7 87.7h0M513.7 11.1h0M402.4 30.5h0M455.0 85.5h0M480.7 18.8h0M463.3 72.6h0M370.8 87.2h0M399.0 71.8h0M414.2 83.4h0M436.1 56.5h0M470.2 75.0h0M443.2 79.5h0M414.0 78.7h0M511.3 41.2h0M357.2 48.3h0M468.7 46.6h0M426.2 29.7h0"/>
<path stroke="#2e94c4" stroke-width="1.3" stroke-linecap="square" stroke-opacity="0.9" d="M539.9 187.9h0M440.3 165.3h0M429.7 200.9h0M452.4 183.3h0M472.6 197.0h0M436.6 195.9h0M355.8 135.3h0M441.6 201.0h0M517.5 199.9h0M532.6 210.0h0M433.6 197.4h0M445.2 204.8h0M356.6 177.4h0M494.4 153.7h0M378.3 198.1h0M342.4 180.9h0M369.1 198.5h0M373.6 200.2h0M416.5 205.6h0M499.1 195.5h0M334.7 173.0h0M363.8 193.9h0M433.7 158.0h0M393.4 169.7h0M448.1 197.2h0M525.1 188.4h0M492.6 155.7h0M438.2 158.3h0M456.2 160.2h0M328.4 217.4h0M373.4 160.2h0M448.0 195.5h0M429.6 193.0h0M403.3 182.8h0M486.7 201.4h0M367.6 147.9h0M442.4 200.8h0M360.9 152.4h0M423.1 206.6h0M483.2 153.5h0M405.5 153.9h0M455.6 137.0h0M496.7 175.3h0M424.5 214.6h0M329.3 207.0h0M383.1 188.2h0M458.9 182.7h0M370.2 175.7h0M453.4 214.6h0M376.0 182.0h0M406.8 168.2h0M331.6 186.8h0M532.5 166.8h0M333.0 167.4h0M524.2 217.3h0M372.5 217.4h0M404.8 201.7h0M368.5 198.8h0M438.7 192.5h0M535.8 216.9h0M406.1 151.7h0M330.3 163.2h0M402.5 154.9h0M382.0 216.0h0M400.1 167.6h0M374.7 164.6h0M421.7 147.8h0M488.3 207.0h0M418.1 181.6h0M347.3 170.7h0M533.0 164.9h0M341.7 196.5h0M496.1 160.5h0M505.9 148.2h0M461.9 155.2h0M336.6 209.6h0M424.4 183.0h0M379.0 174.6h0M409.2 172.1h0M335.0 173.5h0M478.6 151.3h0M490.4 150.7h0M514.4 182.9h0M470.6 185.8h0M353.4 200.4h0M447.3 156.5h0M398.5 176.4h0M444.4 195.8h0M463.5 173.9h0M368.0 137.3h0M380.8 139.0h0M367.1 138.0h0M404.3 141.2h0M398.8 138.3h0M527.0 167.7h0M336.3 189.2h0M396.1 136.9h0M405.7 188.6h0M419.9 216.7h0M376.5 145.3h0M409.1 142.6h0M425.2 179.3h0M536.4 143.0h0M343.9 169.7h0M374.4 183.5h0M386.2 146.1h0M487.6 192.6h0M329.0 187.9h0M364.4 207.9h0M410.8 214.6h0M524.4 191.3h0M460.6 147.8h0M360.3 217.7h0M433.7 164.4h0M423.8 145.0h0M343.9 176.9h0M353.2 195.6h0M447.8 155.9h0M465.8 152.1h0M385.0 178.8h0M340.0 157.4h0M525.5 158.0h0M386.8 191.3h0M338.8 199.2h0M478.1 215.4h0M504.6 193.2h0M449.5 156.2h0M524.6 177.9h0M539.6 149.3h0M475.0 148.9h0M411.0 174.2h0M494.8 134.7h0M453.5 214.8h0M327.3 192.4h0M537.9 167.0h0M510.5 194.8h0M536.4 190.5h0M468.4 202.2h0M434.5 194.5h0M338.7 157.7h0M410.0 187.9h0M427.9 165.9h0M329.8 204.2h0M409.7 155.9h0M326.2 159.6h0M401.4 176.6h0M369.7 144.4h0M494.8 167.4h0M447.8 144.6h0M466.8 177.2h0M453.2 167.7h0M437.5 158.4h0M420.2 151.8h0M434.1 188.6h0M367.3 166.0h0M466.7 173.3h0M384.1 163.7h0M341.5 145.0h0M512.7 212.5h0M434.8 166.7h0M502.9 164.5h0M500.0 189.1h0M500.7 213.7h0M340.0 180.3h0M534.2 194.4h0M509.8 215.0h0M359.5 159.6h0M358.6 156.6h0M432.6 212.1h0M475.0 138.8h0M396.6 164.5h0M410.4 204.3h0M397.4 198.9h0M413.8 165.5h0M468.5 152.1h0M419.3 169.0h0M330.0 203.8h0M426.6 133.5h0M538.2 181.7h0M373.3 164.2h0M345.6 174.7h0M512.2 213.7h0M363.1 163.6h0M394.4 158.4h0M425.2 178.4h0M352.5 177.3h0M364.5 210.5h0M456.5 171.9h0M441.0 167.7h0M537.8 178.0h0M495.4 186.8h0M476.2 178.9h0M406.4 144.4h0M485.6 192.1h0M515.6 137.1h0M368.8 136.7h0M407.4 197.0h0M394.1 167.4h0M331.4 147.4h0M497.5 211.8h0M439.4 159.1h0M375.4 209.2h0M336.8 142.5h0M340.0 152.4h0M473.3 200.4h0M358.2 210.9h0M462.1 156.3h0M413.1 206.6h0M374.6 204.2h0M505.4 197.2h0M390.4 208.2h0M467.9 151.2h0M418.6 176.5h0M350.1 206.1h0M508.6 211.8h0M414.6 177.5h0M325.2 162.1h0M401.9 153.9h0M337.3 133.9h0M362.5 205.9h0M382.0 197.1h0M340.9 140.6h0M345.7 194.6h0M386.3 208.2h0M531.0 211.1h0M353.7 192.1h0M413.8 183.7h0M338.8 179.0h0M387.3 140.3h0M442.8 215.9h0M395.6 199.7h0M522.2 147.7h0M393.6 195.7h0M455.3 147.8h0M491.0 135.6h0M472.4 153.0h0M338.3 192.6h0M413.9 187.8h0M349.5 207.9h0M345.4 200.8h0M431.5 147.7h0M484.1 214.7h0M338.8 143.3h0M453.7 208.7h0M369.5 190.5h0M503.6 143.4h0M439.3 203.2h0M324.0 212.6h0M495.3 146.0h0M353.5 214.6h0M438.1 143.2h0M399.6 217.0h0M384.3 145.5h0M439.1 185.8h0M382.7 160.8h0M509.6 145.3h0M536.5 184.5h0M494.9 150.5h0M376.9 175.2h0M496.4 212.4h0M472.5 166.0h0M367.1 206.4h0M346.1 184.0h0M524.2 162.6h0M532.9 212.6h0M529.2 145.7h0M344.2 208.8h0M476.4 180.6h0M393.1 159.1h0M497.6 158.9h0M393.7 156.2h0M455.5 145.6h0M421.3 151.8h0M460.1 138.6h0M477.8 168.6h0M347.3 138.1h0M389.3 150.9h0M515.8 145.4h0M366.7 138.1h0M450.0 216.4h0M484.4 164.1h0M465.5 212.5h0M525.3 158.0h0M425.9 191.4h0M428.2 140.0h0M388.4 186.6h0M362.0 194.6h0M417.1 143.2h0M457.3 205.2h0M404.1 158.2h0M533.0 193.0h0M373.6 133.6h0M484.8 156.7h0M352.2 201.7h0M518.8 211.8h0M479.6 146.9h0M374.7 154.7h0M386.6 156.3h0M356.0 215.3h0M363.4 152.5h0M470.7 145.3h0M426.0 146.0h0M492.6 149.2h0M513.1 187.6h0M374.9 191.5h0M440.7 186.7h0M527.9 179.2h0M373.7 175.9h0M425.5 140.1h0M450.1 169.8h0M517.7 211.7h0M383.4 215.8h0M488.0 172.3h0M328.9 142.6h0M485.7 140.0h0M402.7 182.9h0M531.0 218.0h0M394.3 202.2h0M528.1 182.7h0M490.3 161.2h0M385.7 217.4h0M497.2 194.0h0M492.7 208.9h0M423.8 196.1h0M398.8 197.0h0M396.6 137.1h0M518.8 138.7h0M368.6 168.4h0M331.0 168.3h0M326.7 152.8h0M434.0 148.3h0M417.0 190.4h0M511.1 139.7h0M411.8 178.9h0M399.6 206.4h0M395.9 186.3h0M521.5 151.9h0M439.8 139.0h0M488.9 172.6h0M331.1 217.4h0M364.4 138.0h0M452.7 180.8h0M348.7 175.4h0M354.9 152.9h0M408.2 162.7h0M401.3 150.1h0M383.6 168.9h0M497.3 149.4h0M436.4 158.6h0M424.3 158.5h0M461.5 211.9h0M338.3 139.2h0M455.4 191.6h0M348.7 181.3h0M508.8 177.8h0M467.3 209.8h0M389.7 160.7h0M389.3 189.4h0M378.4 203.2h0M493.2 191.4h0M335.7 156.8h0M521.8 148.2h0M465.7 143.4h0M452.4 158.8h0M396.4 153.6h0M420.8 166.7h0M521.5 173.2h0M394.0 196.3h0M442.6 163.5h0M382.9 194.7h0M360.3 184.1h0M498.0 203.2h0M330.0 158.2h0M539.6 193.4h0M425.2 158.8h0M421.6 170.3h0M424.1 156.8h0M370.1 211.5h0M344.8 135.6h0M472.4 192.8h0M511.5 133.7h0M476.3 137.5h0M431.2 190.1h0M491.5 140.0h0M468.5 139.4h0M413.1 156.8h0M497.9 192.6h0M497.3 134.2h0M447.1 151.9h0M484.7 165.8h0M538.1 171.1h0M511.2 143.3h0M446.8 181.1h0M499.0 134.2h0M332.2 154.6h0M425.8 173.1h0M456.4 174.5h0M493.6 207.2h0M419.8 195.6h0M367.2 192.9h0M474.0 141.8h0M533.7 201.5h0M484.5 210.5h0M357.5 154.2h0M384.8 137.5h0M349.1 205.5h0M465.9 173.9h0M476.1 146.4h0M373.8 135.2h0M344.6 159.8h0M413.5 153.1h0M398.3 188.8h0M409.7 152.9h0M416.9 191.2h0M414.9 204.5h0M514.5 198.6h0M524.2 179.3h0M419.1 193.3h0M463.1 190.6h0M493.0 198.2h0M431.6 210.8h0M397.1 175.9h0M520.8 203.1h0M338.5 168.3h0M413.6 168.8h0M367.2 142.1h0M409.9 186.6h0M497.0 206.0h0M417.5 216.8h0M503.9 137.1h0M492.7 145.4h0M404.3 211.4h0M497.3 134.0h0M515.1 192.2h0M431.5 191.4h0M468.9 198.2h0M460.5 190.9h0M382.6 177.4h0M414.7 195.1h0M325.4 173.8h0M486.6 175.8h0M478.3 168.7h0M331.0 150.6h0M336.6 185.5h0M480.0 149.5h0M519.4 154.3h0M498.1 212.8h0M506.0 157.5h0M365.3 191.1h0M532.8 183.1h0M484.8 138.4h0M486.6 141.7h0M495.0 213.7h0M418.6 183.1h0M533.8 169.4h0M412.1 213.3h0M332.5 151.5h0M425.9 161.7h0M363.3 196.8h0M514.1 216.6h0M388.9 141.7h0M360.7 145.5h0M461.5 144.8h0M428.3 147.0h0M354.1 146.5h0M353.3 142.8h0M525.2 172.7h0M336.7 180.1h0M508.1 199.6h0M530.0 215.3h0M404.8 163.1h0M471.9 173.2h0M399.9 159.1h0M477.3 153.7h0M527.7 180.6h0M416.5 146.4h0M484.2 176.3h0M447.0 179.4h0M373.8 211.0h0M457.3 183.5h0M327.0 200.8h0M502.0 212.8h0M441.9 180.4h0M357.5 179.1h0M402.7 172.8h0M489.6 212.3h0M515.0 198.5h0M421.0 190.4h0M504.2 194.0h0M448.0 168.7h0M486.0 168.4h0M541.1 183.3h0M531.9 168.0h0M373.2 147.6h0M404.4 135.5h0M437.3 134.1h0M454.1 150.3h0M465.6 207.5h0M421.2 148.1h0M489.2 194.9h0M424.7 157.6h0M455.7 168.7h0M493.1 207.8h0M506.5 215.8h0M466.8 204.7h0M539.8 153.3h0M387.8 141.9h0M454.5 181.4h0M428.1 167.3h0M352.7 153.4h0M404.1 195.8h0M432.0 210.3h0M403.1 168.5h0M505.6 176.3h0M366.1 179.9h0M365.1 148.5h0M395.8 172.5h0M337.0 212.4h0M370.6 195.2h0M351.3 145.1h0M515.2 168.0h0M541.4 196.1h0M360.7 197.0h0M330.2 189.1h0M332.8 142.3h0M511.5 161.4h0M344.3 145.7h0M411.5 214.4h0M479.5 161.0h0M348.1 208.7h0M362.7 159.3h0M507.8 150.4h0M393.4 172.4h0M439.3 145.6h0M424.1 167.5h0M399.1 191.1h0M470.7 184.8h0M393.7 210.1h0M349.0 180.8h0M458.6 170.8h0M467.6 181.2h0M475.3 197.6h0M377.2 158.6h0M388.1 171.9h0M490.0 187.8h0M533.4 197.8h0M454.6 143.6h0M466.6 166.2h0M348.3 197.9h0M355.8 173.0h0M489.5 162.7h0M360.8 155.2h0M382.1 216.7h0M461.2 155.1h0M425.4 177.2h0M501.6 183.1h0M443.2 217.1h0M514.2 165.5h0M414.8 211.0h0M370.7 197.7h0M324.9 212.8h0M405.9 182.9h0M417.4 190.7h0M358.4 191.9h0M404.0 170.5h0M523.7 182.4h0M379.3 152.3h0M400.7 199.4h0M325.6 212.9h0M506.8 203.1h0M369.1 184.9h0M405.3 208.1h0M436.3 181.4h0M490.0 180.5h0M456.5 193.7h0M530.7 217.4h0M351.5 166.4h0M419.9 134.9h0M348.8 198.8h0M337.6 145.2h0M352.8 163.3h0M464.7 188.7h0M535.8 134.8h0M399.9 202.8h0M503.0 152.8h0M329.7 157.2h0M429.6 183.2h0M323.9 184.6h0M409.7 196.8h0M523.9 199.7h0M336.8 183.5h0M419.6 168.3h0M473.2 160.5h0M416.5 138.6h0M360.0 187.1h0M391.6 164.7h0M393.0 216.9h0M409.7 192.2h0M481.6 174.0h0M469.2 147.4h0M476.1 190.2h0M481.2 149.6h0M478.8 144.1h0M440.1 148.8h0M340.9 165.8h0M445.1 172.9h0M522.3 184.1h0M355.5 191.9h0M474.9 149.5h0M454.9 169.4h0M513.8 206.5h0M523.1 178.6h0M441.3 168.8h0M493.5 201.8h0M454.6 206.0h0M339.7 214.8h0M522.7 164.8h0M350.2 172.1h0M436.4 205.2h0M373.9 187.1h0M380.4 143.3h0M537.2 194.6h0M354.0 209.6h0M428.4 166.9h0M518.4 191.3h0M448.0 176.6h0M497.2 180.1h0M413.2 156.5h0M419.9 166.1h0M506.0 210.4h0M528.9 149.8h0M394.0 150.6h0M362.9 174.9h0M415.0 156.3h0M383.9 188.0h0M439.1 197.1h0M458.6 192.5h0M333.7 191.6h0M511.6 168.4h0M413.4 194.4h0M536.5 171.9h0M394.1 155.7h0M423.4 204.2h0M532.5 144.6h0M487.2 156.5h0M412.5 173.0h0M349.6 182.5h0M421.6 187.9h0M351.7 213.2h0M438.5 198.2h0M463.2 155.9h0M409.5 191.8h0M528.7 134.0h0M378.9 215.1h0M496.8 169.9h0M386.3 174.5h0M418.8 212.4h0M412.2 150.0h0M324.3 164.2h0M433.0 211.1h0M358.6 142.1h0M376.4 169.8h0M494.8 178.0h0M504.0 136.8h0M369.0 149.2h0M510.3 168.1h0M538.5 213.0h0M495.9 170.4h0M430.9 172.2h0M373.1 136.1h0M462.7 215.9h0M451.8 189.5h0M536.2 182.5h0M484.0 139.5h0M416.2 166.8h0M431.6 194.1h0M439.3 186.8h0M393.6 160.7h0M372.0 177.9h0M488.1 146.3h0M532.6 151.4h0M528.7 182.9h0M389.2 163.8h0M401.7 192.4h0M511.2 214.1h0M477.7 179.7h0M344.6 199.0h0M407.7 169.6h0M432.3 142.1h0M487.7 198.0h0M399.2 136.7h0M462.5 152.5h0M354.3 188.5h0M440.9 194.1h0M396.3 193.3h0M393.4 202.4h0M442.8 207.7h0M380.6 140.3h0M333.6 147.1h0M389.1 167.6h0M339.4 213.8h0M447.0 156.0h0M449.5 209.8h0M427.0 149.7h0M399.2 147.6h0M507.9 204.4h0M461.5 181.5h0M379.6 148.2h0M374.3 136.1h0M536.2 211.3h0M460.5 208.2h0M529.8 158.4h0M536.2 160.7h0M501.8 203.4h0M376.6 145.6h0M536.9 175.7h0M533.6 133.9h0M395.1 177.0h0M426.0 187.4h0M374.1 173.2h0M527.3 149.5h0M385.1 163.6h0M476.7 214.9h0M344.7 164.0h0M539.0 140.4h0M472.9 189.7h0M357.6 196.2h0M397.2 198.6h0M518.3 148.1h0M361.3 161.3h0M404.3 205.1h0M381.7 181.1h0M534.0 148.8h0M507.9 165.2h0M406.9 179.6h0M432.1 154.5h0M454.5 172.4h0M348.6 153.9h0M446.7 174.2h0M360.8 182.2h0M401.1 134.8h0M506.1 149.9h0M512.1 213.1h0M405.8 188.2h0M447.9 190.5h0M342.1 204.9h0M420.2 187.5h0M524.1 170.6h0M468.7 163.7h0M380.0 148.3h0M490.4 140.1h0M507.2 184.9h0M377.4 203.1h0M325.8 141.6h0M415.2 175.1h0M360.2 137.2h0M524.0 180.4h0M383.7 146.0h0M433.1 137.5h0M406.3 152.7h0M442.4 196.7h0M494.3 158.3h0M518.3 134.4h0M508.2 153.9h0M372.2 215.3h0M442.2 179.5h0M439.2 217.2h0M469.5 161.4h0M398.0 216.9h0M461.9 142.2h0M535.0 165.6h0M503.8 135.3h0M433.1 179.8h0M523.8 195.7h0M384.4 211.2h0M428.7 210.1h0M374.6 174.0h0M467.2 135.0h0M369.1 202.7h0M447.2 178.0h0M452.3 149.7h0M398.0 188.9h0M487.5 214.4h0M372.3 187.4h0M415.1 156.6h0M405.0 142.2h0M533.4 186.8h0M440.8 136.3h0M333.8 159.3h0M366.2 195.2h0M383.5 194.4h0M514.3 164.6h0M351.0 151.4h0M412.2 197.2h0M417.8 146.3h0M504.1 193.4h0M401.5 177.5h0M362.5 154.0h0M421.2 164.4h0M491.1 159.8h0M342.0 174.6h0M337.4 211.8h0M433.9 207.6h0M453.2 138.8h0M380.9 154.2h0M498.3 187.5h0M532.7 182.4h0M482.9 201.7h0M418.6 163.3h0M485.9 214.3h0M499.9 193.3h0M440.0 156.3h0M416.4 141.8h0M436.7 203.4h0M389.5 153.8h0M436.3 213.5h0M369.2 141.9h0M489.1 179.2h0M348.6 190.5h0M330.9 169.1h0M439.4 193.3h0M495.2 147.1h0M520.3 167.1h0M389.9 156.3h0M388.6 199.8h0M406.5 181.8h0M386.4 177.1h0M518.9 133.9h0M418.8 164.7h0M429.9 145.6h0M403.0 165.3h0M421.1 173.1h0M540.3 156.9h0M388.9 210.7h0M483.0 136.5h0M507.1 184.2h0M522.9 141.4h0M431.5 179.2h0M498.3 190.4h0M452.5 151.8h0M414.7 188.5h0M406.2 182.1h0M336.4 210.5h0M392.3 206.6h0M455.2 190.7h0M493.0 151.5h0M440.5 184.1h0M421.7 175.9h0M512.6 158.1h0M430.4 157.5h0M487.6 137.0h0M483.2 183.6h0M360.7 143.4h0M459.2 173.0h0M513.4 175.7h0M335.3 180.7h0M371.9 146.1h0M353.1 215.8h0M385.3 170.5h0M389.7 143.9h0M408.2 135.7h0M415.6 202.6h0M475.5 175.9h0M528.4 183.8h0M485.3 143.2h0M389.2 158.6h0M411.1 135.2h0M410.9 192.8h0M354.4 148.0h0M440.6 150.7h0M416.7 182.5h0M378.8 161.1h0M344.2 143.0h0M383.7 213.8h0M409.9 200.0h0M535.6 168.4h0M414.3 193.2h0M329.8 191.0h0M528.5 171.2h0M398.4 157.5h0M441.5 186.0h0M513.3 186.1h0M372.7 206.4h0M363.3 155.8h0M419.0 165.1h0M337.6 152.4h0M333.1 156.1h0M496.4 206.1h0M442.3 147.4h0M411.0 167.5h0M328.5 212.1h0M529.4 169.1h0M429.6 191.2h0M362.3 138.9h0M381.6 197.3h0M348.1 153.3h0M329.3 217.0h0M438.3 184.3h0M534.1 194.7h0M462.7 165.4h0M345.1 175.1h0M344.3 141.4h0M438.8 195.7h0M354.8 145.6h0M403.0 163.9h0M379.5 185.2h0M357.0 154.0h0M460.7 207.4h0M394.6 161.1h0M482.1 202.0h0M430.2 158.6h0M324.9 209.1h0M447.6 164.3h0M325.8 194.7h0M324.1 141.0h0M342.8 165.3h0M535.0 151.5h0M490.3 148.3h0M393.9 209.7h0M431.3 206.4h0M381.5 175.3h0M476.6 185.4h0M523.0 141.2h0M386.0 216.4h0M418.8 187.8h0M351.4 172.8h0M372.5 213.3h0M393.0 144.3h0M355.0 163.2h0M394.5 212.0h0M354.1 204.5h0M360.9 172.3h0M438.0 203.9h0M442.4 189.6h0M427.3 157.1h0M411.3 183.1h0M522.9 153.0h0M434.9 141.4h0M358.0 183.3h0M525.0 191.2h0M539.8 172.0h0M540.0 133.7h0M478.4 197.9h0M467.9 194.1h0M498.6 137.3h0M334.3 167.5h0M340.6 135.5h0M508.8 188.6h0M519.7 156.0h0M476.6 198.7h0M511.0 158.8h0M473.6 206.9h0M386.8 147.3h0M347.2 217.4h0M437.0 174.9h0M478.4 205.0h0M534.9 133.4h0M468.9 195.8h0M395.6 205.3h0M332.0 173.4h0M376.8 197.4h0M446.2 211.5h0M422.4 188.8h0M496.1 150.3h0M440.7 201.7h0M498.9 169.5h0M342.9 211.0h0M357.7 168.8h0M441.6 194.0h0M443.4 147.0h0M525.0 178.2h0M512.9 167.4h0M517.7 138.7h0M377.7 209.8h0M504.9 195.8h0M451.3 134.2h0M422.0 156.6h0M428.5 168.7h0M506.7 183.5h0M351.2 182.2h0M441.8 144.2h0M420.6 139.4h0M438.5 197.0h0M526.8 216.0h0M421.5 209.0h0M366.1 136.3h0M524.0 204.1h0M444.6 161.0h0M476.7 214.3h0M335.7 152.3h0M482.5 183.9h0M515.3 186.5h0M488.1 200.2h0M524.4 155.3h0M406.1 149.5h0M451.3 208.4h0M508.8 153.5h0M454.7 138.1h0M357.7 200.6h0M468.2 138.3h0M514.6 140.6h0M501.5 155.4h0M455.3 190.7h0M511.7 184.0h0M361.8 138.6h0M383.4 138.2h0M431.1 147.6h0M498.7 155.7h0M434.2 137.4h0M459.3 198.2h0M415.2 173.5h0M394.1 178.2h0M409.8 210.7h0M467.6 150.7h0M400.9 145.5h0M339.2 165.7h0M496.6 138.5h0"/>
<path stroke="#88c6e0" stroke-width="1.3" stroke-linecap="square" stroke-opacity="0.9" d="M530.3 207.4h0M464.9 217.5h0M448.5 163.7h0M338.6 196.1h0M363.2 191.9h0M426.9 206.4h0M529.8 156.9h0M467.7 215.5h0M439.5 191.5h0M353.0 204.3h0M424.3 142.7h0M352.7 166.2h0M405.5 210.9h0M502.6 163.1h0M400.2 188.3h0M409.8 156.5h0M438.1 176.8h0M352.4 147.9h0M392.4 149.3h0M473.7 141.7h0M449.0 150.2h0M438.0 213.3h0M433.6 187.8h0M371.1 215.4h0M436.3 144.9h0M371.5 170.3h0M522.6 207.9h0M474.5 213.7h0M475.7 194.4h0M487.6 211.6h0M392.8 150.8h0M458.6 186.7h0M495.1 192.0h0M538.6 193.6h0M337.2 137.2h0M494.5 153.0h0M514.5 174.5h0M367.4 150.4h0M413.8 139.9h0M342.5 143.8h0M475.9 138.3h0M410.5 201.6h0M427.7 161.7h0M523.9 177.3h0M441.8 200.8h0M533.1 182.8h0M435.7 148.0h0M448.4 205.9h0M371.0 217.0h0M477.7 195.3h0M422.9 149.8h0M467.3 217.0h0M435.7 216.1h0M407.3 143.8h0M457.9 217.7h0M479.3 153.5h0M368.8 198.7h0M464.5 144.3h0M504.6 160.9h0M324.9 164.7h0M388.5 172.8h0M394.0 175.4h0M368.7 217.9h0M388.9 167.7h0M438.5 146.9h0M374.2 145.5h0M381.7 190.5h0M427.1 142.4h0M536.0 207.1h0M410.7 138.2h0M386.7 174.7h0M505.6 178.4h0M536.3 155.5h0M392.7 199.8h0M494.3 216.8h0M526.0 192.4h0M360.3 139.0h0M350.1 172.0h0M524.5 200.7h0M466.5 167.1h0M511.2 159.0h0M489.0 143.4h0M471.5 142.8h0M390.8 158.8h0M422.0 183.7h0M531.8 217.6h0M443.0 170.6h0M496.0 190.1h0M514.9 183.5h0M485.8 210.2h0M383.5 193.9h0M527.7 205.6h0M494.0 183.7h0M541.6 161.3h0M394.8 170.5h0M450.9 140.8h0M401.0 138.8h0M343.7 146.8h0M498.9 189.4h0M443.1 139.2h0M446.0 144.2h0M537.8 172.3h0M525.3 211.4h0M401.7 148.8h0M531.5 207.5h0M492.3 138.3h0M334.6 209.9h0M374.4 184.8h0M496.1 184.6h0M423.4 170.4h0M334.9 181.9h0M375.8 165.0h0M386.4 145.8h0M431.3 196.1h0M364.6 213.2h0M376.2 146.5h0M324.1 194.9h0M337.9 138.0h0M501.6 140.8h0M448.8 179.9h0M477.6 174.0h0M340.9 163.6h0M365.3 142.3h0M337.7 163.3h0M415.8 180.3h0M491.7 201.5h0M333.9 142.0h0M446.1 205.6h0M386.5 151.4h0M482.3 182.4h0M366.4 179.9h0M325.8 191.8h0M489.3 165.2h0M406.4 178.1h0M336.6 198.5h0M378.5 180.4h0M537.5 213.3h0M527.4 208.3h0M431.3 174.3h0M484.6 141.8h0M387.7 211.0h0M504.0 170.4h0M519.5 151.2h0M468.4 213.0h0M487.4 157.7h0M397.4 174.3h0M465.3 192.8h0M504.1 137.3h0M491.1 154.8h0M501.0 174.9h0M471.2 206.8h0M477.5 209.5h0M489.9 164.9h0M342.1 196.1h0M449.9 184.3h0M409.8 157.2h0M491.7 199.5h0M376.2 209.8h0M486.4 201.0h0M434.9 160.2h0M352.3 192.8h0M392.5 171.1h0M342.9 191.6h0M353.4 149.8h0M450.9 205.6h0M384.1 196.7h0M422.1 194.4h0M498.1 193.8h0M375.3 165.3h0M360.9 198.4h0M352.3 216.4h0M449.4 155.2h0M484.3 141.7h0M510.5 201.0h0M403.5 182.0h0M423.2 195.4h0M453.6 193.6h0M440.0 155.6h0M391.7 165.7h0M401.6 161.2h0M455.7 142.6h0M325.6 217.1h0M471.7 142.8h0M335.1 174.3h0M536.8 184.2h0M370.1 204.2h0M478.5 166.3h0M514.6 185.9h0M539.2 195.4h0M425.1 215.0h0M499.4 157.4h0M346.9 165.2h0M528.5 142.8h0M379.0 180.1h0M393.6 197.4h0M349.6 165.1h0M521.9 177.2h0M492.0 190.6h0M452.0 204.9h0M362.8 148.8h0M455.7 165.1h0M402.5 155.8h0M396.5 163.7h0M457.3 207.3h0M520.8 212.4h0M472.7 144.4h0M540.3 170.3h0M342.4 184.7h0M461.7 194.5h0M347.3 159.0h0M398.1 192.7h0M413.9 187.6h0M518.9 201.3h0M387.8 206.8h0M362.3 212.7h0M460.2 173.8h0M403.1 145.5h0M460.3 168.3h0M425.5 213.7h0M392.2 169.7h0M359.3 150.1h0M467.4 187.0h0M442.4 190.4h0M374.6 216.0h0M323.9 186.6h0M375.3 198.5h0M474.2 198.4h0M364.7 165.8h0M454.9 162.1h0M444.6 217.6h0M360.5 145.8h0M480.8 138.2h0M510.6 138.6h0M453.3 172.7h0M487.9 165.4h0M517.6 216.8h0M384.0 141.1h0M376.5 142.1h0M450.6 147.1h0M484.2 204.2h0M352.5 158.5h0M514.2 154.2h0M384.8 142.0h0M431.1 150.1h0M395.0 154.6h0M541.0 212.6h0M438.1 179.8h0M452.8 187.6h0M530.4 198.1h0M344.4 203.3h0M394.1 214.6h0M520.2 182.8h0M497.6 174.2h0M501.5 185.0h0M450.1 152.1h0M403.9 192.4h0M395.6 184.5h0M458.8 207.9h0M464.4 197.1h0M329.3 208.5h0M381.0 181.4h0M355.9 178.0h0M516.5 212.4h0M339.9 214.3h0M368.6 140.6h0M401.4 146.4h0M377.0 205.7h0M482.3 143.4h0M412.4 175.4h0M493.5 152.8h0M358.5 135.9h0M329.9 161.7h0M349.2 171.1h0M483.3 190.0h0M452.0 148.6h0M431.1 169.7h0M343.6 145.4h0M430.9 144.8h0M346.0 163.7h0M379.7 170.1h0M433.1 139.8h0M421.1 162.7h0M400.1 200.8h0M351.7 187.9h0M327.8 144.7h0M410.1 181.9h0M391.0 189.9h0M444.1 184.6h0M522.3 200.0h0M460.9 153.2h0M393.7 160.5h0M401.7 153.3h0M405.3 144.7h0M328.5 194.6h0M367.7 167.7h0M497.5 187.1h0M385.8 215.1h0M492.1 168.6h0M528.7 213.1h0M327.8 154.7h0M503.7 212.2h0M483.9 210.4h0M512.4 160.7h0M438.8 181.3h0M461.3 167.3h0M420.1 173.4h0M435.8 217.2h0M471.4 154.2h0M343.7 143.1h0M534.3 163.9h0M333.5 150.7h0M507.7 191.0h0M363.8 204.9h0M520.9 157.6h0M423.1 136.7h0M519.2 148.8h0M429.8 181.4h0M404.4 217.3h0M498.3 160.4h0M497.8 155.2h0M435.1 199.6h0M455.0 167.2h0M451.8 202.3h0M427.5 167.3h0M510.2 192.8h0M495.0 141.9h0M531.3 168.9h0M473.9 155.5h0M369.0 145.3h0M512.6 206.6h0M349.8 164.8h0M363.0 180.8h0M366.3 148.0h0M395.8 184.9h0M414.9 156.3h0M337.5 197.0h0M466.8 195.5h0M350.1 165.8h0M503.7 182.0h0M455.9 209.4h0M459.4 182.4h0M469.2 138.1h0M385.2 208.8h0M350.5 175.2h0M453.6 175.3h0M506.8 170.5h0M510.8 153.8h0M431.3 204.4h0M389.1 183.3h0M361.9 162.7h0M408.7 171.5h0M470.9 176.9h0M521.2 159.2h0M417.5 214.3h0M379.5 178.0h0M454.2 181.4h0M446.3 165.0h0M462.7 154.9h0M457.5 148.3h0M540.1 160.8h0M373.8 176.6h0M530.7 147.3h0M345.3 152.7h0M452.2 207.8h0M533.8 162.0h0M450.8 188.9h0M343.8 184.3h0M347.5 170.3h0M525.5 158.3h0M495.3 212.5h0M342.1 208.7h0M508.1 210.0h0M358.1 167.7h0M342.1 148.6h0M533.0 181.1h0M522.0 144.2h0M372.0 209.0h0M520.6 191.4h0M327.8 166.8h0M524.2 154.5h0M326.2 199.7h0M524.1 138.8h0M472.9 153.0h0M376.1 214.3h0M407.3 175.7h0M408.2 216.7h0M418.6 180.0h0M456.3 150.1h0M368.4 212.1h0M390.8 153.9h0M390.9 203.7h0M424.5 212.6h0M436.2 153.5h0M516.2 156.0h0M440.3 150.9h0M435.6 156.4h0M375.0 167.1h0M474.3 160.3h0M421.5 159.7h0M436.6 169.8h0M391.1 199.3h0M450.9 195.9h0M521.4 193.0h0M355.0 141.8h0M505.7 194.2h0M473.3 136.4h0M449.7 162.9h0M487.2 212.6h0M345.6 207.7h0M478.8 189.8h0M331.5 176.4h0M483.0 203.3h0M338.0 166.4h0M468.2 139.6h0M489.9 177.3h0M382.2 180.2h0M436.3 185.1h0M445.5 174.4h0M538.6 167.8h0M388.2 182.0h0M379.1 208.4h0M526.3 186.1h0M414.6 189.9h0M536.5 135.3h0M483.4 169.3h0M525.8 160.6h0M340.6 146.4h0M393.9 210.1h0M423.8 196.4h0M341.5 136.1h0M401.8 165.0h0M361.4 146.1h0M482.0 181.9h0M349.5 153.0h0M398.7 184.5h0M453.6 140.9h0M487.7 191.7h0M536.4 174.2h0M482.1 157.1h0M528.0 199.4h0M524.7 173.2h0M523.7 148.5h0M506.7 217.6h0M503.9 169.1h0M410.9 203.9h0M355.2 208.8h0M351.7 192.0h0M487.6 194.5h0M345.3 214.7h0M452.8 139.4h0M363.3 172.4h0M363.4 165.6h0M381.5 160.4h0M371.0 152.4h0M529.1 153.4h0M430.6 203.0h0M434.4 203.1h0M464.3 212.2h0M448.7 166.0h0M399.2 148.8h0M415.6 163.0h0M501.8 182.4h0M430.4 212.1h0M331.4 160.2h0M462.4 215.8h0M416.3 140.5h0M368.7 197.3h0M475.9 163.6h0M375.6 212.5h0M334.3 165.7h0M346.6 138.7h0M337.5 198.9h0M450.7 202.6h0M417.6 187.4h0M340.7 137.9h0M526.5 147.1h0M404.0 203.6h0M368.5 139.8h0M438.1 183.3h0M397.6 134.3h0M326.3 134.3h0M440.6 171.9h0M343.1 198.4h0M354.7 160.6h0M405.0 166.6h0M336.0 155.3h0M332.4 194.1h0M518.4 167.5h0M513.7 141.9h0M501.9 133.6h0M495.1 214.1h0M380.0 190.9h0M420.0 134.8h0M373.6 195.3h0M354.5 144.5h0M510.7 196.3h0M427.5 189.6h0M447.6 178.9h0M455.6 144.3h0M355.2 171.6h0M534.6 135.4h0M533.8 137.3h0M369.1 144.2h0M437.9 188.1h0M401.1 208.9h0M478.6 170.6h0M487.4 143.2h0M518.9 192.5h0M358.0 138.8h0M509.0 187.2h0M412.0 192.0h0M534.4 193.2h0M421.7 216.5h0M349.8 185.4h0M419.1 181.2h0M460.2 172.2h0M466.4 197.0h0M431.2 194.6h0M338.7 198.7h0M432.9 157.4h0M407.0 175.4h0M537.4 143.2h0M396.9 201.0h0M531.0 209.6h0M463.8 137.5h0M471.3 207.1h0M368.3 181.0h0M534.9 174.7h0M351.6 165.0h0M324.7 151.7h0M381.9 182.2h0M420.9 144.1h0M376.5 213.3h0M361.3 178.8h0M373.2 139.8h0M455.4 196.1h0M345.5 165.3h0M470.9 137.8h0M477.1 173.4h0M433.8 198.7h0M378.1 152.2h0M460.4 198.3h0M478.7 147.2h0M406.6 192.6h0M341.8 181.8h0M355.1 182.6h0M368.6 172.6h0M460.3 165.7h0M384.5 157.6h0M524.0 168.5h0M515.3 183.1h0M468.7 174.2h0M366.7 158.4h0M451.1 159.8h0M433.9 164.9h0M334.0 197.0h0M400.3 189.4h0M505.8 197.8h0M499.5 169.1h0M333.3 201.6h0M422.6 194.0h0M389.0 201.6h0M400.7 195.5h0M498.9 208.5h0M446.1 191.8h0M391.3 190.7h0M409.5 208.7h0M391.2 153.8h0M387.9 216.0h0M459.7 194.8h0M379.4 144.2h0M411.8 194.5h0M371.3 167.3h0M347.4 189.3h0M515.1 150.3h0M480.9 173.3h0M494.7 134.6h0M358.4 179.5h0M457.9 216.5h0M517.6 161.4h0M506.3 171.2h0M383.4 168.5h0M429.0 201.9h0M417.8 156.4h0M402.9 183.3h0M359.4 164.6h0M344.1 143.9h0M459.5 213.4h0M535.8 179.0h0M529.7 139.0h0M438.5 193.2h0M329.9 162.2h0M444.9 156.9h0M485.5 149.2h0M511.5 134.2h0M328.1 192.2h0M527.3 214.9h0M332.1 178.6h0M516.9 189.1h0M407.4 181.8h0M427.3 193.0h0M532.1 134.7h0M456.4 156.3h0M394.6 213.8h0M449.1 183.8h0M486.6 217.1h0M518.5 169.7h0M326.6 202.6h0M333.0 141.3h0M472.5 191.5h0M451.4 205.2h0M488.5 151.0h0M456.1 134.8h0M415.6 139.6h0M525.8 211.4h0M342.9 209.4h0M505.6 195.9h0M382.9 168.4h0M444.7 208.5h0M471.1 158.4h0M416.2 140.4h0M391.9 215.5h0M443.3 160.8h0M471.9 211.4h0M471.5 165.1h0M352.0 198.0h0M417.7 160.5h0M361.4 156.4h0M412.0 154.1h0M487.8 194.0h0M404.5 157.0h0M450.0 133.4h0M438.5 211.5h0M499.0 198.2h0M490.3 183.2h0M395.0 146.0h0M371.8 202.9h0M521.4 183.5h0M404.5 138.6h0M425.5 202.0h0M416.7 201.8h0M349.4 159.4h0M362.2 167.9h0M529.1 147.5h0M502.3 198.2h0M489.1 212.3h0M350.8 202.5h0M423.5 199.1h0M474.7 193.7h0M337.2 206.9h0M499.6 205.1h0M467.6 212.8h0M379.9 169.7h0M506.0 145.1h0M362.9 140.0h0M359.7 160.0h0M490.3 183.7h0M406.6 150.0h0M491.4 178.7h0M397.7 181.1h0M531.9 203.3h0M496.0 177.6h0M451.5 179.7h0M377.6 190.7h0M460.6 136.3h0M492.7 150.1h0M522.7 176.6h0M515.9 212.8h0M432.0 169.8h0M419.6 192.0h0M457.3 158.4h0M535.2 176.7h0M324.5 141.8h0M407.0 199.6h0M444.5 207.9h0M345.9 210.8h0M356.9 162.9h0M465.5 182.1h0M397.7 148.1h0M512.4 168.6h0M407.8 136.4h0M519.2 196.3h0M359.9 205.2h0M392.0 173.7h0M522.4 207.4h0M424.2 188.9h0M497.7 178.9h0M478.0 142.2h0M338.0 153.6h0M334.6 189.3h0M522.0 198.9h0M522.9 152.8h0M325.1 175.2h0M417.3 138.9h0M374.1 199.8h0M496.0 191.6h0M430.9 134.1h0M537.1 150.4h0M514.6 163.1h0M382.1 179.9h0M443.9 182.4h0M525.4 158.8h0M454.5 183.0h0M385.4 157.0h0M331.0 206.2h0M410.9 158.2h0M341.2 190.2h0M464.6 192.8h0M371.6 211.5h0M359.9 211.1h0M421.6 138.8h0M465.6 148.5h0M484.5 198.2h0M446.0 153.7h0M365.9 206.5h0M359.5 159.1h0M540.4 178.4h0M443.9 185.4h0M435.2 138.1h0M357.6 166.4h0M412.9 168.8h0M354.6 160.2h0M337.7 217.3h0M520.4 137.0h0M388.6 139.7h0M486.0 138.7h0M497.5 164.7h0M521.0 187.9h0M422.5 158.3h0M452.8 158.8h0M449.5 196.9h0M455.7 147.9h0M476.4 137.2h0M530.2 157.9h0M467.4 200.7h0M522.0 172.7h0M500.1 207.4h0M429.7 183.7h0M328.8 197.7h0M464.4 173.8h0M399.7 198.1h0M408.3 169.1h0M376.5 165.9h0M453.2 209.9h0M497.3 183.7h0M426.8 211.0h0M453.8 140.4h0M470.0 190.1h0M380.0 217.7h0M540.1 150.4h0M536.6 148.8h0M329.2 159.1h0M418.8 215.1h0M470.0 169.0h0M515.2 209.5h0M331.3 196.0h0M437.2 186.4h0M380.2 137.1h0M519.8 159.9h0M514.2 191.8h0M536.4 204.9h0M455.6 133.7h0M494.0 206.3h0M358.4 179.3h0M534.7 203.5h0M402.9 210.1h0M475.5 199.4h0M376.4 148.9h0M392.0 143.1h0M392.7 171.7h0M483.9 150.8h0M400.1 210.1h0M468.5 204.5h0M455.6 153.6h0M527.0 199.0h0M360.0 190.3h0M496.3 148.9h0M434.5 136.3h0M484.9 199.9h0M325.5 208.7h0M509.1 171.3h0M440.9 178.4h0M419.3 171.5h0M423.1 192.4h0M395.8 181.6h0M328.7 183.7h0M427.9 140.7h0M329.8 156.8h0M481.8 163.3h0M497.3 163.4h0M482.4 209.6h0M533.5 149.0h0M335.3 205.2h0M330.7 213.5h0M343.2 177.9h0M494.3 188.4h0M471.8 151.5h0M389.4 211.2h0M449.4 167.0h0M493.4 176.5h0M518.3 177.1h0M382.0 181.2h0M410.6 205.5h0M409.6 163.0h0M474.8 212.1h0M414.7 152.4h0M496.9 207.4h0M479.9 195.4h0M426.5 194.0h0M326.5 175.7h0M418.0 164.9h0M451.4 134.4h0M328.1 184.7h0M384.5 147.1h0M522.1 142.7h0M402.4 176.8h0M392.9 176.3h0M527.1 202.7h0M447.4 165.0h0M343.8 162.3h0M369.8 172.6h0M440.8 195.0h0M490.0 147.3h0M330.3 168.6h0M364.2 201.1h0M388.1 144.4h0M517.8 206.9h0M499.4 178.6h0M529.3 181.7h0M347.6 197.0h0M506.9 155.6h0M439.5 151.1h0M432.5 164.2h0"/>
<path stroke="#2e94c4" stroke-width="1.3" stroke-linecap="square" stroke-opacity="0.9" d="M508.6 302.9h0M329.3 287.0h0M540.7 294.7h0M519.7 264.8h0M326.2 318.5h0M341.2 288.7h0M537.3 334.6h0M377.7 295.8h0M525.8 289.4h0M483.4 318.3h0M529.0 317.6h0M498.7 263.2h0M490.3 299.1h0M481.0 326.3h0M364.7 288.8h0M504.8 290.8h0M438.0 259.8h0M393.4 283.9h0M443.4 279.3h0M474.2 272.4h0M465.6 314.1h0M535.3 306.2h0M457.7 284.3h0M472.2 265.6h0M398.3 324.7h0M486.9 277.9h0M451.2 313.0h0M480.5 328.2h0M501.2 318.5h0M401.6 294.3h0M444.8 318.5h0M511.6 272.8h0M535.2 291.6h0M521.6 327.3h0M391.3 266.6h0M512.3 340.5h0M452.6 301.8h0M535.2 273.1h0M484.2 276.4h0M522.4 297.0h0M507.9 287.0h0M358.7 341.0h0M355.8 273.0h0M435.7 325.2h0M523.8 332.2h0M432.9 315.7h0M351.8 328.9h0M384.4 289.5h0M369.8 341.4h0M523.4 314.2h0M432.4 275.5h0M465.9 266.9h0M463.4 315.0h0M478.3 312.1h0M362.7 315.9h0M433.3 288.3h0M441.8 272.3h0M455.9 338.2h0M432.6 277.5h0M384.0 288.0h0M537.9 278.8h0M540.2 263.6h0M498.8 307.8h0M404.0 309.8h0M464.6 324.2h0M523.0 304.6h0M508.2 276.3h0M383.5 263.5h0M348.4 275.3h0M374.5 333.6h0M472.7 315.7h0M388.9 320.5h0M540.3 279.2h0M418.7 305.2h0M484.4 337.9h0M504.1 304.7h0M435.3 297.8h0M392.5 267.7h0M483.7 274.9h0M465.1 266.2h0M404.9 267.8h0M330.3 269.5h0M472.7 278.9h0M510.7 287.6h0M438.1 300.0h0M451.6 282.6h0M435.9 281.2h0M415.8 292.8h0M393.3 287.8h0M343.7 315.5h0M376.4 308.9h0M422.3 282.1h0M485.2 308.9h0M504.1 278.0h0M535.6 296.3h0M490.7 334.6h0M440.0 314.1h0M392.8 303.5h0M485.1 273.2h0M333.9 295.7h0M367.0 303.9h0M389.2 304.8h0M332.3 295.8h0M441.8 317.3h0M332.5 295.5h0M509.5 279.2h0M400.4 272.5h0M512.3 286.6h0M416.8 303.0h0M443.5 307.6h0M348.3 319.7h0M514.9 263.6h0M343.6 292.2h0M341.3 261.1h0M490.9 329.3h0M328.6 267.4h0M402.4 315.7h0M362.1 309.0h0M408.4 314.0h0M433.7 332.8h0M526.5 278.2h0M468.7 266.4h0M436.5 317.8h0M425.8 336.1h0M430.7 258.2h0M397.8 341.0h0M541.4 306.9h0M489.5 317.0h0M523.4 298.2h0M384.8 280.6h0M412.6 258.1h0M514.9 294.1h0M441.3 323.3h0M421.0 268.5h0M473.7 260.6h0M385.8 268.6h0M416.9 305.0h0M532.9 259.9h0M374.5 285.2h0M497.0 270.3h0M489.7 308.4h0M502.3 320.7h0M535.6 325.0h0M516.8 261.5h0M484.6 258.8h0M501.7 289.6h0M517.0 295.0h0M350.9 304.2h0M537.8 291.4h0M484.5 293.7h0M424.4 281.0h0M329.0 261.3h0M384.0 275.7h0M424.3 278.4h0M481.9 270.6h0M398.7 289.3h0M523.9 275.6h0M486.8 303.3h0M520.6 261.6h0M363.4 297.9h0M390.5 319.4h0M469.5 278.5h0M534.1 292.6h0M339.1 308.2h0M357.8 311.0h0M341.2 318.6h0M388.8 282.3h0M466.7 314.4h0M523.7 294.1h0M431.5 323.1h0M401.4 327.0h0M500.3 323.1h0M510.1 294.5h0M475.4 302.4h0M343.8 264.6h0M371.4 310.3h0M509.2 292.2h0M488.6 259.1h0M435.1 289.9h0M401.8 296.6h0M538.9 330.3h0M342.9 287.9h0M513.5 272.0h0M362.1 303.8h0M525.7 265.8h0M521.3 279.7h0M495.2 284.0h0M441.1 297.5h0M403.0 273.1h0M463.5 335.9h0M468.2 269.3h0M402.2 341.9h0M537.2 260.2h0M494.5 298.6h0M457.2 333.5h0M448.2 285.9h0M535.5 273.6h0M539.0 297.8h0M436.4 260.0h0M350.4 329.3h0M417.4 308.1h0M368.8 338.2h0M501.3 273.1h0M360.6 334.0h0M489.4 285.0h0M426.2 259.2h0M475.6 286.5h0M515.7 285.7h0M479.5 332.9h0M428.1 272.1h0M458.4 307.3h0M350.9 306.1h0M457.2 283.1h0M485.6 288.7h0M504.4 275.1h0M515.4 286.8h0M492.9 263.2h0M494.9 259.0h0M524.6 259.1h0M536.7 260.4h0M416.6 334.2h0M400.0 313.9h0M407.3 300.1h0M495.8 295.1h0M483.8 272.0h0M379.8 309.4h0M427.0 289.1h0M530.8 264.5h0M413.8 290.4h0M532.2 269.1h0M368.4 279.8h0M438.0 304.3h0M399.4 326.2h0M528.1 316.6h0M370.1 301.9h0M347.8 277.5h0M476.6 336.8h0M411.7 321.4h0M537.1 281.2h0M414.1 277.7h0M377.4 297.4h0M344.1 311.6h0M485.2 332.5h0M500.7 336.6h0M477.2 338.0h0M530.0 309.8h0M377.6 267.5h0M499.5 331.8h0M450.0 265.6h0M508.6 263.3h0M529.4 278.7h0M477.5 257.7h0M406.4 283.5h0M477.9 280.6h0M350.8 313.0h0M362.5 297.9h0M394.3 288.2h0M347.9 338.8h0M444.7 315.2h0M436.2 259.7h0M514.3 269.1h0M325.4 317.9h0M391.4 289.9h0M497.4 292.9h0M469.6 265.3h0M519.4 288.2h0M467.7 261.2h0M351.2 327.2h0M462.0 270.5h0M429.6 309.2h0M463.7 282.3h0M419.3 323.2h0M458.2 315.4h0M492.5 298.4h0M472.0 265.7h0M463.5 269.9h0M354.8 266.3h0M527.0 264.1h0M415.2 295.0h0M445.4 315.6h0M512.1 274.2h0M519.8 274.0h0M516.1 309.1h0M427.8 282.2h0M498.5 303.7h0M374.3 314.6h0M501.6 286.5h0M458.7 271.2h0M350.6 322.1h0M397.0 294.0h0M512.4 258.4h0M483.2 327.2h0M453.2 340.5h0M358.9 284.4h0M513.2 270.3h0M529.8 309.9h0M473.7 278.3h0M466.5 331.1h0M480.2 325.3h0M469.6 312.3h0M438.0 265.0h0M526.9 303.4h0M463.7 286.2h0M487.8 282.1h0M508.7 271.9h0M511.6 324.7h0M484.4 277.2h0M420.1 317.2h0M402.1 295.5h0M350.1 334.8h0M530.3 298.5h0M427.9 323.5h0M484.4 288.5h0M514.0 302.3h0M502.2 272.1h0M457.5 270.0h0M519.0 265.6h0M522.3 302.7h0M441.3 305.8h0M327.7 311.6h0M366.9 274.2h0M467.2 262.9h0M349.7 339.9h0M531.5 272.5h0M436.9 274.3h0M421.2 276.6h0M498.8 258.0h0M329.8 334.1h0M513.7 277.0h0M430.9 300.6h0M465.2 326.9h0M536.0 287.6h0M417.2 334.9h0M464.1 263.7h0M445.2 333.6h0M401.4 326.2h0M400.8 284.5h0M355.1 298.7h0M371.8 282.6h0M464.2 294.5h0M445.1 293.6h0M495.8 272.0h0M487.1 260.5h0M515.3 313.4h0M448.6 294.1h0M451.4 269.1h0M473.6 274.1h0M465.4 277.6h0M514.7 268.9h0M477.0 282.0h0M405.4 269.5h0M518.0 296.1h0M506.2 330.6h0M540.1 314.3h0M509.7 285.5h0M528.7 271.0h0M328.7 331.6h0M538.1 306.8h0M484.6 268.7h0M407.3 290.7h0M416.9 298.9h0M400.1 307.2h0M363.6 279.3h0M328.1 287.4h0M332.9 315.2h0M447.0 315.1h0M368.7 279.8h0M518.5 295.7h0M427.6 338.0h0M437.9 332.5h0M528.8 260.5h0M495.4 333.8h0M365.9 293.0h0M510.9 317.8h0M398.3 276.9h0M512.1 303.9h0M404.4 287.3h0M419.9 306.9h0M450.2 296.2h0M520.9 267.2h0M408.5 307.3h0M447.5 299.2h0M423.5 259.9h0M510.1 271.4h0M527.7 300.7h0M352.9 280.7h0M530.4 278.2h0M347.4 330.4h0M513.4 278.6h0M370.2 307.5h0M518.3 263.0h0M426.1 305.9h0M503.8 268.7h0M454.9 296.2h0M384.7 332.4h0M342.3 284.6h0M405.1 303.4h0M493.3 302.6h0M535.1 318.1h0M423.9 291.4h0M488.7 333.4h0M361.6 325.9h0M390.5 315.3h0M430.1 333.7h0M379.8 267.3h0M475.7 265.5h0M438.4 305.4h0M443.8 337.1h0M484.6 334.5h0M325.8 324.1h0M349.3 313.6h0M439.5 333.2h0M444.4 274.4h0M434.9 263.4h0M436.9 308.0h0M433.3 268.8h0M461.8 271.7h0M449.9 260.0h0M398.5 258.6h0M453.0 295.0h0M515.6 326.5h0M344.2 320.8h0M337.1 259.8h0M528.6 294.7h0M463.7 266.3h0M449.2 266.7h0M535.8 300.2h0M359.4 291.4h0M403.3 325.3h0M328.2 337.8h0M422.8 320.0h0M353.9 318.5h0M435.5 289.2h0M432.5 320.3h0M503.2 272.5h0M328.3 265.3h0M501.8 286.4h0M377.2 339.7h0M457.4 315.0h0M451.8 298.6h0M507.8 283.8h0M537.3 300.0h0M415.6 320.9h0M407.2 268.5h0M531.1 287.1h0M349.1 316.6h0M449.2 306.6h0M502.9 263.7h0M445.8 305.1h0M431.8 300.9h0M405.0 329.9h0M426.9 279.0h0M474.7 301.4h0M344.8 320.0h0M369.9 268.7h0M529.9 340.9h0M496.6 321.5h0M538.0 293.8h0M521.5 313.7h0M537.5 296.1h0M537.6 292.4h0M437.0 275.2h0M499.9 310.3h0M466.5 327.2h0M479.8 320.2h0M430.0 284.5h0M519.4 338.6h0M475.6 283.7h0M430.3 287.0h0M331.8 286.1h0M377.9 297.6h0M454.5 272.5h0M459.0 288.3h0M457.2 275.6h0M527.4 279.7h0M343.3 323.1h0M471.2 276.8h0M465.7 331.1h0M460.4 326.2h0M452.0 281.2h0M498.6 269.5h0M381.4 262.8h0M429.7 292.1h0M518.3 316.7h0M475.5 323.2h0M397.3 263.4h0M419.5 279.1h0M408.9 269.4h0M432.2 287.9h0M501.9 276.5h0M359.8 335.8h0M532.9 322.8h0M410.5 262.0h0M499.2 269.8h0M481.2 319.1h0M500.4 270.7h0M357.6 308.9h0M454.3 262.0h0M520.2 274.9h0M372.3 327.5h0M535.3 295.9h0M492.3 267.4h0M476.3 267.9h0M522.4 307.8h0M328.9 291.7h0M453.2 278.1h0M492.6 292.1h0M335.3 322.5h0M505.4 305.0h0M445.1 271.7h0M522.9 280.0h0M410.9 337.1h0M444.7 264.6h0M529.3 301.4h0M467.3 263.3h0M340.7 302.3h0M412.6 308.2h0M428.9 307.9h0M416.8 299.0h0M395.8 339.5h0M409.3 278.6h0M447.7 312.1h0M486.2 330.7h0M374.2 330.8h0M508.7 336.0h0M413.4 317.3h0M519.8 259.5h0M529.5 320.5h0M385.2 274.9h0M446.0 316.2h0M428.1 305.8h0M502.3 281.5h0M493.0 268.8h0M438.4 300.9h0M441.0 310.2h0M461.6 292.0h0M363.1 329.6h0M414.4 308.2h0M506.2 321.4h0M393.8 318.6h0M460.1 284.4h0M509.0 293.5h0M475.3 304.4h0M325.1 300.7h0M359.1 339.7h0M416.8 259.8h0M449.0 287.2h0M509.0 330.5h0M496.6 323.9h0M368.4 285.5h0M405.7 300.4h0M448.3 322.8h0M436.6 299.7h0M353.1 259.7h0M408.5 310.6h0M339.8 331.5h0M397.5 262.2h0M430.9 265.2h0M510.5 294.2h0M337.5 294.4h0M400.8 290.5h0M481.6 277.3h0M506.6 333.0h0M486.0 300.3h0M456.1 324.8h0M503.2 257.6h0M517.2 329.0h0M328.6 341.5h0M366.2 268.8h0M524.0 301.6h0M500.4 331.4h0M500.8 284.9h0M406.7 283.1h0M520.1 315.1h0M487.3 319.1h0M500.2 270.2h0M324.4 318.6h0M422.9 313.5h0M414.6 337.2h0M506.2 304.7h0M337.3 293.3h0M500.5 324.2h0M493.2 318.5h0M487.1 260.9h0M521.0 290.3h0M383.0 258.5h0M473.7 318.5h0M378.5 329.1h0M508.2 321.4h0M335.8 322.7h0M375.8 305.7h0M409.5 317.4h0M406.3 261.2h0M486.1 322.2h0M376.7 258.2h0M433.5 330.6h0M478.6 333.4h0M499.5 341.3h0M509.9 295.8h0M329.8 278.5h0M500.4 301.5h0M379.4 260.2h0M478.1 275.2h0M443.8 334.8h0M534.2 303.6h0M505.9 325.8h0M375.1 279.1h0M455.0 301.4h0M441.4 329.2h0M442.5 296.1h0M379.6 270.5h0M419.7 301.2h0M443.7 278.6h0M537.5 340.4h0M461.6 316.2h0M419.8 272.9h0M498.3 259.8h0M483.1 337.4h0M470.0 280.3h0M453.9 296.8h0M390.3 307.3h0M451.3 269.2h0M361.3 330.5h0M451.5 263.2h0M437.3 302.4h0M336.6 286.6h0M534.6 322.5h0M371.2 331.5h0M395.0 328.5h0M345.7 285.7h0M526.4 258.2h0M441.7 269.9h0M424.8 299.2h0M389.9 273.8h0M466.2 303.9h0M481.2 287.7h0M503.5 267.0h0M326.4 276.0h0M402.9 317.5h0M465.5 277.1h0M514.8 285.5h0M480.6 322.4h0M454.9 286.0h0M390.3 293.9h0M419.4 295.6h0M402.9 316.3h0M423.1 322.1h0M428.4 279.8h0M526.6 281.4h0M515.5 329.9h0M472.6 297.7h0M426.6 304.6h0M535.0 315.4h0M342.8 320.1h0M528.9 265.6h0M430.6 303.9h0M385.5 287.2h0M476.3 293.8h0M339.9 262.2h0M352.7 291.5h0M503.5 280.5h0M513.9 309.1h0M482.8 320.3h0M451.1 270.2h0M404.3 314.4h0M441.0 270.4h0M479.6 294.3h0M461.3 314.0h0M517.8 274.8h0M324.9 270.7h0M497.3 315.1h0M514.0 302.1h0M537.7 342.1h0M461.7 265.5h0M435.2 266.2h0M507.4 310.6h0M429.6 288.3h0M403.6 278.8h0M483.7 267.4h0M481.0 288.8h0M459.5 272.7h0M328.9 299.5h0M402.3 260.2h0M326.4 314.5h0M521.9 307.8h0M471.3 300.5h0M471.6 284.5h0M463.6 325.5h0M390.3 338.4h0M526.7 280.4h0M510.4 319.9h0M451.5 296.2h0M525.3 269.1h0M484.1 311.4h0M389.0 336.4h0M339.9 274.7h0M326.7 324.0h0M461.0 294.5h0M355.9 332.2h0M457.7 275.7h0M350.0 332.3h0M413.4 279.7h0M424.7 327.9h0M416.2 312.9h0M453.4 306.6h0M455.8 259.2h0M472.3 274.6h0M419.4 314.5h0M460.9 271.3h0M478.6 278.3h0M489.3 332.2h0M386.8 273.1h0M502.4 310.1h0M525.8 296.8h0M409.0 285.2h0M430.2 296.3h0M519.7 311.3h0M505.2 289.4h0M340.9 321.4h0M379.1 266.2h0M490.3 289.4h0M432.9 274.3h0M449.8 268.7h0M330.9 287.7h0M366.7 300.2h0M518.9 313.4h0M461.7 293.0h0M400.3 274.4h0M434.4 338.4h0M512.1 294.8h0M426.0 309.7h0M338.6 318.1h0M512.8 282.7h0M445.1 287.7h0M345.8 259.1h0M534.3 294.7h0M431.0 265.1h0M387.0 282.9h0M536.6 311.9h0M511.0 319.3h0M435.3 302.4h0M536.5 277.0h0M357.0 315.5h0M431.2 291.7h0M493.4 297.3h0M361.6 285.6h0M380.9 265.5h0M540.9 288.9h0M380.8 295.4h0M404.5 298.9h0M443.4 336.4h0M539.0 287.2h0M377.4 320.2h0M417.7 307.9h0M527.5 340.9h0M415.8 265.3h0M537.0 264.5h0M449.2 274.0h0M369.3 274.8h0M511.5 259.9h0M375.1 307.1h0M506.6 316.9h0M517.5 258.5h0M480.2 273.5h0M459.4 329.8h0M420.9 287.1h0M484.0 300.3h0M518.1 279.7h0M441.2 288.0h0M532.6 284.1h0M471.6 278.3h0M349.1 341.3h0M485.5 326.8h0M515.6 339.4h0M433.9 313.3h0M491.4 295.3h0M388.5 261.7h0M507.6 291.4h0M383.2 288.4h0M475.7 272.8h0M361.2 297.4h0M452.4 271.5h0M390.5 288.2h0M500.9 284.5h0M393.4 288.7h0M485.7 311.4h0M434.3 306.9h0M358.2 279.1h0M501.0 261.7h0M484.1 304.6h0M527.8 288.6h0M526.6 280.4h0M499.8 310.0h0M477.4 318.5h0M492.7 324.7h0M415.0 258.1h0M465.1 258.3h0M470.4 285.6h0M339.6 266.6h0M511.6 288.6h0M519.9 330.0h0M327.7 311.6h0M471.7 269.5h0M490.3 308.1h0M395.7 305.7h0M441.3 279.3h0M453.0 261.8h0M497.3 329.6h0M441.6 282.2h0M486.6 258.7h0M529.7 281.6h0M388.3 329.4h0M438.9 266.6h0M332.3 318.3h0M532.6 309.6h0M452.4 263.7h0M491.4 299.4h0M352.6 282.1h0M468.0 278.8h0M476.0 303.5h0M522.7 278.7h0M449.5 324.0h0M430.3 268.3h0M328.6 269.2h0M404.2 273.7h0M458.6 271.9h0M439.1 319.7h0M475.7 262.1h0M442.0 285.9h0M417.1 269.5h0M475.2 284.8h0M449.0 319.2h0M390.5 280.5h0M516.9 276.3h0M491.0 314.5h0M367.9 334.6h0M443.0 327.5h0M470.3 262.8h0M470.4 257.7h0M540.3 283.9h0M525.5 293.3h0M337.5 306.1h0M474.8 279.8h0M380.6 337.7h0M448.2 281.3h0M474.4 283.4h0M359.9 332.8h0M466.3 259.6h0M538.5 280.5h0M530.1 306.5h0M465.2 271.1h0M364.0 294.6h0M402.8 276.8h0M398.5 262.3h0M532.6 300.4h0M502.4 275.0h0M536.8 332.0h0M429.9 275.2h0M344.4 285.7h0M489.6 312.0h0M357.0 283.1h0M516.5 329.0h0M419.9 284.7h0M426.6 307.8h0M384.7 304.2h0M463.8 266.0h0M463.9 286.4h0M481.6 273.6h0M344.2 318.1h0M506.5 327.4h0M339.4 311.5h0M513.6 305.2h0M397.5 275.1h0M385.2 266.9h0M466.3 318.4h0M513.2 314.9h0M512.8 268.4h0M494.3 339.7h0M524.5 313.2h0M436.2 310.8h0M441.0 260.5h0M496.1 290.5h0M352.2 309.7h0M489.7 327.6h0M503.5 298.0h0M360.3 296.4h0M528.3 290.2h0M460.6 327.8h0M533.9 280.7h0M412.5 279.6h0M406.0 329.4h0M435.4 297.0h0M532.2 279.5h0M352.7 311.7h0M500.2 273.6h0M481.4 296.1h0M473.3 263.8h0M386.3 259.1h0M541.3 310.5h0M472.1 262.8h0M457.5 272.7h0M466.9 341.3h0M441.7 295.0h0M441.6 324.5h0M505.4 283.5h0M437.7 259.3h0M471.0 290.0h0M443.7 266.0h0M488.7 290.8h0M405.1 272.7h0M497.6 265.5h0M400.7 289.4h0M459.6 291.5h0M417.9 332.9h0M456.6 340.3h0M529.6 312.5h0M476.4 311.0h0M401.1 335.0h0M480.5 298.1h0M493.6 326.4h0M484.4 276.4h0M407.3 276.1h0M465.0 322.5h0M534.2 283.8h0M506.7 291.6h0M414.5 267.6h0M488.4 319.7h0M390.1 313.6h0M509.0 271.9h0M389.0 282.2h0M510.1 285.1h0M497.5 302.2h0M405.4 269.6h0M530.9 270.9h0M356.3 301.3h0M435.3 263.6h0M487.9 287.4h0M428.9 298.2h0M388.4 262.6h0M392.0 287.5h0M407.5 302.1h0M439.6 324.0h0M434.1 317.9h0M497.5 314.8h0M506.4 272.1h0M372.9 303.2h0M490.0 268.0h0M476.8 270.4h0M358.6 317.0h0M532.5 265.9h0M497.2 293.5h0M506.8 297.8h0M385.0 258.8h0M472.2 301.6h0M535.9 334.6h0M521.9 267.8h0M416.7 277.8h0M511.8 319.2h0M448.5 259.7h0M539.4 269.1h0M345.8 292.7h0M425.6 292.8h0M437.8 300.6h0M437.5 312.1h0M452.0 285.1h0M489.2 267.6h0M534.0 309.1h0M488.3 341.3h0M382.1 320.2h0M479.5 320.6h0M438.3 333.2h0M334.5 273.1h0M437.0 324.2h0M531.8 260.9h0M358.5 286.6h0M349.4 267.5h0M512.4 305.6h0M481.9 283.1h0M340.3 342.0h0M351.0 280.6h0M438.4 303.7h0M541.2 286.7h0M498.6 269.1h0M536.5 310.1h0M442.5 301.5h0M540.6 316.0h0M449.6 275.3h0M516.7 264.3h0M333.1 332.3h0M383.7 289.5h0M327.0 321.7h0M539.6 260.8h0M504.2 277.0h0M437.5 324.7h0M397.2 284.2h0M410.2 327.4h0M373.9 330.0h0M417.3 281.0h0M481.1 305.3h0M494.4 292.6h0M451.6 319.2h0M423.5 269.6h0M336.9 297.2h0M490.6 323.3h0M386.0 270.3h0M538.7 274.3h0M489.6 337.4h0M348.1 334.5h0M525.5 262.0h0M324.9 288.5h0M429.2 325.8h0M406.7 297.1h0M539.2 327.6h0M452.5 318.0h0M411.8 283.1h0M423.6 277.2h0M489.1 265.7h0M398.9 305.6h0M539.6 266.7h0M406.8 325.1h0M408.1 280.4h0M517.1 267.9h0M518.2 287.8h0M427.4 284.4h0M490.3 260.5h0M488.7 326.5h0M407.0 309.6h0M533.8 324.2h0M531.2 324.4h0M511.1 276.4h0M484.5 269.0h0M536.8 286.6h0M498.7 327.2h0M414.2 306.9h0M442.3 272.7h0M480.8 258.3h0M389.2 260.3h0M495.8 295.5h0M516.3 267.0h0M479.7 335.5h0M505.5 263.3h0M336.1 299.1h0M485.8 265.1h0M500.7 332.2h0M503.8 289.0h0M500.3 266.9h0M326.9 340.6h0M351.5 277.6h0M528.3 295.9h0M382.9 307.1h0M445.2 288.8h0M443.4 264.9h0M373.3 335.1h0M487.8 318.4h0M540.4 303.3h0M429.0 299.7h0M503.3 280.6h0M392.5 284.7h0M506.1 292.9h0M406.1 283.1h0M398.5 289.4h0M488.8 264.7h0M489.5 302.9h0M469.8 304.8h0M506.4 325.2h0M519.9 310.4h0M459.6 262.1h0M436.8 257.9h0M407.3 310.6h0M412.3 273.8h0M484.5 258.1h0M351.1 284.1h0M533.5 303.0h0M431.8 324.7h0M450.6 334.2h0"/>
<path stroke="#88c6e0" stroke-width="1.3" stroke-linecap="square" stroke-opacity="0.9" d="M346.2 292.7h0M411.7 261.1h0M452.1 282.6h0M486.9 333.0h0M473.5 307.8h0M511.8 291.1h0M532.6 335.3h0M513.2 284.6h0M440.9 261.5h0M491.9 309.8h0M506.0 291.8h0M416.7 271.9h0M399.6 327.6h0M499.4 289.1h0M382.8 297.3h0M481.7 263.1h0M475.5 310.9h0M504.1 289.4h0M457.3 283.9h0M502.6 334.6h0M488.4 292.0h0M511.8 326.4h0M464.6 277.2h0M367.4 312.0h0M343.4 333.4h0M489.6 327.7h0M497.5 290.6h0M478.5 338.2h0M525.8 264.4h0M460.4 301.0h0M396.3 318.3h0M375.5 278.8h0M457.9 287.6h0M505.0 321.1h0M408.0 319.1h0M390.9 259.7h0M481.9 315.0h0M441.7 304.8h0M468.6 320.8h0M531.6 327.5h0M407.2 323.6h0M427.7 314.0h0M341.9 306.6h0M394.6 311.1h0M540.3 279.6h0M383.2 330.0h0M406.3 330.4h0M514.7 320.1h0M328.4 279.7h0M417.5 265.1h0M534.5 340.1h0M523.8 314.8h0M429.0 323.2h0M392.8 287.8h0M514.4 299.0h0M529.3 297.8h0M513.6 267.9h0M446.2 260.0h0M494.8 264.4h0M442.7 282.7h0M429.4 271.2h0M410.3 273.8h0M488.9 268.5h0M497.3 296.2h0M369.1 281.0h0M532.8 314.2h0M449.6 296.0h0M343.5 298.7h0M481.4 321.4h0M539.0 291.8h0M497.2 267.1h0M339.8 275.9h0M466.1 332.6h0M343.0 295.1h0M327.1 305.0h0M524.7 288.4h0M412.7 330.3h0M420.5 332.6h0M430.6 280.8h0M442.0 298.8h0M439.7 299.7h0M529.8 278.0h0M447.3 266.9h0M527.3 327.4h0M390.2 264.7h0M491.1 304.4h0M507.0 285.7h0M473.2 306.0h0M455.2 259.0h0M489.5 293.5h0M478.7 316.2h0M422.6 294.0h0M534.2 316.8h0M444.6 292.0h0M376.0 278.4h0M418.1 259.4h0M475.8 312.2h0M414.4 314.7h0M509.4 265.0h0M428.5 281.1h0M435.8 309.0h0M505.9 335.1h0M361.1 285.4h0M481.7 316.0h0M368.9 333.1h0M486.5 324.1h0M467.0 276.4h0M410.2 327.5h0M480.2 326.0h0M452.2 263.7h0M330.5 331.6h0M535.7 300.4h0M404.6 310.6h0M494.7 297.0h0M516.2 260.0h0M337.2 279.5h0M523.0 279.6h0M480.0 258.5h0M466.7 266.1h0M443.6 314.0h0M466.6 325.7h0M370.9 310.6h0M507.8 263.7h0M458.3 268.8h0M512.2 272.7h0M404.5 339.0h0M529.2 279.4h0M396.4 317.1h0M537.7 307.1h0M433.4 298.8h0M415.5 325.3h0M504.6 328.6h0M478.1 312.6h0M326.1 331.8h0M480.7 290.3h0M462.0 259.2h0M527.1 303.3h0M456.9 276.5h0M504.6 267.2h0M476.5 300.3h0M531.2 292.7h0M436.6 313.6h0M491.5 282.5h0M350.9 323.7h0M532.1 273.9h0M472.8 316.0h0M500.1 322.8h0M488.7 332.3h0M380.2 282.3h0M412.2 311.8h0M445.9 313.0h0M531.4 308.5h0M455.3 314.6h0M344.2 321.8h0M525.4 273.7h0M405.8 336.9h0M355.2 307.7h0M416.9 277.1h0M375.8 280.9h0M331.1 308.3h0M353.0 336.9h0M472.0 309.4h0M334.8 333.1h0M443.2 341.5h0M423.2 290.2h0M364.5 270.9h0M512.3 283.9h0M528.9 289.6h0M500.9 286.1h0M495.1 308.6h0M438.0 259.7h0M392.1 317.7h0M399.6 271.2h0M503.5 304.7h0M496.4 288.0h0M528.4 330.7h0M461.2 267.9h0M482.4 316.3h0M524.8 292.5h0M477.2 340.0h0M528.7 289.6h0M518.0 328.6h0M329.4 280.4h0M431.8 297.0h0M523.3 257.7h0M509.6 324.2h0M498.7 312.5h0M462.1 279.1h0M456.3 262.5h0M460.5 282.5h0M529.8 273.5h0M432.4 260.8h0M369.8 296.9h0M491.4 339.6h0M441.1 275.8h0M379.9 289.4h0M362.7 332.2h0M393.9 283.8h0M373.5 293.5h0M480.3 276.8h0M366.2 322.3h0M500.2 286.2h0M490.6 325.0h0M534.0 306.4h0M458.7 290.7h0M373.5 292.8h0M528.7 330.9h0M404.0 261.6h0M437.6 281.2h0M387.5 339.9h0M449.7 291.8h0M451.2 278.1h0M493.6 321.3h0M396.0 312.1h0M335.7 340.8h0M361.1 265.4h0M481.0 282.0h0M513.2 335.4h0M462.8 340.8h0M516.2 260.6h0M368.4 259.2h0M507.0 291.8h0M385.1 301.3h0M443.7 299.3h0M433.1 309.8h0M324.0 268.3h0M517.6 316.7h0M419.3 326.1h0M340.2 288.5h0M441.6 289.3h0M495.3 269.9h0M326.9 318.3h0M461.1 266.8h0M500.3 294.0h0M518.8 323.2h0M332.8 260.1h0M358.1 332.9h0M470.8 288.3h0M500.2 301.2h0M357.7 294.2h0M419.9 292.5h0M510.5 319.9h0M452.2 307.5h0M492.5 310.1h0M348.7 277.8h0M536.9 336.5h0M463.8 259.9h0M395.9 269.5h0M440.0 286.5h0M349.1 325.5h0M516.5 318.2h0M332.0 296.5h0M459.0 334.7h0M502.8 282.6h0M527.7 313.9h0M492.5 335.8h0M526.9 326.8h0M475.6 330.8h0M412.5 317.2h0M386.8 334.8h0M408.0 310.3h0M496.4 316.0h0M373.3 281.8h0M340.9 334.1h0M369.7 261.7h0M532.9 324.4h0M432.5 329.6h0M468.9 311.9h0M397.0 310.8h0M535.7 269.7h0M470.8 331.0h0M335.0 322.3h0M412.7 322.8h0M457.8 279.0h0M467.3 316.1h0M507.9 269.6h0M384.3 317.2h0M354.6 288.8h0M470.1 291.6h0M480.0 312.1h0M438.7 317.3h0M469.5 276.3h0M523.2 301.7h0M497.8 337.9h0M486.5 299.4h0M411.0 274.8h0M411.0 328.4h0M421.3 332.4h0M508.0 315.5h0M501.1 283.3h0M531.1 265.8h0M417.8 265.3h0M504.4 293.3h0M474.5 316.0h0M500.1 339.3h0M436.9 337.9h0M486.5 315.7h0M522.7 265.0h0M355.4 286.7h0M404.7 281.6h0M379.5 316.1h0M374.9 265.5h0M534.6 258.6h0M362.5 307.5h0M535.9 282.6h0M353.5 334.6h0M331.2 271.4h0M427.8 326.8h0M513.5 287.1h0M503.5 275.7h0M363.4 305.5h0M373.0 320.3h0M467.9 320.1h0M422.0 318.7h0M385.9 257.6h0M463.4 260.1h0M326.5 307.8h0M519.0 284.8h0M445.9 283.3h0M374.7 299.5h0M374.8 274.4h0M428.6 293.7h0M386.2 302.9h0M379.5 293.1h0M447.1 329.2h0M397.9 292.1h0M490.5 309.7h0M496.7 296.3h0M532.3 326.4h0M498.7 258.7h0M431.2 262.2h0M435.9 314.1h0M368.2 259.1h0M465.3 306.4h0M428.1 287.3h0M340.3 295.2h0M435.6 334.8h0M410.5 279.2h0M476.9 270.9h0M362.5 322.0h0M467.8 318.1h0M329.5 302.9h0M324.6 270.2h0M482.9 269.2h0M389.3 301.1h0M445.8 292.1h0M462.9 263.0h0M476.6 338.8h0M429.6 262.7h0M486.6 266.7h0M518.4 261.4h0M477.7 269.0h0M489.4 286.5h0M393.0 291.9h0M513.0 327.6h0M380.2 342.1h0M409.9 265.8h0M532.7 326.8h0M489.2 304.5h0M535.9 314.5h0M409.2 316.4h0M508.5 319.0h0M422.9 326.1h0M432.7 289.1h0M472.8 341.9h0M487.8 317.8h0M411.9 285.8h0M494.2 267.3h0M530.8 257.5h0M438.7 288.2h0M444.2 286.4h0M420.1 300.0h0M390.6 333.3h0M342.1 309.7h0M466.9 325.9h0M414.3 288.5h0M444.4 290.5h0M363.0 327.6h0M395.1 270.7h0M454.7 280.8h0M441.9 257.6h0M411.0 273.5h0M494.9 294.4h0M449.8 298.5h0M491.6 287.6h0M533.2 337.9h0M497.3 310.6h0M367.7 320.6h0M392.6 308.0h0M439.9 297.1h0M402.7 331.8h0M497.8 280.1h0M471.2 327.2h0M385.3 299.2h0M372.4 313.3h0M340.0 288.7h0M433.5 284.4h0M528.4 263.5h0M436.6 312.8h0M483.0 276.8h0M499.5 307.9h0M454.0 303.5h0M522.9 278.7h0M439.8 304.0h0M341.6 306.4h0M494.7 329.0h0M401.8 325.6h0M402.3 298.7h0M437.1 281.4h0M357.1 275.0h0M462.3 318.5h0M473.5 258.8h0M477.4 330.0h0M398.2 293.8h0M501.1 302.4h0M481.1 304.0h0M447.2 286.1h0M449.6 296.2h0M332.0 269.0h0M409.0 280.9h0M452.5 289.9h0M527.7 307.9h0M487.2 330.4h0M531.3 296.3h0M385.3 321.5h0M474.4 280.4h0M341.1 293.0h0M422.5 310.5h0M524.2 294.6h0M501.0 291.2h0M535.9 275.9h0M455.4 285.9h0M535.5 289.2h0M489.9 271.0h0M466.5 272.1h0M482.9 285.7h0M383.6 263.4h0M464.7 265.4h0M429.4 285.5h0M395.3 330.0h0M383.3 259.9h0M514.9 293.8h0M477.5 261.0h0M466.1 268.7h0M489.7 295.1h0M440.1 339.3h0M393.5 298.9h0M535.5 272.9h0M396.7 339.6h0M414.9 264.6h0M532.1 315.2h0M516.0 259.1h0M523.5 273.7h0M363.0 302.2h0M463.8 294.4h0M540.7 301.1h0M470.3 286.0h0M489.3 265.0h0M461.9 328.3h0M529.5 281.0h0M517.9 329.3h0M436.8 282.5h0M379.3 329.4h0M505.6 300.0h0M351.7 264.4h0M478.7 258.5h0M509.2 276.8h0M529.2 301.2h0M482.8 258.4h0M470.9 280.4h0M422.3 336.6h0M415.0 311.9h0M499.6 284.9h0M538.5 277.3h0M428.6 332.9h0M437.1 340.2h0M514.4 285.3h0M356.1 298.5h0M370.7 265.2h0M448.1 293.8h0M350.4 338.4h0M509.2 296.9h0M470.7 321.9h0M436.2 331.9h0M491.9 260.6h0M497.1 281.4h0M360.5 336.4h0M392.9 277.8h0M471.1 303.3h0M342.3 324.7h0M472.8 285.7h0M473.8 314.6h0M516.7 275.2h0M325.7 338.8h0M389.7 331.3h0M428.5 288.5h0M422.5 289.0h0M501.5 273.4h0M464.2 277.3h0M370.1 278.3h0M522.3 260.4h0M492.8 304.1h0M532.5 290.6h0M535.6 279.3h0M499.5 281.4h0M369.6 317.1h0M438.6 335.6h0M363.5 321.1h0M525.6 288.0h0M348.9 294.8h0M500.3 298.7h0M503.4 322.5h0M503.5 259.1h0M430.8 268.6h0M334.0 266.5h0M508.4 285.2h0M410.3 282.5h0M534.8 263.1h0M467.3 321.8h0M510.3 277.4h0M533.9 286.6h0M485.0 275.2h0M404.4 335.5h0M439.2 275.6h0M353.9 310.5h0M511.6 328.7h0M422.9 329.2h0M517.3 312.4h0M503.2 320.9h0M398.4 262.1h0M446.6 337.1h0M501.7 283.0h0M513.1 282.1h0M340.8 297.0h0M464.4 302.5h0M440.4 260.5h0M495.6 340.7h0M380.5 291.4h0M432.0 267.5h0M495.3 293.5h0M498.3 294.8h0M471.0 293.0h0M444.2 291.9h0M377.0 261.4h0M430.5 260.7h0M512.8 269.8h0M445.7 321.7h0M422.4 336.2h0M485.0 325.4h0M411.4 313.8h0M502.7 268.6h0M539.0 287.4h0M451.1 264.6h0M420.4 275.1h0M532.0 276.8h0M517.2 260.7h0M536.8 303.1h0M526.0 320.7h0M392.1 338.6h0M514.1 299.7h0M492.7 294.3h0M520.7 270.9h0M535.7 277.8h0M499.7 325.1h0M509.9 326.1h0M475.2 324.3h0M453.3 321.1h0M434.5 329.4h0M484.6 303.9h0M394.6 307.7h0M415.2 334.7h0M531.7 334.9h0M437.8 304.9h0M530.7 269.8h0M394.6 339.9h0M425.6 306.9h0M530.5 322.2h0M364.8 297.5h0M421.8 295.2h0M525.5 281.1h0M457.8 301.4h0M430.8 324.7h0M392.5 307.9h0M462.3 323.4h0M509.5 276.2h0M392.8 327.2h0M540.3 337.8h0M378.8 259.4h0M505.3 303.1h0M420.9 287.2h0M361.9 276.9h0M528.3 306.9h0M472.8 269.3h0M353.7 291.4h0M470.8 324.0h0M458.6 281.0h0M366.4 321.1h0M377.2 292.0h0M351.6 264.7h0M334.9 269.5h0M457.2 280.1h0M409.1 330.3h0M462.9 307.0h0M516.2 278.2h0M346.8 290.8h0M447.2 299.7h0M422.3 259.5h0M499.0 272.0h0M345.5 301.2h0M397.4 295.9h0M506.2 300.6h0M490.8 299.4h0M471.3 287.5h0M511.9 290.0h0M357.6 268.3h0M400.7 266.7h0M463.0 291.8h0M405.5 307.9h0M504.3 277.5h0M416.4 316.9h0M534.2 315.6h0M332.0 290.5h0M406.0 278.6h0M534.9 303.3h0M541.1 292.9h0M522.8 265.8h0M505.3 287.2h0M413.2 334.4h0M451.6 281.1h0M536.5 270.5h0M509.9 311.7h0M411.3 263.9h0M524.8 291.3h0M442.8 274.0h0M515.4 258.2h0M484.0 282.8h0M479.3 260.1h0M442.1 339.5h0M434.1 294.3h0M440.6 306.9h0M518.8 302.4h0M512.8 334.1h0M488.6 336.2h0M444.1 279.5h0M416.6 297.8h0M456.0 340.7h0M473.8 296.2h0M530.4 309.5h0M492.9 333.9h0M536.3 265.4h0M503.9 277.0h0M422.9 272.6h0M463.5 319.0h0M408.0 290.6h0M534.6 267.6h0M514.3 291.8h0M377.8 340.6h0M465.3 282.8h0M371.0 277.9h0M412.9 338.5h0M423.6 327.4h0M394.6 308.4h0M531.5 314.6h0M473.7 313.9h0M469.4 286.1h0M408.0 324.1h0M457.7 312.7h0M494.9 275.5h0M410.0 325.2h0M372.3 326.8h0M374.5 337.5h0M514.9 298.0h0M533.5 317.9h0M404.5 331.7h0M455.7 284.5h0M418.0 280.6h0M439.3 321.2h0M451.7 304.1h0M352.8 309.1h0M501.9 292.7h0M343.0 313.3h0M517.0 275.3h0M471.9 290.9h0M368.1 321.6h0M530.8 268.0h0M396.0 330.2h0M402.7 317.9h0M470.9 314.4h0M367.7 320.0h0M541.4 298.3h0M473.2 320.0h0M537.5 291.9h0M482.1 274.5h0M447.6 319.1h0M459.7 269.5h0M437.3 263.1h0M432.1 280.7h0M421.5 281.3h0M529.3 282.8h0M367.7 325.8h0M488.4 336.1h0M471.9 321.4h0M418.0 263.2h0M350.8 331.0h0M487.1 262.4h0M440.3 288.1h0M417.0 305.9h0M351.9 314.2h0M395.0 322.7h0M354.5 291.2h0M428.0 265.5h0M527.0 308.4h0M370.6 342.0h0M325.8 325.7h0M520.0 301.0h0M445.2 318.1h0M460.1 336.5h0M460.4 334.3h0M485.9 279.0h0M378.4 338.2h0M479.5 302.4h0M508.0 317.7h0M327.1 337.3h0M437.3 342.0h0M338.7 295.3h0M488.3 267.8h0M499.9 308.5h0M435.5 265.7h0M394.8 278.7h0M444.4 287.0h0M475.8 264.0h0M447.4 317.5h0M336.1 297.3h0M534.5 310.4h0M515.3 306.0h0M488.3 321.5h0M503.8 274.9h0M518.7 269.1h0M497.6 295.5h0M514.4 313.0h0M489.0 283.7h0M518.2 287.0h0M463.1 314.9h0M519.6 290.9h0M345.3 304.0h0M449.4 265.7h0M463.4 272.4h0M327.5 284.0h0M427.4 266.5h0M523.9 292.1h0M540.1 270.2h0M512.4 264.3h0M468.3 300.1h0M336.5 279.5h0M529.1 317.5h0M350.8 286.3h0M454.0 290.8h0M335.5 300.2h0M537.7 270.4h0M500.9 326.3h0M404.2 260.9h0M446.8 323.3h0M451.5 327.1h0M484.7 280.0h0M496.5 322.2h0M535.8 288.7h0M473.2 282.5h0M490.5 290.2h0M500.0 310.6h0M388.3 289.8h0M496.8 295.6h0M482.5 270.7h0M534.0 315.3h0M511.6 309.8h0M518.6 306.3h0M531.9 290.4h0M463.4 268.4h0M483.5 270.2h0M457.8 293.2h0M524.8 282.1h0M419.1 288.6h0M335.8 299.5h0M509.1 263.9h0M354.1 268.3h0M507.8 265.8h0M425.3 330.5h0M511.1 328.9h0M395.3 260.3h0M491.7 288.4h0M425.4 311.5h0M458.5 320.5h0M365.2 282.3h0M514.6 262.5h0M403.1 305.7h0M462.4 313.3h0M473.9 265.2h0M498.3 295.2h0M334.4 282.0h0M533.1 261.0h0M427.1 324.7h0M444.0 258.3h0M332.5 313.4h0M367.5 272.0h0M399.5 309.7h0M523.5 318.0h0M394.6 305.9h0M405.0 324.5h0M362.2 291.3h0M344.1 259.5h0M422.4 267.1h0M461.3 274.6h0M437.7 335.7h0M418.4 330.0h0M430.4 260.5h0M538.5 280.9h0M380.5 299.4h0M341.6 264.5h0M517.0 293.9h0M392.1 290.6h0M417.6 268.6h0M440.5 339.4h0M527.4 268.5h0M346.5 272.0h0M525.6 288.8h0M411.0 309.1h0M537.2 316.8h0M458.7 305.8h0M371.7 283.4h0M467.0 265.5h0M455.1 300.3h0M382.4 278.4h0M371.5 312.3h0M449.1 318.7h0M447.9 326.9h0M478.0 329.6h0M403.7 297.5h0M452.1 318.7h0M452.7 333.1h0M517.5 278.6h0M350.4 329.7h0M354.5 294.7h0M370.6 268.1h0M511.7 301.0h0M410.3 332.0h0M469.0 305.8h0M524.1 271.1h0M366.2 272.2h0M487.8 334.6h0M437.1 273.7h0M340.8 341.8h0M447.3 277.4h0M527.7 262.8h0M498.3 268.1h0M341.0 291.0h0M517.4 292.7h0M366.0 299.6h0M360.1 322.1h0M414.2 274.3h0M366.5 296.4h0M448.5 265.1h0M348.2 333.5h0M493.3 320.8h0M527.6 257.7h0M376.0 315.4h0M472.3 266.9h0M396.2 338.1h0M540.2 326.2h0M350.8 330.1h0M486.7 263.1h0M537.5 282.0h0M346.8 335.0h0M452.5 278.1h0M498.1 291.0h0M503.5 294.1h0M537.6 338.4h0M522.8 269.9h0M426.8 272.7h0M490.9 327.9h0M330.3 270.4h0M457.3 259.3h0M464.3 318.9h0"/>
<path stroke="#2e94c4" stroke-width="1.3" stroke-linecap="square" stroke-opacity="0.9" d="M493.9 384.8h0M398.1 449.2h0M341.8 444.4h0M373.3 429.1h0M392.1 390.7h0M511.7 412.3h0M458.2 460.0h0M418.9 446.7h0M479.3 456.2h0M516.5 401.7h0M363.7 433.4h0M348.9 435.0h0M484.3 438.7h0M508.5 452.3h0M367.5 396.7h0M533.1 384.8h0M429.6 437.9h0M328.4 388.2h0M480.6 410.2h0M472.9 408.4h0M485.7 453.0h0M364.8 393.6h0M480.0 397.2h0M485.9 390.0h0M382.9 428.0h0M412.1 449.3h0M375.1 466.0h0M538.1 409.1h0M324.7 453.7h0M431.1 392.7h0M498.5 451.4h0M525.5 391.4h0M433.9 410.6h0M447.3 418.4h0M473.2 422.1h0M408.8 400.8h0M370.8 454.5h0M487.0 427.6h0M383.2 415.7h0M533.2 437.4h0M531.5 458.6h0M334.0 465.6h0M478.0 446.4h0M456.7 410.6h0M518.6 460.6h0M521.7 449.6h0M525.6 428.3h0M490.9 421.9h0M475.7 411.4h0M435.2 430.0h0M461.6 442.7h0M333.0 400.7h0M380.7 446.1h0M417.4 427.9h0M512.4 445.8h0M386.9 432.7h0M414.3 390.5h0M522.2 417.9h0M323.8 391.2h0M486.3 462.1h0M503.0 390.0h0M338.8 411.4h0M385.9 450.9h0M337.6 425.7h0M427.3 428.3h0M326.7 464.4h0M440.9 458.0h0M529.7 419.1h0M388.5 417.6h0M376.2 409.2h0M523.1 399.3h0M379.6 440.3h0M523.7 404.1h0M340.8 460.0h0M364.9 382.4h0M406.1 391.8h0M416.4 405.8h0M403.5 408.8h0M399.7 458.4h0M497.7 437.4h0M327.7 443.6h0M538.2 427.3h0M391.9 454.9h0M442.1 411.9h0M420.2 420.6h0M458.5 404.2h0M524.2 399.7h0M345.9 403.1h0M339.6 458.5h0M398.6 388.1h0M353.6 399.8h0M395.2 457.2h0M330.4 457.1h0M417.3 384.1h0M390.6 418.7h0M471.2 395.5h0M436.4 409.6h0M336.0 384.4h0M342.4 409.1h0M409.5 435.5h0M334.0 403.8h0M369.3 423.0h0M534.2 464.9h0M504.0 421.9h0M494.6 424.6h0M486.5 395.7h0M518.4 410.6h0M324.5 389.5h0M449.8 439.9h0M379.8 411.9h0M502.7 384.5h0M400.1 430.4h0M522.4 410.5h0M486.0 396.8h0M489.6 465.5h0M367.5 405.8h0M377.4 425.7h0M514.6 450.8h0M335.2 395.4h0M530.6 456.6h0M514.1 441.5h0M404.1 448.7h0M374.4 422.0h0M363.3 389.2h0M425.2 434.6h0M513.0 447.4h0M435.0 428.7h0M493.3 389.3h0M462.2 449.8h0M396.3 404.2h0M446.8 440.5h0M477.3 426.1h0M453.9 432.8h0M502.9 445.6h0M496.3 407.9h0M467.6 430.3h0M448.0 384.1h0M489.1 403.8h0M325.3 407.4h0M340.2 450.9h0M411.9 413.7h0M365.1 394.5h0M352.2 414.4h0M469.7 394.8h0M388.9 401.0h0M460.3 458.2h0M390.3 451.5h0M466.7 433.0h0M521.7 412.1h0M408.1 451.7h0M537.8 409.6h0M446.3 419.5h0M415.0 454.3h0M422.1 443.4h0M367.9 419.1h0M452.5 446.2h0M341.5 385.9h0M479.2 388.3h0M362.3 440.3h0M348.2 384.2h0M388.6 443.9h0M371.3 417.4h0M332.5 409.9h0M350.3 415.0h0M382.2 419.5h0M354.1 453.1h0M428.0 444.0h0M367.7 398.3h0M361.5 441.3h0M442.2 409.3h0M358.2 413.0h0M373.1 390.5h0M324.6 407.1h0M467.4 384.8h0M331.9 451.6h0M399.3 407.6h0M415.3 430.5h0M354.5 449.0h0M328.1 447.7h0M358.2 384.2h0M522.4 405.9h0M419.4 430.5h0M472.5 454.0h0M375.7 391.5h0M476.6 392.7h0M395.5 425.8h0M367.3 427.8h0M524.5 425.0h0M511.5 396.7h0M455.4 410.2h0M334.6 388.7h0M524.5 431.0h0M508.6 430.0h0M528.5 455.8h0M529.2 453.9h0M371.6 403.8h0M377.6 385.0h0M530.8 435.7h0M336.4 465.3h0M539.4 448.3h0M407.0 435.6h0M500.4 458.6h0M384.8 407.9h0M336.8 448.8h0M432.5 429.7h0M488.7 456.8h0M452.0 414.9h0M398.3 426.2h0M385.5 381.8h0M406.5 425.2h0M326.8 463.1h0M457.8 456.9h0M503.4 464.1h0M457.5 393.3h0M453.6 405.9h0M519.5 415.3h0M478.2 461.3h0M361.8 421.3h0M379.8 459.0h0M390.5 384.7h0M396.8 382.3h0M497.0 413.2h0M421.9 388.9h0M441.6 453.4h0M333.7 406.0h0M374.5 387.3h0M433.1 391.4h0M438.2 433.9h0M521.3 423.9h0M395.3 407.7h0M346.8 455.2h0M539.6 450.8h0M383.1 415.9h0M501.8 392.6h0M437.0 413.4h0M379.2 426.0h0M518.8 464.3h0M428.9 422.9h0M400.7 461.5h0M335.9 454.0h0M348.5 404.3h0M401.8 397.9h0M390.3 397.5h0M371.7 449.7h0M403.0 403.2h0M474.6 436.4h0M505.6 412.0h0M421.4 425.7h0M534.4 405.4h0M425.0 460.6h0M422.6 428.4h0M332.4 401.0h0M520.6 461.5h0M328.0 462.8h0M448.8 392.2h0M379.3 421.4h0M411.0 450.5h0M406.1 466.2h0M531.3 457.7h0M334.9 412.2h0M464.1 392.6h0M522.9 407.4h0M382.1 425.9h0M485.3 394.9h0M478.8 398.4h0M337.6 411.1h0M473.8 460.8h0M519.3 401.1h0M425.8 442.1h0M496.6 424.4h0M415.5 439.2h0M467.6 423.4h0M476.4 446.6h0M454.7 398.9h0M429.0 384.5h0M341.9 386.4h0M362.4 429.3h0M475.5 435.1h0M500.3 410.1h0M382.9 412.3h0M441.2 409.8h0M339.2 448.9h0M391.4 392.0h0M396.4 432.4h0M459.2 439.3h0M338.7 431.1h0M471.6 456.7h0M471.3 458.5h0M509.3 448.5h0M368.3 451.4h0M356.6 405.7h0M344.3 446.1h0M340.1 388.0h0M518.4 421.3h0M364.5 407.9h0M377.0 433.1h0M436.4 452.4h0M453.6 422.3h0M363.8 394.3h0M505.1 409.2h0M445.8 437.2h0M488.3 394.4h0M467.2 401.8h0M493.6 399.1h0M447.0 444.9h0M480.4 404.1h0M405.0 394.9h0M490.4 388.4h0M507.3 407.7h0M483.9 416.9h0M343.5 422.0h0M346.5 386.2h0M443.3 449.2h0M361.0 410.2h0M421.2 435.6h0M497.3 443.4h0M520.8 437.3h0M452.1 444.8h0M503.9 388.7h0M469.5 392.9h0M483.5 412.0h0M527.6 440.5h0M333.8 458.5h0M372.6 387.6h0M429.7 449.9h0M517.3 433.2h0M511.3 401.8h0M497.0 402.4h0M361.3 389.1h0M539.8 449.7h0M435.0 443.4h0M540.4 409.3h0M462.4 400.3h0M385.1 408.2h0M460.6 416.5h0M487.8 403.7h0M324.5 409.4h0M504.5 464.5h0M404.3 450.7h0M403.3 464.9h0M327.9 412.7h0M342.0 434.9h0M359.1 413.4h0M515.9 433.7h0M447.9 427.8h0M512.7 420.0h0M472.1 400.5h0M516.9 458.7h0M540.6 411.1h0M444.3 414.2h0M423.9 430.3h0M404.0 461.5h0M399.5 397.6h0M447.5 425.1h0M400.2 465.0h0M502.9 443.2h0M328.1 432.7h0M374.3 424.3h0M460.1 422.2h0M433.1 420.4h0M512.8 441.7h0M509.1 430.7h0M400.8 435.4h0M353.5 450.8h0M359.3 447.4h0M490.6 416.3h0M491.8 413.8h0M477.3 425.0h0M366.1 456.9h0M417.9 388.2h0M471.5 413.9h0M382.4 458.9h0M401.1 382.1h0M450.0 464.3h0M533.0 403.3h0M379.7 396.1h0M463.7 421.6h0M402.4 427.2h0M383.4 425.3h0M354.5 400.6h0M443.2 459.4h0M429.4 426.9h0M399.5 387.6h0M480.3 400.7h0M481.4 385.2h0M324.6 439.0h0M442.9 398.1h0M509.9 448.1h0M500.6 383.8h0M347.3 419.4h0M376.5 451.2h0M424.0 450.7h0M359.5 458.5h0M525.4 395.6h0M426.4 415.8h0M340.7 459.0h0M342.2 385.9h0M482.6 390.6h0M418.5 415.0h0M459.3 458.8h0M339.8 445.0h0M346.3 431.2h0M512.2 433.0h0M523.6 413.0h0M428.0 395.7h0M355.0 430.0h0M371.2 424.1h0M363.4 387.8h0M379.7 452.4h0M491.8 436.9h0M350.4 388.5h0M326.5 450.2h0M351.5 391.5h0M441.1 394.7h0M502.5 451.9h0M351.5 417.4h0M376.9 442.7h0M462.0 432.0h0M481.2 383.6h0M395.1 457.0h0M527.9 412.7h0M499.9 464.2h0M339.1 451.4h0M517.3 415.6h0M385.7 402.8h0M443.1 383.4h0M338.0 450.8h0M392.1 456.0h0M340.3 458.3h0M349.8 456.6h0M506.3 402.4h0M465.2 390.9h0M439.3 444.5h0M421.1 459.0h0M437.7 421.9h0M405.7 405.8h0M335.1 452.2h0M512.2 396.9h0M462.5 403.0h0M393.5 403.7h0M511.3 426.0h0M414.4 443.0h0M335.3 402.9h0M526.4 396.5h0M492.3 427.4h0M361.7 447.4h0M539.2 391.4h0M535.1 444.3h0M401.0 435.4h0M420.4 455.3h0M476.4 452.5h0M384.2 384.0h0M359.6 395.6h0M358.9 465.9h0M365.0 432.2h0M467.4 452.6h0M357.4 399.0h0M470.1 400.1h0M348.7 460.4h0M450.0 402.4h0M337.8 439.5h0M499.2 421.6h0M362.1 384.2h0M396.4 418.0h0M466.6 421.8h0M427.9 392.7h0M415.7 460.2h0M330.4 466.1h0M368.1 419.9h0M377.9 464.4h0M514.5 455.2h0M437.1 447.2h0M494.5 465.7h0M523.1 402.9h0M539.9 448.6h0M360.6 420.7h0M365.9 388.0h0M354.5 444.1h0M393.4 458.1h0M442.6 457.3h0M441.9 432.6h0M366.0 444.8h0M357.5 385.2h0M523.7 453.6h0M474.9 454.7h0M424.8 459.5h0M397.1 439.3h0M441.1 449.7h0M401.2 413.9h0M453.3 387.5h0M430.8 445.4h0M405.2 396.2h0M335.9 398.5h0M340.8 454.2h0M335.2 445.3h0M334.9 453.6h0M477.3 460.0h0M378.3 462.4h0M439.7 401.6h0M372.4 447.1h0M533.4 431.7h0M370.6 466.2h0M414.4 456.5h0M426.8 424.2h0M537.6 414.3h0M481.3 440.8h0M328.5 459.2h0M470.4 382.3h0M339.6 412.2h0M511.6 447.2h0M388.2 457.4h0M431.6 398.8h0M419.5 408.6h0M491.4 382.8h0M488.9 465.8h0M484.3 449.5h0M347.0 454.4h0M358.0 407.4h0M538.6 440.1h0M369.7 408.2h0M352.0 465.3h0M465.4 424.1h0M515.3 406.3h0M422.7 420.7h0M379.6 400.7h0M387.9 447.7h0M470.1 436.3h0M473.4 389.8h0M476.6 460.5h0M325.0 429.6h0M420.8 414.1h0M357.2 446.0h0M500.8 430.9h0M323.9 449.4h0M401.5 415.4h0M419.7 419.1h0M462.2 442.2h0M529.2 422.0h0M499.7 416.0h0M349.7 415.3h0M508.3 394.0h0M497.8 430.8h0M358.6 397.6h0M430.6 448.7h0M474.3 436.9h0M439.5 401.0h0M334.5 401.6h0M354.2 454.1h0M468.4 431.9h0M467.7 423.9h0M380.4 391.9h0M533.6 395.9h0M487.7 446.4h0M409.6 388.0h0M409.5 399.7h0M392.6 415.3h0M528.9 448.6h0M446.9 387.2h0M521.0 450.9h0M529.4 421.6h0M428.7 404.9h0M387.4 402.5h0M452.3 462.5h0M529.5 423.0h0M366.3 458.2h0M498.8 399.6h0M343.2 440.2h0M478.2 434.4h0M490.4 459.9h0M349.2 447.4h0M511.5 410.3h0M398.8 396.8h0M432.1 397.6h0M408.8 450.1h0M535.2 457.6h0M433.8 397.3h0M450.4 432.9h0M422.8 388.6h0M452.7 449.8h0M486.6 446.6h0M385.1 404.0h0M331.3 418.0h0M419.4 451.6h0M451.1 463.2h0M383.8 407.7h0M499.9 438.4h0M474.0 464.3h0M350.0 446.8h0M383.8 462.0h0M348.0 458.9h0M418.3 384.3h0M416.7 423.4h0M421.4 405.8h0M422.7 408.0h0M428.7 410.6h0M490.5 388.5h0M474.9 420.8h0M503.8 423.1h0M454.4 437.8h0M422.6 435.6h0M343.7 396.4h0M401.1 422.3h0M391.2 410.6h0M427.3 440.4h0M384.4 449.8h0M478.1 423.9h0M482.5 426.9h0M364.1 409.7h0M328.4 452.5h0M467.5 447.8h0M395.5 423.9h0M476.3 419.8h0M438.2 425.6h0M359.3 415.6h0M336.4 446.0h0M516.7 442.2h0M427.3 404.2h0M435.9 424.9h0M443.7 459.5h0M412.0 412.0h0M333.0 412.6h0M481.1 464.3h0M530.9 411.4h0M402.1 463.3h0M493.8 449.6h0M352.3 411.6h0M499.5 445.5h0M443.1 454.8h0M456.6 413.3h0M456.6 400.2h0M403.4 445.7h0M453.4 426.0h0M509.6 396.8h0M434.5 445.4h0M524.4 412.7h0M492.8 457.1h0M360.4 382.8h0M522.7 441.7h0M326.0 434.8h0M408.8 412.9h0M517.5 465.1h0M532.4 410.5h0M481.1 452.9h0M531.9 406.7h0M472.9 404.3h0M536.9 412.5h0M421.4 443.1h0M461.1 409.0h0M386.7 414.6h0M456.1 457.9h0M458.1 421.1h0M469.7 422.3h0M515.6 418.7h0M466.0 441.9h0M421.0 434.8h0M404.5 437.6h0M483.8 407.8h0M451.2 406.5h0M337.2 459.2h0M356.7 406.4h0M425.6 448.0h0M479.2 424.1h0M366.9 406.6h0M458.5 455.7h0M388.9 432.0h0M441.9 406.5h0M446.7 453.9h0M507.0 445.0h0M366.6 460.2h0M504.5 435.8h0M440.2 454.0h0M500.9 429.4h0M529.8 442.9h0M447.3 449.0h0M336.3 386.0h0M374.8 411.1h0M480.0 384.1h0M529.9 389.0h0M456.3 463.3h0M406.8 388.8h0M490.0 406.9h0M423.0 409.7h0M494.5 394.2h0M539.8 407.6h0M477.0 404.2h0M421.6 385.1h0M510.3 417.4h0M469.2 424.2h0M457.5 451.5h0M495.2 462.7h0M348.3 401.2h0M378.6 440.7h0M437.2 396.3h0M384.2 422.5h0M435.8 454.9h0M384.6 409.8h0M436.4 401.1h0M514.5 449.9h0M532.5 417.8h0M336.0 450.8h0M375.0 420.5h0M501.4 457.9h0M324.4 406.4h0M333.1 391.0h0M409.3 422.1h0M415.2 435.3h0M336.6 459.9h0M512.3 450.6h0M415.5 398.6h0M417.2 396.3h0M347.1 410.2h0M367.8 452.9h0M443.6 441.6h0M397.6 411.9h0M370.9 442.3h0M488.1 463.5h0M330.6 444.8h0M470.8 386.5h0M344.3 390.5h0M369.1 404.8h0M399.2 462.6h0M383.7 413.8h0M330.5 393.5h0M384.3 462.6h0M377.8 392.3h0M371.2 433.5h0M424.6 413.4h0M453.0 441.1h0M486.6 406.0h0M388.7 453.5h0M470.7 385.6h0M483.1 416.3h0M534.8 404.5h0M391.8 462.0h0M475.3 414.6h0M538.2 460.6h0M530.0 432.3h0M430.2 399.8h0M398.8 384.1h0M374.0 386.4h0M324.8 435.1h0M434.7 438.0h0M534.5 414.2h0M519.0 406.4h0M405.5 450.6h0M503.6 386.8h0M386.2 406.0h0M337.9 449.8h0M441.6 410.7h0M439.6 390.4h0M363.9 388.5h0M436.1 449.5h0M376.3 421.8h0M482.1 457.3h0M440.3 446.2h0M517.9 418.5h0M492.7 384.7h0M499.7 391.4h0M407.7 417.0h0M440.0 399.9h0M483.8 401.4h0M406.8 417.5h0M421.4 418.9h0M335.9 402.4h0M528.9 454.2h0M381.7 441.4h0M424.7 439.7h0M443.6 402.1h0M416.8 404.8h0M462.6 391.4h0M489.5 449.0h0M409.5 440.3h0M522.9 428.1h0M344.3 407.3h0M380.9 446.1h0M410.0 412.4h0M475.4 437.6h0M379.5 453.2h0M328.4 410.7h0M490.6 444.9h0M353.9 395.1h0M537.8 388.0h0M433.8 424.2h0M435.9 454.2h0M461.9 462.8h0M528.7 395.8h0M327.9 438.8h0M377.5 417.8h0M403.0 402.1h0M422.7 390.6h0M491.7 402.7h0M467.6 412.0h0M396.4 412.6h0M477.9 411.4h0M396.7 392.7h0M414.8 449.8h0M377.4 399.4h0M357.4 390.6h0M512.4 404.8h0M524.7 443.3h0M407.8 425.0h0M331.0 398.5h0M344.3 386.3h0M476.3 441.0h0M433.4 382.7h0M516.8 385.1h0M507.3 421.8h0M412.0 437.1h0M425.6 429.1h0M471.9 396.7h0M444.4 459.5h0M370.4 465.1h0M492.9 391.8h0M373.4 407.8h0M338.3 422.0h0M498.0 456.1h0M515.8 388.3h0M449.7 437.0h0M362.1 407.1h0M410.3 423.3h0M387.2 431.4h0M357.9 417.6h0M483.2 465.6h0M525.2 431.5h0M384.7 395.2h0M465.9 455.2h0M448.8 418.7h0M454.4 387.3h0M449.6 420.8h0M483.9 435.1h0M466.1 388.2h0M339.3 453.4h0M511.6 446.9h0M365.6 436.1h0M360.6 394.8h0M491.9 435.1h0M439.8 445.1h0M489.5 401.4h0M413.0 425.5h0M454.6 463.0h0M426.0 394.1h0M366.2 413.0h0M384.7 386.0h0M352.4 416.2h0M522.7 450.7h0M460.5 419.5h0M487.0 412.2h0M408.2 399.8h0M331.8 455.6h0M496.8 409.7h0M347.7 400.4h0M416.1 454.0h0M349.8 412.0h0M400.4 420.5h0M486.2 398.2h0M480.8 385.9h0M374.0 442.9h0M494.0 382.1h0M455.5 456.6h0M492.1 454.8h0M373.2 451.9h0M537.3 439.1h0M497.0 458.3h0M377.5 410.8h0M347.8 441.4h0M423.4 461.6h0M503.2 422.8h0M469.1 395.1h0M497.1 463.5h0M526.4 419.9h0M426.0 440.2h0M495.8 440.0h0M403.2 400.4h0M498.6 440.3h0M473.0 461.8h0M520.7 428.9h0M428.2 411.3h0M379.3 459.0h0M485.6 420.9h0M450.1 401.4h0M505.0 414.6h0M324.4 449.6h0M522.1 419.5h0M532.8 390.2h0M371.7 390.5h0M354.7 412.5h0M464.8 401.4h0M422.1 441.1h0M381.9 424.0h0M426.3 396.7h0M478.6 402.1h0M364.8 422.4h0M517.3 434.7h0M504.0 450.4h0M432.3 465.0h0M377.7 403.1h0M478.0 459.4h0M461.6 422.1h0M465.1 393.4h0M473.9 381.8h0M527.6 406.7h0M527.6 463.6h0M355.6 405.9h0M417.4 443.4h0M408.3 422.6h0M425.7 418.5h0M484.6 427.5h0M458.6 420.0h0M408.5 408.4h0M489.4 442.7h0M478.0 390.6h0M393.7 432.4h0M449.8 444.3h0M325.8 423.2h0M333.4 417.9h0M428.7 391.9h0M352.5 463.3h0M392.7 419.3h0M359.4 454.9h0M428.6 384.2h0M455.9 413.6h0M437.8 448.7h0M339.3 432.7h0M417.0 417.9h0M424.0 445.6h0M520.7 419.9h0M390.5 414.4h0M363.0 447.0h0M519.6 386.9h0M366.3 454.3h0M338.1 394.9h0M339.7 448.2h0M461.4 382.4h0M330.9 454.8h0M399.0 432.6h0M510.3 416.4h0M512.4 392.0h0M329.4 386.7h0M515.5 390.0h0M529.2 411.7h0M490.4 385.3h0M531.6 397.2h0M469.1 388.8h0M377.8 448.6h0M507.3 427.6h0M325.7 458.0h0M352.9 384.6h0M338.5 458.0h0M405.9 413.2h0M536.2 457.8h0M386.4 402.8h0M482.6 418.0h0M530.4 437.9h0M541.0 461.1h0M482.1 452.1h0M538.0 396.5h0M377.0 407.5h0M525.0 393.5h0M441.3 453.7h0M438.5 382.1h0M453.2 389.1h0M407.8 423.1h0M366.0 394.5h0M359.7 419.5h0M380.1 461.0h0M476.1 423.1h0M406.4 424.8h0M404.0 438.3h0M469.2 421.3h0M462.8 454.8h0M513.4 461.4h0M394.9 463.8h0M466.6 386.5h0M430.0 411.4h0M486.2 403.6h0M385.6 444.5h0M503.6 437.2h0M329.7 430.7h0M497.1 409.4h0M513.2 438.6h0M500.9 399.7h0M408.5 451.7h0M345.5 397.0h0M521.8 448.2h0M330.1 456.1h0M385.3 438.2h0M529.5 464.6h0M482.0 439.7h0M476.2 408.9h0M367.9 385.1h0M393.7 447.7h0M394.5 443.7h0M384.0 449.5h0M535.6 410.5h0M419.2 438.2h0M453.1 440.7h0M394.9 425.9h0M368.9 411.0h0M460.2 401.9h0M491.7 465.1h0M327.6 423.2h0M527.8 393.6h0M434.8 422.7h0M447.1 446.8h0M349.6 401.0h0M478.5 431.1h0M385.2 463.3h0M508.7 401.1h0M511.4 465.2h0M404.0 436.2h0M331.8 398.3h0M330.6 464.1h0M524.4 395.2h0M502.0 426.2h0M528.2 443.8h0M494.6 390.9h0M431.1 385.7h0M525.4 424.3h0M402.9 425.8h0M390.4 432.4h0M350.1 385.3h0M380.3 463.7h0M525.1 411.2h0M332.5 422.8h0"/>
<path stroke="#88c6e0" stroke-width="1.3" stroke-linecap="square" stroke-opacity="0.9" d="M331.9 446.2h0M434.7 452.6h0M367.4 411.7h0M416.2 456.6h0M529.1 418.3h0M376.9 419.9h0M379.2 464.9h0M363.4 397.1h0M427.7 438.6h0M408.8 449.2h0M331.3 409.2h0M332.9 414.7h0M416.5 442.7h0M515.0 441.7h0M430.4 403.0h0M359.3 411.3h0M481.1 442.9h0M351.1 447.4h0M432.5 455.3h0M333.0 448.1h0M482.4 432.8h0M433.8 419.5h0M344.4 430.4h0M337.3 462.0h0M331.8 410.9h0M337.0 389.1h0M417.5 387.4h0M458.7 421.0h0M496.8 401.6h0M514.9 405.3h0M495.4 429.6h0M541.2 438.0h0M530.2 431.7h0M527.0 445.0h0M408.1 401.3h0M528.4 429.3h0M398.8 414.4h0M538.4 394.6h0M351.0 420.9h0M428.3 425.6h0M480.7 415.1h0M471.5 399.3h0M478.6 430.7h0M487.4 414.3h0M461.3 452.0h0M406.3 460.0h0M361.6 433.6h0M379.1 408.1h0M427.5 403.3h0M531.6 434.7h0M538.0 444.2h0M390.8 393.5h0M521.1 431.7h0M512.8 412.2h0M386.6 463.0h0M508.6 423.8h0M475.2 460.6h0M441.1 401.5h0M345.2 417.6h0M376.6 454.9h0M488.7 421.4h0M413.3 463.5h0M396.2 396.2h0M505.3 418.6h0M325.8 403.9h0M438.6 443.7h0M375.2 408.5h0M465.2 424.1h0M538.2 454.3h0M450.1 425.5h0M512.9 433.7h0M350.4 435.0h0M420.2 433.4h0M401.6 424.2h0M358.9 452.1h0M341.5 435.1h0M371.1 422.9h0M412.7 426.0h0M464.8 455.2h0M462.2 403.4h0M494.1 401.6h0M504.2 407.0h0M539.2 429.7h0M490.1 409.1h0M491.1 406.6h0M346.0 424.7h0M336.6 400.6h0M440.0 446.6h0M338.8 385.1h0M360.3 428.2h0M336.1 440.6h0M468.8 437.7h0M364.8 432.5h0M412.6 442.5h0M385.0 414.9h0M362.0 401.5h0M512.7 407.2h0M399.8 405.3h0M431.1 392.0h0M528.3 438.1h0M406.2 448.9h0M398.3 431.6h0M486.4 387.4h0M387.7 430.6h0M409.1 455.1h0M494.1 455.4h0M397.3 438.6h0M370.1 422.5h0M471.5 423.6h0M447.8 391.4h0M399.3 437.6h0M380.0 429.6h0M461.3 459.7h0M360.3 408.1h0M471.8 417.0h0M350.5 462.3h0M345.1 438.5h0M517.5 397.3h0M480.8 406.3h0M330.2 449.5h0M483.1 450.9h0M323.8 395.8h0M411.7 412.6h0M397.2 450.8h0M400.5 421.9h0M528.0 433.5h0M468.6 442.8h0M412.6 417.7h0M386.6 408.5h0M380.9 448.0h0M481.4 454.4h0M510.1 420.1h0M359.9 390.1h0M469.4 441.4h0M392.7 408.6h0M338.1 400.0h0M400.0 424.2h0M366.7 466.1h0M517.0 432.4h0M343.9 437.5h0M430.3 408.4h0M330.8 392.7h0M511.6 422.2h0M409.3 445.6h0M468.6 435.0h0M369.3 396.4h0M328.6 400.8h0M468.3 439.7h0M384.6 443.5h0M356.8 400.8h0M502.1 447.8h0M331.9 414.3h0M452.4 465.0h0M504.8 403.8h0M537.3 430.5h0M478.5 434.8h0M347.0 448.4h0M425.3 407.3h0M347.6 449.3h0M496.9 428.1h0M537.3 385.1h0M524.7 389.0h0M376.9 383.2h0M500.7 435.4h0M417.8 447.0h0M403.1 399.3h0M426.5 445.0h0M537.1 428.6h0M365.2 431.2h0M517.8 384.5h0M526.6 450.2h0M417.9 419.2h0M402.0 462.1h0M480.2 448.9h0M526.6 401.9h0M453.1 419.0h0M535.0 437.2h0M332.5 394.2h0M508.8 425.4h0M478.2 449.9h0M522.6 447.6h0M467.6 383.5h0M457.0 405.3h0M455.3 395.4h0M369.1 408.4h0M491.0 402.1h0M402.3 406.4h0M466.9 404.6h0M505.9 458.7h0M398.1 444.1h0M435.3 460.0h0M540.1 392.8h0M460.1 402.1h0M365.0 416.6h0M482.4 445.3h0M391.5 433.4h0M489.1 389.1h0M439.2 412.5h0M349.8 448.1h0M531.6 398.8h0M342.6 410.1h0M465.9 391.9h0M362.3 401.1h0M352.9 437.2h0M328.2 398.1h0M471.1 405.3h0M458.6 450.6h0M471.8 455.8h0M395.0 388.5h0M357.3 394.3h0M496.6 382.5h0M524.0 405.9h0M468.7 411.0h0M412.6 395.7h0M521.9 462.3h0M370.1 392.1h0M331.4 431.2h0M404.5 382.5h0M418.8 449.1h0M352.8 435.8h0M430.1 409.6h0M354.7 458.2h0M500.4 387.1h0M383.7 400.8h0M490.5 406.7h0M522.4 458.6h0M527.2 454.9h0M539.9 410.4h0M377.5 396.7h0M393.4 383.8h0M460.7 450.1h0M402.4 439.8h0M415.2 444.7h0M354.5 394.7h0M512.7 462.5h0M447.8 427.5h0M344.0 437.7h0M338.1 412.1h0M517.1 463.2h0M514.0 395.1h0M414.2 428.5h0M404.0 409.8h0M486.2 442.9h0M422.7 413.5h0M530.2 432.9h0M347.2 385.3h0M355.8 395.5h0M360.3 442.3h0M436.8 389.7h0M524.3 385.4h0M418.2 401.5h0M521.6 387.1h0M344.1 424.9h0M441.1 456.8h0M408.8 450.2h0M387.6 423.2h0M385.4 454.3h0M438.1 463.9h0M470.0 458.8h0M486.7 386.7h0M343.4 405.2h0M404.7 444.2h0M434.4 402.3h0M424.0 381.7h0M411.7 387.2h0M454.4 404.6h0M330.7 388.2h0M520.3 429.3h0M484.2 390.2h0M458.2 425.5h0M331.4 452.0h0M415.7 400.0h0M499.8 444.4h0M400.5 391.3h0M389.0 461.4h0M338.3 438.8h0M347.1 432.7h0M470.6 444.1h0M350.5 389.0h0M481.4 391.9h0M469.1 448.1h0M513.8 401.5h0M345.7 422.7h0M390.5 430.0h0M335.8 438.7h0M457.6 413.3h0M522.1 389.9h0M495.7 389.0h0M422.4 387.3h0M491.5 397.0h0M520.6 461.7h0M455.3 445.6h0M413.8 430.7h0M489.8 428.4h0M379.6 441.4h0M464.6 412.8h0M502.6 434.2h0M452.2 445.4h0M403.4 457.6h0M501.5 459.7h0M407.1 384.2h0M403.2 425.3h0M356.1 446.6h0M502.0 424.3h0M357.5 441.4h0M340.0 413.6h0M379.2 436.3h0M419.1 423.2h0M406.9 441.7h0M502.0 392.9h0M481.3 421.0h0M424.2 435.3h0M406.9 449.3h0M374.4 382.7h0M431.3 429.1h0M327.8 387.4h0M500.4 434.2h0M383.2 417.2h0M395.4 399.2h0M404.4 409.1h0M437.7 419.7h0M367.2 424.0h0M377.8 410.2h0M535.0 448.1h0M453.7 418.4h0M335.9 393.8h0M410.8 459.0h0M419.0 415.2h0M470.7 430.8h0M357.0 419.2h0M403.4 456.3h0M330.0 393.8h0M430.9 427.0h0M532.6 386.3h0M410.8 420.5h0M462.5 410.1h0M516.4 441.5h0M441.8 397.3h0M538.5 420.7h0M461.8 401.6h0M465.2 388.4h0M528.5 460.2h0M538.7 423.9h0M440.1 425.3h0M445.5 413.6h0M442.0 394.4h0M487.5 443.0h0M329.1 389.6h0M389.6 420.9h0M524.5 428.6h0M538.2 408.6h0M371.1 453.6h0M503.8 400.8h0M334.0 465.9h0M438.8 449.4h0M478.7 456.4h0M380.7 429.4h0M400.7 443.6h0M470.4 409.3h0M540.2 415.7h0M480.5 394.1h0M332.1 437.3h0M420.4 383.5h0M334.0 449.4h0M401.7 424.3h0M408.0 413.3h0M432.9 396.5h0M411.1 425.9h0M377.9 381.9h0M399.1 434.4h0M379.2 418.8h0M532.2 407.4h0M501.2 409.6h0M540.6 427.3h0M483.3 462.6h0M477.7 420.8h0M471.2 455.7h0M404.5 454.4h0M381.0 436.7h0M503.3 453.5h0M331.8 461.5h0M472.2 450.8h0M424.0 388.4h0M422.9 448.3h0M345.0 448.8h0M337.7 406.9h0M462.8 397.6h0M372.9 443.8h0M341.8 419.0h0M358.1 410.7h0M442.8 448.0h0M333.2 449.5h0M472.0 403.4h0M331.1 433.5h0M515.0 410.0h0M536.7 396.6h0M462.9 417.7h0M420.3 404.0h0M329.8 410.2h0M384.8 432.3h0M385.4 396.6h0M328.3 428.6h0M334.7 460.7h0M344.9 441.0h0M416.2 432.9h0M462.0 456.7h0M409.3 428.4h0M341.6 394.1h0M522.1 382.0h0M490.8 408.2h0M410.4 459.3h0M492.8 425.0h0M422.4 392.1h0M517.2 424.4h0M387.2 439.2h0M473.3 401.3h0M487.7 413.8h0M327.8 418.5h0M337.9 441.5h0M325.9 384.2h0M501.6 417.1h0M530.3 444.4h0M539.1 389.1h0M353.3 444.7h0M423.8 464.6h0M327.6 413.6h0M530.2 396.4h0M436.6 452.3h0M414.7 453.0h0M478.1 463.1h0M499.2 405.7h0M510.6 448.9h0M340.7 386.8h0M368.8 429.6h0M412.3 411.6h0M329.1 388.2h0M506.7 451.7h0M418.4 431.2h0M497.0 443.3h0M466.1 381.7h0M370.5 460.2h0M490.1 452.8h0M401.2 444.0h0M452.3 412.0h0M459.2 389.8h0M350.4 435.1h0M349.4 460.3h0M485.1 454.4h0M386.3 388.0h0M513.6 414.7h0M471.7 406.4h0M525.2 395.9h0M326.3 391.0h0M469.9 422.7h0M328.8 431.5h0M499.6 442.6h0M356.6 404.4h0M484.9 397.4h0M475.1 418.6h0M456.9 382.6h0M413.5 427.5h0M372.5 410.3h0M428.4 431.5h0M388.0 429.8h0M354.6 436.1h0M465.3 405.6h0M401.7 385.3h0M364.3 448.5h0M444.0 409.0h0M354.0 419.1h0M415.2 397.7h0M422.5 424.3h0M342.1 428.9h0M336.1 387.6h0M432.9 393.4h0M404.6 382.3h0M452.2 452.8h0M404.1 428.2h0M361.8 415.2h0M342.5 434.0h0M489.3 433.9h0M397.4 383.1h0M461.0 455.2h0M482.4 397.8h0M377.5 411.2h0M353.7 402.6h0M324.1 437.9h0M392.7 393.1h0M345.7 441.1h0M345.3 384.5h0M426.2 412.1h0M529.4 457.1h0M385.9 442.4h0M345.3 428.8h0M424.8 386.3h0M416.8 397.2h0M519.7 432.1h0M498.9 392.5h0M467.0 399.3h0M458.6 462.4h0M406.5 418.2h0M422.8 410.6h0M426.4 462.2h0M475.6 424.3h0M377.6 426.7h0M494.2 395.0h0M528.0 421.3h0M404.8 397.1h0M501.1 386.1h0M380.7 438.6h0M357.8 464.1h0M459.7 413.7h0M438.8 391.1h0M378.9 450.5h0M509.6 409.1h0M370.8 413.3h0M371.1 422.6h0M436.2 396.2h0M422.8 437.5h0M421.4 466.0h0M398.3 459.9h0M423.8 453.3h0M486.0 446.7h0M367.8 431.3h0M434.8 435.2h0M331.7 419.1h0M435.0 418.0h0M400.5 451.8h0M538.0 409.3h0M343.8 405.1h0M351.1 456.9h0M461.8 392.1h0M428.0 390.2h0M372.7 440.0h0M373.7 405.2h0M487.0 428.9h0M407.6 408.2h0M441.0 393.2h0M411.6 451.3h0M453.8 382.8h0M506.7 401.1h0M512.0 449.2h0M355.2 437.5h0M534.3 429.2h0M449.6 402.0h0M421.2 453.6h0M332.5 462.9h0M376.9 421.8h0M465.1 441.2h0M427.8 400.6h0M449.4 399.9h0M409.2 465.6h0M504.7 401.3h0M439.8 457.9h0M533.5 433.7h0M365.6 453.3h0M482.9 429.6h0M418.6 433.8h0M372.3 423.9h0M363.8 415.3h0M425.1 404.5h0M438.8 462.6h0M433.1 411.1h0M534.5 389.4h0M405.7 401.5h0M400.7 412.9h0M363.0 390.1h0M348.5 386.4h0M465.3 411.3h0M346.1 414.0h0M325.8 401.9h0M511.6 394.2h0M328.2 430.5h0M384.9 408.5h0M393.9 426.1h0M360.3 397.3h0M324.0 422.6h0M380.2 451.1h0M499.3 397.6h0M491.5 412.5h0M485.7 426.4h0M539.6 452.2h0M435.7 453.5h0M438.1 387.4h0M403.3 392.6h0M382.9 406.7h0M446.5 382.5h0M492.5 397.5h0M497.6 409.6h0M341.6 423.4h0M511.3 412.7h0M408.9 415.9h0M347.3 428.7h0M456.8 424.7h0M466.5 427.2h0M532.4 428.8h0M520.8 428.8h0M351.9 426.8h0M531.7 393.9h0M425.0 409.3h0M327.8 417.0h0M517.7 394.6h0M446.4 452.2h0M462.3 435.5h0M431.8 446.4h0M511.7 409.8h0M526.2 457.8h0M463.5 456.8h0M457.4 410.2h0M403.1 464.0h0M532.5 442.4h0M338.9 433.5h0M438.8 442.2h0M461.0 416.3h0M527.2 403.3h0M456.7 444.6h0M402.1 411.1h0M490.2 384.8h0M415.8 454.0h0M341.3 428.6h0M331.2 414.9h0M479.7 457.0h0M523.1 424.4h0M370.7 442.0h0M511.2 450.6h0M488.3 401.8h0M526.3 400.9h0M463.7 423.8h0M393.1 450.6h0M538.6 454.8h0M485.5 411.3h0M375.8 436.8h0M356.8 404.2h0M434.7 453.0h0M343.5 401.3h0M412.0 385.3h0M423.7 426.1h0M444.3 392.0h0M513.3 383.1h0M457.3 390.5h0M499.8 399.3h0M437.3 464.3h0M332.8 389.3h0M482.3 419.9h0M532.3 437.3h0M444.3 406.8h0M455.7 448.4h0M405.5 421.3h0M504.4 429.8h0M441.2 407.6h0M498.3 429.5h0M522.8 449.3h0M490.0 391.8h0M406.2 453.6h0M442.8 401.7h0M449.3 388.0h0M345.8 400.6h0M361.5 396.8h0M407.6 450.2h0M466.1 425.5h0M519.7 383.6h0M324.7 402.8h0M343.8 382.1h0M372.2 398.4h0M422.8 450.3h0M325.6 404.3h0M372.4 452.5h0M483.3 451.3h0M420.8 391.2h0M387.6 465.9h0M375.3 416.4h0M395.6 417.6h0M353.9 430.5h0M501.9 432.6h0M516.0 391.3h0M407.4 391.1h0M357.3 441.1h0M431.2 393.9h0M429.1 391.3h0M419.0 424.5h0M439.7 411.4h0M369.3 386.7h0M440.3 442.6h0M364.1 426.7h0M513.5 422.8h0M429.2 435.7h0M438.2 402.9h0M357.2 427.6h0M411.8 439.3h0M415.6 432.4h0M475.2 461.0h0M424.0 428.6h0M534.4 403.7h0M428.8 397.9h0M363.5 407.1h0M512.9 457.8h0M515.4 413.1h0M394.6 411.7h0M507.6 412.8h0M527.2 394.9h0M534.3 387.9h0M524.3 466.1h0M429.2 424.5h0M361.6 403.2h0M435.5 440.0h0M514.5 382.5h0M481.9 424.0h0M475.2 393.3h0M366.1 441.9h0M354.6 423.2h0M413.1 400.6h0M441.8 412.6h0M389.3 413.6h0M361.4 428.7h0M512.9 454.2h0M456.4 446.3h0M422.2 435.6h0M504.4 451.6h0M469.1 450.1h0M399.2 418.2h0M430.2 382.5h0M399.6 456.5h0M348.0 438.1h0M410.5 407.1h0M425.2 407.3h0M446.1 418.8h0M455.3 427.4h0M446.7 458.3h0M443.8 394.2h0M443.9 435.9h0M449.7 435.5h0M463.4 462.9h0M456.2 430.9h0M409.5 435.8h0M440.2 465.8h0M517.9 456.8h0M529.1 447.8h0M477.8 397.1h0M447.6 432.4h0M535.5 393.3h0M324.9 435.6h0M513.4 394.3h0M534.1 461.3h0M535.5 439.2h0M450.7 428.8h0M431.2 403.3h0M530.4 391.5h0M368.1 397.6h0M376.4 439.8h0M491.3 420.3h0M366.6 382.0h0M479.3 394.2h0M454.4 430.0h0M420.2 430.3h0M514.0 400.7h0M538.8 419.2h0M531.3 392.7h0M391.6 432.7h0M389.4 442.7h0M510.0 440.4h0M468.3 423.7h0M480.4 429.3h0M499.2 427.5h0M535.3 437.3h0M435.5 399.8h0M476.9 446.6h0M336.6 456.6h0M372.8 383.7h0M425.8 431.9h0M332.4 416.9h0M333.2 455.1h0M511.7 451.4h0M333.3 381.8h0M451.0 408.1h0M393.6 436.8h0M540.7 460.6h0M359.7 391.0h0M515.5 454.8h0M348.7 421.3h0M374.2 449.7h0M529.7 458.6h0M443.0 430.3h0M434.1 440.4h0M455.3 463.5h0M393.4 429.0h0M491.3 461.9h0M346.7 403.2h0M468.8 394.5h0M504.4 390.9h0M419.5 449.5h0M351.8 406.9h0M373.8 466.0h0M421.6 454.2h0M407.0 431.1h0M516.6 464.1h0M401.3 384.5h0M505.3 385.1h0M526.0 463.5h0M431.4 420.3h0M419.5 462.7h0M402.3 446.8h0M443.2 390.3h0M510.6 441.6h0M402.0 435.9h0M380.8 462.2h0M330.5 420.2h0M425.9 385.4h0M396.8 401.5h0M458.2 430.0h0M445.0 435.1h0M411.9 450.0h0M354.4 462.4h0M385.8 403.7h0M332.9 451.2h0M404.9 395.0h0M448.8 394.9h0M445.3 443.3h0M450.1 431.3h0M419.0 388.7h0M482.3 458.7h0M340.8 410.7h0M534.5 432.9h0M378.6 435.5h0M467.6 425.4h0M467.0 393.5h0M463.9 462.5h0M405.1 455.4h0M462.1 415.3h0M480.3 388.7h0M536.3 413.2h0M389.3 434.7h0M398.7 382.1h0M382.5 407.3h0M371.0 419.4h0M483.7 398.1h0M396.3 401.4h0M490.2 410.6h0M504.1 440.1h0M453.4 411.8h0"/>
<text x="130" y="121.6" text-anchor="middle" font-family="Liberation Serif, serif" font-size="14" fill="#111">(<tspan font-weight="bold">a</tspan>)</text>
<text x="130" y="245.6" text-anchor="middle" font-family="Liberation Serif, serif" font-size="14" fill="#111">(<tspan font-weight="bold">b</tspan>)</text>
<text x="130" y="369.6" text-anchor="middle" font-family="Liberation Serif, serif" font-size="14" fill="#111">(<tspan font-weight="bold">c</tspan>)</text>
<text x="130" y="494.1" text-anchor="middle" font-family="Liberation Serif, serif" font-size="14" fill="#111">(<tspan font-weight="bold">d</tspan>)</text>
<text x="427.6" y="121.6" text-anchor="middle" font-family="Liberation Serif, serif" font-size="14" fill="#111">(<tspan font-weight="bold">e</tspan>)</text>
<text x="427.6" y="245.6" text-anchor="middle" font-family="Liberation Serif, serif" font-size="14" fill="#111">(<tspan font-weight="bold">f</tspan>)</text>
<text x="427.6" y="369.6" text-anchor="middle" font-family="Liberation Serif, serif" font-size="14" fill="#111">(<tspan font-weight="bold">g</tspan>)</text>
<text x="427.6" y="494.1" text-anchor="middle" font-family="Liberation Serif, serif" font-size="14" fill="#111">(<tspan font-weight="bold">h</tspan>)</text>
</svg>
</body></html>
